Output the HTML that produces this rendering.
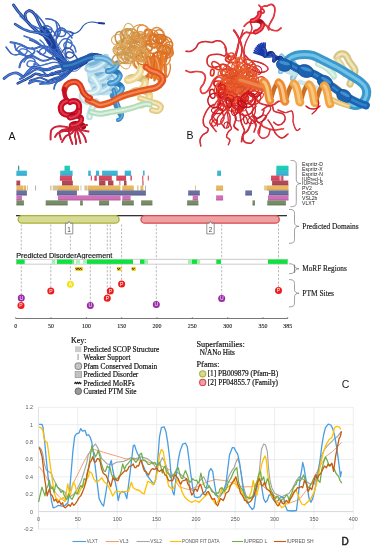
<!DOCTYPE html>
<html><head><meta charset="utf-8"><title>Figure</title>
<style>html,body{margin:0;padding:0;background:#fff;} svg{display:block;}</style></head>
<body><svg width="372" height="550" viewBox="0 0 372 550">
<rect width="372" height="550" fill="#fff"/>
<g id="A"><path d="M44,30 C50,40 56,50 60,58 C63,64 67,67 73,66 C79,64 85,60 90,57.5 C94,56.5 97,57 100,58" fill="none" stroke="#1a3a90" stroke-width="8.0" stroke-linecap="round" stroke-linejoin="round"/>
<path d="M40.4,31.8 C46.4,41.8 54.4,53.8 60.4,62.8 C65.84,70.6 72,72.6 77,70.6 C82,67.6 86,60.88 92,57.16" fill="none" stroke="#2a52b8" stroke-width="0.8" stroke-linecap="round" stroke-linejoin="round"/>
<path d="M42.2,30.9 C48.2,40.9 56.2,52.9 62.2,61.9 C66.92,68.8 72,70.8 77,68.8 C82,65.8 86,59.44 92,56.08" fill="none" stroke="#2048a8" stroke-width="0.8" stroke-linecap="round" stroke-linejoin="round"/>
<path d="M44.0,30.0 C50.0,40.0 58.0,52.0 64.0,61.0 C68.0,67.0 72,69.0 77,67.0 C82,64.0 86,58.0 92,55.0" fill="none" stroke="#2048a8" stroke-width="0.8" stroke-linecap="round" stroke-linejoin="round"/>
<path d="M45.8,29.1 C51.8,39.1 59.8,51.1 65.8,60.1 C69.08,65.2 72,67.2 77,65.2 C82,62.2 86,56.56 92,53.92" fill="none" stroke="#2a52b8" stroke-width="0.8" stroke-linecap="round" stroke-linejoin="round"/>
<path d="M47.6,28.2 C53.6,38.2 61.6,50.2 67.6,59.2 C70.16,63.4 72,65.4 77,63.4 C82,60.4 86,55.12 92,52.84" fill="none" stroke="#3560c4" stroke-width="0.8" stroke-linecap="round" stroke-linejoin="round"/>
<path d="M13.5,5 C16,9 20,14 24,18 C28,23 33,28 38,32 C42,35 46,36 50,40" fill="none" stroke="#1b3a8c" stroke-width="2.9" stroke-linecap="round" stroke-linejoin="round"/><path d="M13.5,5 C16,9 20,14 24,18 C28,23 33,28 38,32 C42,35 46,36 50,40" fill="none" stroke="#5a88d8" stroke-width="1.10" stroke-linecap="round" stroke-linejoin="round"/>
<path d="M26,19 C24,15 25,12 29,10.5 C33,11 36,15 38,21 C40,26 43,31 47,35" fill="none" stroke="#1b3a8c" stroke-width="2.8" stroke-linecap="round" stroke-linejoin="round"/><path d="M26,19 C24,15 25,12 29,10.5 C33,11 36,15 38,21 C40,26 43,31 47,35" fill="none" stroke="#5a88d8" stroke-width="1.06" stroke-linecap="round" stroke-linejoin="round"/>
<path d="M15,24 C19,27 24,30 30,31.5 C36,32.5 42,33 48,35" fill="none" stroke="#2450ae" stroke-width="2.5" stroke-linecap="round" stroke-linejoin="round"/><path d="M15,24 C19,27 24,30 30,31.5 C36,32.5 42,33 48,35" fill="none" stroke="#5a88d8" stroke-width="0.95" stroke-linecap="round" stroke-linejoin="round"/>
<path d="M45.7,18.8 C49,18.5 53.8,20 56,21.5 C58.5,23 61.4,28 60,33 C59,35 58.5,36 57,38" fill="none" stroke="#2450ae" stroke-width="1.3" stroke-linecap="round" stroke-linejoin="round"/><path d="M45.7,18.8 C49,18.5 53.8,20 56,21.5 C58.5,23 61.4,28 60,33 C59,35 58.5,36 57,38" fill="none" stroke="#5a88d8" stroke-width="0.49" stroke-linecap="round" stroke-linejoin="round"/>
<path d="M64.4,31.8 C67,31 70.3,31.1 73.3,33.3 C73,35 71,36 70.3,36.3 C68,37 67,39 66,44 C65,50 65,56 66,62" fill="none" stroke="#2f5fbc" stroke-width="1.6" stroke-linecap="round" stroke-linejoin="round"/><path d="M64.4,31.8 C67,31 70.3,31.1 73.3,33.3 C73,35 71,36 70.3,36.3 C68,37 67,39 66,44 C65,50 65,56 66,62" fill="none" stroke="#5a88d8" stroke-width="0.61" stroke-linecap="round" stroke-linejoin="round"/>
<path d="M56,22 C58,28 58,34 56,40 C56,46 58,52 62,58" fill="none" stroke="#2450ae" stroke-width="1.5" stroke-linecap="round" stroke-linejoin="round"/><path d="M56,22 C58,28 58,34 56,40 C56,46 58,52 62,58" fill="none" stroke="#5a88d8" stroke-width="0.57" stroke-linecap="round" stroke-linejoin="round"/>
<path d="M36,14 C40,18 44,22 46,28" fill="none" stroke="#2450ae" stroke-width="1.6" stroke-linecap="round" stroke-linejoin="round"/><path d="M36,14 C40,18 44,22 46,28" fill="none" stroke="#5a88d8" stroke-width="0.61" stroke-linecap="round" stroke-linejoin="round"/>
<path d="M20,16 C26,22 32,26 38,28 C42,29 44,30 46,32" fill="none" stroke="#2f5fbc" stroke-width="1.4" stroke-linecap="round" stroke-linejoin="round"/><path d="M20,16 C26,22 32,26 38,28 C42,29 44,30 46,32" fill="none" stroke="#5a88d8" stroke-width="0.53" stroke-linecap="round" stroke-linejoin="round"/>
<path d="M30,40 C36,42 42,46 48,50 C54,54 58,57 62,60" fill="none" stroke="#1b3a8c" stroke-width="1.8" stroke-linecap="round" stroke-linejoin="round"/><path d="M30,40 C36,42 42,46 48,50 C54,54 58,57 62,60" fill="none" stroke="#5a88d8" stroke-width="0.68" stroke-linecap="round" stroke-linejoin="round"/>
<path d="M24,36 C30,38 36,40 40,44 C44,48 48,52 54,56" fill="none" stroke="#2f5fbc" stroke-width="1.4" stroke-linecap="round" stroke-linejoin="round"/><path d="M24,36 C30,38 36,40 40,44 C44,48 48,52 54,56" fill="none" stroke="#5a88d8" stroke-width="0.53" stroke-linecap="round" stroke-linejoin="round"/>
<path d="M10.5,42.3 C11.4,42.4 14.4,42.7 16.1,43.1 C17.9,43.5 19.1,43.9 21.0,44.7 C22.9,45.5 25.2,47.2 27.4,47.9 C29.5,48.6 32.0,48.8 33.9,48.7 C35.8,48.6 37.1,47.5 38.7,47.1 C40.3,46.7 41.6,46.2 43.5,46.3 C45.4,46.4 47.9,46.9 50.0,47.9 C52.1,48.9 54.0,50.3 56.0,52.0 C58.0,53.7 60.0,56.2 62.0,58.0 C64.0,59.8 67.0,62.2 68.0,63.0" fill="none" stroke="#2450ae" stroke-width="2.0" stroke-linecap="round" stroke-linejoin="round"/><path d="M10.5,42.3 C11.4,42.4 14.4,42.7 16.1,43.1 C17.9,43.5 19.1,43.9 21.0,44.7 C22.9,45.5 25.2,47.2 27.4,47.9 C29.5,48.6 32.0,48.8 33.9,48.7 C35.8,48.6 37.1,47.5 38.7,47.1 C40.3,46.7 41.6,46.2 43.5,46.3 C45.4,46.4 47.9,46.9 50.0,47.9 C52.1,48.9 54.0,50.3 56.0,52.0 C58.0,53.7 60.0,56.2 62.0,58.0 C64.0,59.8 67.0,62.2 68.0,63.0" fill="none" stroke="#5a88d8" stroke-width="0.76" stroke-linecap="round" stroke-linejoin="round"/>
<path d="M14.5,43.9 C14.8,44.8 15.0,48.0 16.1,49.5 C17.2,51.0 19.4,51.6 21.0,52.7 C22.6,53.8 23.9,55.7 25.8,56.0 C27.7,56.3 30.8,55.2 32.3,54.4 C33.8,53.6 34.7,52.2 34.7,51.1 C34.7,50.0 32.7,48.4 32.3,47.9" fill="none" stroke="#2f5fbc" stroke-width="1.8" stroke-linecap="round" stroke-linejoin="round"/><path d="M14.5,43.9 C14.8,44.8 15.0,48.0 16.1,49.5 C17.2,51.0 19.4,51.6 21.0,52.7 C22.6,53.8 23.9,55.7 25.8,56.0 C27.7,56.3 30.8,55.2 32.3,54.4 C33.8,53.6 34.7,52.2 34.7,51.1 C34.7,50.0 32.7,48.4 32.3,47.9" fill="none" stroke="#5a88d8" stroke-width="0.68" stroke-linecap="round" stroke-linejoin="round"/>
<path d="M19.4,67.3 C19.7,66.5 19.9,64.0 21.0,62.4 C22.1,60.8 23.9,58.7 25.8,57.6 C27.7,56.5 30.1,55.7 32.3,56.0 C34.4,56.3 36.8,58.4 38.7,59.2 C40.6,60.0 41.6,60.8 43.5,60.8 C45.4,60.8 48.1,60.0 50.0,59.2 C51.9,58.4 53.1,56.2 54.8,56.0 C56.5,55.8 58.1,56.8 60.0,58.0 C61.9,59.2 64.0,61.7 66.0,63.0 C68.0,64.3 71.0,65.5 72.0,66.0" fill="none" stroke="#2450ae" stroke-width="2.0" stroke-linecap="round" stroke-linejoin="round"/><path d="M19.4,67.3 C19.7,66.5 19.9,64.0 21.0,62.4 C22.1,60.8 23.9,58.7 25.8,57.6 C27.7,56.5 30.1,55.7 32.3,56.0 C34.4,56.3 36.8,58.4 38.7,59.2 C40.6,60.0 41.6,60.8 43.5,60.8 C45.4,60.8 48.1,60.0 50.0,59.2 C51.9,58.4 53.1,56.2 54.8,56.0 C56.5,55.8 58.1,56.8 60.0,58.0 C61.9,59.2 64.0,61.7 66.0,63.0 C68.0,64.3 71.0,65.5 72.0,66.0" fill="none" stroke="#5a88d8" stroke-width="0.76" stroke-linecap="round" stroke-linejoin="round"/>
<path d="M4.0,78.5 C5.0,77.8 7.7,75.4 9.7,74.5 C11.7,73.6 14.2,72.8 16.1,72.9 C18.0,73.0 19.8,74.6 21.0,75.3 C22.2,76.0 22.1,77.7 23.4,76.9 C24.7,76.1 27.2,72.1 29.0,70.5 C30.8,68.9 31.8,67.6 33.9,67.3 C36.0,67.0 39.5,68.5 41.9,68.9 C44.3,69.3 46.2,70.0 48.4,69.7 C50.5,69.4 52.5,67.9 54.8,67.3 C57.1,66.7 59.5,66.0 62.0,66.0 C64.5,66.0 68.7,66.8 70.0,67.0" fill="none" stroke="#2450ae" stroke-width="2.8" stroke-linecap="round" stroke-linejoin="round"/><path d="M4.0,78.5 C5.0,77.8 7.7,75.4 9.7,74.5 C11.7,73.6 14.2,72.8 16.1,72.9 C18.0,73.0 19.8,74.6 21.0,75.3 C22.2,76.0 22.1,77.7 23.4,76.9 C24.7,76.1 27.2,72.1 29.0,70.5 C30.8,68.9 31.8,67.6 33.9,67.3 C36.0,67.0 39.5,68.5 41.9,68.9 C44.3,69.3 46.2,70.0 48.4,69.7 C50.5,69.4 52.5,67.9 54.8,67.3 C57.1,66.7 59.5,66.0 62.0,66.0 C64.5,66.0 68.7,66.8 70.0,67.0" fill="none" stroke="#5a88d8" stroke-width="1.06" stroke-linecap="round" stroke-linejoin="round"/>
<path d="M17.7,83.4 C18.8,82.9 22.0,81.3 24.2,80.2 C26.4,79.1 28.7,78.0 30.6,76.9 C32.5,75.8 33.6,74.0 35.5,73.7 C37.4,73.4 39.8,75.0 41.9,75.3 C44.0,75.6 46.2,75.6 48.4,75.3 C50.5,75.0 52.5,74.4 54.8,73.7 C57.1,73.0 59.5,72.0 62.0,71.0 C64.5,70.0 67.7,68.7 70.0,68.0 C72.3,67.3 75.0,67.2 76.0,67.0" fill="none" stroke="#1b3a8c" stroke-width="2.6" stroke-linecap="round" stroke-linejoin="round"/><path d="M17.7,83.4 C18.8,82.9 22.0,81.3 24.2,80.2 C26.4,79.1 28.7,78.0 30.6,76.9 C32.5,75.8 33.6,74.0 35.5,73.7 C37.4,73.4 39.8,75.0 41.9,75.3 C44.0,75.6 46.2,75.6 48.4,75.3 C50.5,75.0 52.5,74.4 54.8,73.7 C57.1,73.0 59.5,72.0 62.0,71.0 C64.5,70.0 67.7,68.7 70.0,68.0 C72.3,67.3 75.0,67.2 76.0,67.0" fill="none" stroke="#5a88d8" stroke-width="0.99" stroke-linecap="round" stroke-linejoin="round"/>
<path d="M29.0,83.4 C30.1,83.0 33.4,81.3 35.5,81.0 C37.6,80.7 39.8,81.4 41.9,81.8 C44.0,82.2 46.2,83.4 48.4,83.4 C50.5,83.4 52.9,82.3 54.8,81.8 C56.7,81.3 58.1,81.2 60.0,80.2 C61.9,79.2 64.0,77.7 66.0,76.0 C68.0,74.3 70.0,71.7 72.0,70.0 C74.0,68.3 77.0,66.7 78.0,66.0" fill="none" stroke="#2450ae" stroke-width="2.2" stroke-linecap="round" stroke-linejoin="round"/><path d="M29.0,83.4 C30.1,83.0 33.4,81.3 35.5,81.0 C37.6,80.7 39.8,81.4 41.9,81.8 C44.0,82.2 46.2,83.4 48.4,83.4 C50.5,83.4 52.9,82.3 54.8,81.8 C56.7,81.3 58.1,81.2 60.0,80.2 C61.9,79.2 64.0,77.7 66.0,76.0 C68.0,74.3 70.0,71.7 72.0,70.0 C74.0,68.3 77.0,66.7 78.0,66.0" fill="none" stroke="#5a88d8" stroke-width="0.84" stroke-linecap="round" stroke-linejoin="round"/>
<path d="M33.9,64.0 C35.0,64.3 38.1,65.6 40.3,65.6 C42.4,65.6 44.6,64.5 46.8,64.0 C48.9,63.5 51.0,62.6 53.2,62.4 C55.4,62.2 57.5,62.4 60.0,63.0 C62.5,63.6 66.7,65.5 68.0,66.0" fill="none" stroke="#2f5fbc" stroke-width="1.4" stroke-linecap="round" stroke-linejoin="round"/><path d="M33.9,64.0 C35.0,64.3 38.1,65.6 40.3,65.6 C42.4,65.6 44.6,64.5 46.8,64.0 C48.9,63.5 51.0,62.6 53.2,62.4 C55.4,62.2 57.5,62.4 60.0,63.0 C62.5,63.6 66.7,65.5 68.0,66.0" fill="none" stroke="#5a88d8" stroke-width="0.53" stroke-linecap="round" stroke-linejoin="round"/>
<path d="M37.1,51.1 C37.9,51.6 40.0,53.3 41.9,54.4 C43.8,55.5 46.2,56.8 48.4,57.6 C50.5,58.4 52.5,58.5 54.8,59.2 C57.1,59.9 59.5,60.9 62.0,62.0 C64.5,63.1 68.7,65.3 70.0,66.0" fill="none" stroke="#1b3a8c" stroke-width="1.6" stroke-linecap="round" stroke-linejoin="round"/><path d="M37.1,51.1 C37.9,51.6 40.0,53.3 41.9,54.4 C43.8,55.5 46.2,56.8 48.4,57.6 C50.5,58.4 52.5,58.5 54.8,59.2 C57.1,59.9 59.5,60.9 62.0,62.0 C64.5,63.1 68.7,65.3 70.0,66.0" fill="none" stroke="#5a88d8" stroke-width="0.61" stroke-linecap="round" stroke-linejoin="round"/>
<path d="M6.0,47.0 C6.5,47.7 8.0,49.8 9.0,51.0 C10.0,52.2 10.8,53.3 12.0,54.0 C13.2,54.7 14.7,55.0 16.0,55.0 C17.3,55.0 19.3,54.2 20.0,54.0" fill="none" stroke="#2450ae" stroke-width="1.4" stroke-linecap="round" stroke-linejoin="round"/><path d="M6.0,47.0 C6.5,47.7 8.0,49.8 9.0,51.0 C10.0,52.2 10.8,53.3 12.0,54.0 C13.2,54.7 14.7,55.0 16.0,55.0 C17.3,55.0 19.3,54.2 20.0,54.0" fill="none" stroke="#5a88d8" stroke-width="0.53" stroke-linecap="round" stroke-linejoin="round"/>
<path d="M40.0,84.0 C41.0,83.8 44.0,83.3 46.0,82.5 C48.0,81.7 50.0,79.9 52.0,79.0 C54.0,78.1 56.0,77.7 58.0,77.0 C60.0,76.3 62.3,75.8 64.0,75.0 C65.7,74.2 66.3,73.0 68.0,72.0 C69.7,71.0 73.0,69.5 74.0,69.0" fill="none" stroke="#2f5fbc" stroke-width="1.8" stroke-linecap="round" stroke-linejoin="round"/><path d="M40.0,84.0 C41.0,83.8 44.0,83.3 46.0,82.5 C48.0,81.7 50.0,79.9 52.0,79.0 C54.0,78.1 56.0,77.7 58.0,77.0 C60.0,76.3 62.3,75.8 64.0,75.0 C65.7,74.2 66.3,73.0 68.0,72.0 C69.7,71.0 73.0,69.5 74.0,69.0" fill="none" stroke="#5a88d8" stroke-width="0.68" stroke-linecap="round" stroke-linejoin="round"/>
<path d="M44.0,70.0 C45.0,69.7 48.0,68.7 50.0,68.0 C52.0,67.3 54.0,66.5 56.0,66.0 C58.0,65.5 60.3,65.3 62.0,65.0 C63.7,64.7 64.7,64.0 66.0,64.0 C67.3,64.0 68.7,64.7 70.0,65.0 C71.3,65.3 73.3,65.8 74.0,66.0" fill="none" stroke="#2450ae" stroke-width="1.6" stroke-linecap="round" stroke-linejoin="round"/><path d="M44.0,70.0 C45.0,69.7 48.0,68.7 50.0,68.0 C52.0,67.3 54.0,66.5 56.0,66.0 C58.0,65.5 60.3,65.3 62.0,65.0 C63.7,64.7 64.7,64.0 66.0,64.0 C67.3,64.0 68.7,64.7 70.0,65.0 C71.3,65.3 73.3,65.8 74.0,66.0" fill="none" stroke="#5a88d8" stroke-width="0.61" stroke-linecap="round" stroke-linejoin="round"/>
<path d="M52.0,75.0 C52.7,74.5 54.7,72.7 56.0,72.0 C57.3,71.3 58.7,71.3 60.0,71.0 C61.3,70.7 62.7,70.3 64.0,70.0 C65.3,69.7 66.7,69.3 68.0,69.0 C69.3,68.7 70.7,68.3 72.0,68.0 C73.3,67.7 75.3,67.2 76.0,67.0" fill="none" stroke="#1b3a8c" stroke-width="2.0" stroke-linecap="round" stroke-linejoin="round"/><path d="M52.0,75.0 C52.7,74.5 54.7,72.7 56.0,72.0 C57.3,71.3 58.7,71.3 60.0,71.0 C61.3,70.7 62.7,70.3 64.0,70.0 C65.3,69.7 66.7,69.3 68.0,69.0 C69.3,68.7 70.7,68.3 72.0,68.0 C73.3,67.7 75.3,67.2 76.0,67.0" fill="none" stroke="#5a88d8" stroke-width="0.76" stroke-linecap="round" stroke-linejoin="round"/>
<path d="M40.0,40.0 C40.7,40.7 43.0,42.3 44.0,44.0 C45.0,45.7 46.0,48.3 46.0,50.0 C46.0,51.7 45.0,53.3 44.0,54.0 C43.0,54.7 40.7,54.7 40.0,54.0 C39.3,53.3 39.3,51.0 40.0,50.0 C40.7,49.0 42.3,48.0 44.0,48.0 C45.7,48.0 48.0,49.0 50.0,50.0 C52.0,51.0 54.0,52.3 56.0,54.0 C58.0,55.7 61.0,59.0 62.0,60.0" fill="none" stroke="#2f5fbc" stroke-width="1.3" stroke-linecap="round" stroke-linejoin="round"/><path d="M40.0,40.0 C40.7,40.7 43.0,42.3 44.0,44.0 C45.0,45.7 46.0,48.3 46.0,50.0 C46.0,51.7 45.0,53.3 44.0,54.0 C43.0,54.7 40.7,54.7 40.0,54.0 C39.3,53.3 39.3,51.0 40.0,50.0 C40.7,49.0 42.3,48.0 44.0,48.0 C45.7,48.0 48.0,49.0 50.0,50.0 C52.0,51.0 54.0,52.3 56.0,54.0 C58.0,55.7 61.0,59.0 62.0,60.0" fill="none" stroke="#5a88d8" stroke-width="0.49" stroke-linecap="round" stroke-linejoin="round"/>
<path d="M48.0,38.0 C48.7,39.0 51.7,42.3 52.0,44.0 C52.3,45.7 49.7,47.0 50.0,48.0 C50.3,49.0 52.7,50.0 54.0,50.0 C55.3,50.0 57.0,47.7 58.0,48.0 C59.0,48.3 59.3,50.3 60.0,52.0 C60.7,53.7 61.7,57.0 62.0,58.0" fill="none" stroke="#2450ae" stroke-width="1.3" stroke-linecap="round" stroke-linejoin="round"/><path d="M48.0,38.0 C48.7,39.0 51.7,42.3 52.0,44.0 C52.3,45.7 49.7,47.0 50.0,48.0 C50.3,49.0 52.7,50.0 54.0,50.0 C55.3,50.0 57.0,47.7 58.0,48.0 C59.0,48.3 59.3,50.3 60.0,52.0 C60.7,53.7 61.7,57.0 62.0,58.0" fill="none" stroke="#5a88d8" stroke-width="0.49" stroke-linecap="round" stroke-linejoin="round"/>
<path d="M20.0,79.0 C21.3,78.2 25.3,76.0 28.0,74.4 C30.7,72.8 33.6,70.1 36.0,69.5 C38.4,68.9 40.7,69.9 42.6,71.0 C44.5,72.1 45.8,75.7 47.4,76.0 C49.0,76.3 50.1,73.0 52.3,72.7 C54.4,72.4 58.0,74.2 60.3,74.4 C62.6,74.6 64.0,74.7 66.0,74.0 C68.0,73.3 71.0,70.7 72.0,70.0" fill="none" stroke="#2450ae" stroke-width="2.0" stroke-linecap="round" stroke-linejoin="round"/><path d="M20.0,79.0 C21.3,78.2 25.3,76.0 28.0,74.4 C30.7,72.8 33.6,70.1 36.0,69.5 C38.4,68.9 40.7,69.9 42.6,71.0 C44.5,72.1 45.8,75.7 47.4,76.0 C49.0,76.3 50.1,73.0 52.3,72.7 C54.4,72.4 58.0,74.2 60.3,74.4 C62.6,74.6 64.0,74.7 66.0,74.0 C68.0,73.3 71.0,70.7 72.0,70.0" fill="none" stroke="#5a88d8" stroke-width="0.76" stroke-linecap="round" stroke-linejoin="round"/>
<path d="M29.7,80.8 C31.3,80.3 37.0,77.9 39.4,77.6 C41.8,77.3 42.6,78.7 44.2,79.2 C45.8,79.7 47.1,80.8 49.0,80.8 C50.9,80.8 53.6,79.7 55.5,79.2 C57.4,78.7 58.5,78.5 60.3,77.6 C62.0,76.7 64.0,75.4 66.0,74.0 C68.0,72.6 71.0,69.8 72.0,69.0" fill="none" stroke="#1b3a8c" stroke-width="1.9" stroke-linecap="round" stroke-linejoin="round"/><path d="M29.7,80.8 C31.3,80.3 37.0,77.9 39.4,77.6 C41.8,77.3 42.6,78.7 44.2,79.2 C45.8,79.7 47.1,80.8 49.0,80.8 C50.9,80.8 53.6,79.7 55.5,79.2 C57.4,78.7 58.5,78.5 60.3,77.6 C62.0,76.7 64.0,75.4 66.0,74.0 C68.0,72.6 71.0,69.8 72.0,69.0" fill="none" stroke="#5a88d8" stroke-width="0.72" stroke-linecap="round" stroke-linejoin="round"/>
<path d="M41.0,84.0 C42.3,83.9 46.3,83.7 49.0,83.2 C51.7,82.7 55.4,81.7 57.0,80.8 C58.6,79.9 57.9,78.7 58.7,77.6 C59.5,76.5 60.5,75.3 62.0,74.0 C63.5,72.7 67.0,70.7 68.0,70.0" fill="none" stroke="#2f5fbc" stroke-width="1.7" stroke-linecap="round" stroke-linejoin="round"/><path d="M41.0,84.0 C42.3,83.9 46.3,83.7 49.0,83.2 C51.7,82.7 55.4,81.7 57.0,80.8 C58.6,79.9 57.9,78.7 58.7,77.6 C59.5,76.5 60.5,75.3 62.0,74.0 C63.5,72.7 67.0,70.7 68.0,70.0" fill="none" stroke="#5a88d8" stroke-width="0.65" stroke-linecap="round" stroke-linejoin="round"/>
<path d="M54.0,89.0 C54.2,88.3 54.3,86.3 55.0,85.0 C55.7,83.7 56.7,82.3 58.0,81.0 C59.3,79.7 61.3,78.5 63.0,77.0 C64.7,75.5 67.2,72.8 68.0,72.0" fill="none" stroke="#2450ae" stroke-width="1.6" stroke-linecap="round" stroke-linejoin="round"/><path d="M54.0,89.0 C54.2,88.3 54.3,86.3 55.0,85.0 C55.7,83.7 56.7,82.3 58.0,81.0 C59.3,79.7 61.3,78.5 63.0,77.0 C64.7,75.5 67.2,72.8 68.0,72.0" fill="none" stroke="#5a88d8" stroke-width="0.61" stroke-linecap="round" stroke-linejoin="round"/>
<path d="M54.0,36.0 C54.5,35.0 55.7,31.3 57.0,30.0 C58.3,28.7 60.5,27.8 62.0,28.0 C63.5,28.2 65.7,29.7 66.0,31.0 C66.3,32.3 65.2,35.2 64.0,36.0 C62.8,36.8 60.0,36.7 59.0,36.0 C58.0,35.3 57.5,33.0 58.0,32.0 C58.5,31.0 60.3,29.8 62.0,30.0 C63.7,30.2 66.3,31.7 68.0,33.0 C69.7,34.3 71.3,37.2 72.0,38.0" fill="none" stroke="#2450ae" stroke-width="1.4" stroke-linecap="round" stroke-linejoin="round"/><path d="M54.0,36.0 C54.5,35.0 55.7,31.3 57.0,30.0 C58.3,28.7 60.5,27.8 62.0,28.0 C63.5,28.2 65.7,29.7 66.0,31.0 C66.3,32.3 65.2,35.2 64.0,36.0 C62.8,36.8 60.0,36.7 59.0,36.0 C58.0,35.3 57.5,33.0 58.0,32.0 C58.5,31.0 60.3,29.8 62.0,30.0 C63.7,30.2 66.3,31.7 68.0,33.0 C69.7,34.3 71.3,37.2 72.0,38.0" fill="none" stroke="#5a88d8" stroke-width="0.53" stroke-linecap="round" stroke-linejoin="round"/>
<path d="M58.0,46.0 C58.7,45.0 60.3,41.2 62.0,40.0 C63.7,38.8 66.3,38.5 68.0,39.0 C69.7,39.5 71.7,41.5 72.0,43.0 C72.3,44.5 71.2,47.2 70.0,48.0 C68.8,48.8 66.0,48.7 65.0,48.0 C64.0,47.3 63.5,45.0 64.0,44.0 C64.5,43.0 66.3,41.7 68.0,42.0 C69.7,42.3 72.7,44.3 74.0,46.0 C75.3,47.7 75.7,51.0 76.0,52.0" fill="none" stroke="#2f5fbc" stroke-width="1.3" stroke-linecap="round" stroke-linejoin="round"/><path d="M58.0,46.0 C58.7,45.0 60.3,41.2 62.0,40.0 C63.7,38.8 66.3,38.5 68.0,39.0 C69.7,39.5 71.7,41.5 72.0,43.0 C72.3,44.5 71.2,47.2 70.0,48.0 C68.8,48.8 66.0,48.7 65.0,48.0 C64.0,47.3 63.5,45.0 64.0,44.0 C64.5,43.0 66.3,41.7 68.0,42.0 C69.7,42.3 72.7,44.3 74.0,46.0 C75.3,47.7 75.7,51.0 76.0,52.0" fill="none" stroke="#5a88d8" stroke-width="0.49" stroke-linecap="round" stroke-linejoin="round"/>
<path d="M62.0,52.0 C62.7,51.3 64.3,48.3 66.0,48.0 C67.7,47.7 70.7,48.8 72.0,50.0 C73.3,51.2 74.3,53.7 74.0,55.0 C73.7,56.3 71.3,57.8 70.0,58.0 C68.7,58.2 66.3,57.0 66.0,56.0 C65.7,55.0 66.7,52.3 68.0,52.0 C69.3,51.7 72.3,52.7 74.0,54.0 C75.7,55.3 77.3,59.0 78.0,60.0" fill="none" stroke="#1b3a8c" stroke-width="1.3" stroke-linecap="round" stroke-linejoin="round"/><path d="M62.0,52.0 C62.7,51.3 64.3,48.3 66.0,48.0 C67.7,47.7 70.7,48.8 72.0,50.0 C73.3,51.2 74.3,53.7 74.0,55.0 C73.7,56.3 71.3,57.8 70.0,58.0 C68.7,58.2 66.3,57.0 66.0,56.0 C65.7,55.0 66.7,52.3 68.0,52.0 C69.3,51.7 72.3,52.7 74.0,54.0 C75.7,55.3 77.3,59.0 78.0,60.0" fill="none" stroke="#5a88d8" stroke-width="0.49" stroke-linecap="round" stroke-linejoin="round"/>
<path d="M16.0,50.0 C16.7,49.3 18.3,46.5 20.0,46.0 C21.7,45.5 24.8,46.0 26.0,47.0 C27.2,48.0 27.5,50.7 27.0,52.0 C26.5,53.3 24.3,54.8 23.0,55.0 C21.7,55.2 19.3,54.0 19.0,53.0 C18.7,52.0 19.7,49.5 21.0,49.0 C22.3,48.5 25.2,49.2 27.0,50.0 C28.8,50.8 31.2,53.3 32.0,54.0" fill="none" stroke="#2f5fbc" stroke-width="1.2" stroke-linecap="round" stroke-linejoin="round"/><path d="M16.0,50.0 C16.7,49.3 18.3,46.5 20.0,46.0 C21.7,45.5 24.8,46.0 26.0,47.0 C27.2,48.0 27.5,50.7 27.0,52.0 C26.5,53.3 24.3,54.8 23.0,55.0 C21.7,55.2 19.3,54.0 19.0,53.0 C18.7,52.0 19.7,49.5 21.0,49.0 C22.3,48.5 25.2,49.2 27.0,50.0 C28.8,50.8 31.2,53.3 32.0,54.0" fill="none" stroke="#5a88d8" stroke-width="0.46" stroke-linecap="round" stroke-linejoin="round"/>
<path d="M24.0,62.0 C24.7,61.3 26.3,58.5 28.0,58.0 C29.7,57.5 32.8,58.0 34.0,59.0 C35.2,60.0 35.5,62.7 35.0,64.0 C34.5,65.3 32.3,66.8 31.0,67.0 C29.7,67.2 27.3,66.0 27.0,65.0 C26.7,64.0 27.7,61.5 29.0,61.0 C30.3,60.5 33.2,61.2 35.0,62.0 C36.8,62.8 39.2,65.3 40.0,66.0" fill="none" stroke="#2450ae" stroke-width="1.2" stroke-linecap="round" stroke-linejoin="round"/><path d="M24.0,62.0 C24.7,61.3 26.3,58.5 28.0,58.0 C29.7,57.5 32.8,58.0 34.0,59.0 C35.2,60.0 35.5,62.7 35.0,64.0 C34.5,65.3 32.3,66.8 31.0,67.0 C29.7,67.2 27.3,66.0 27.0,65.0 C26.7,64.0 27.7,61.5 29.0,61.0 C30.3,60.5 33.2,61.2 35.0,62.0 C36.8,62.8 39.2,65.3 40.0,66.0" fill="none" stroke="#5a88d8" stroke-width="0.46" stroke-linecap="round" stroke-linejoin="round"/>
<path d="M40.0,30.0 C40.7,29.3 42.3,26.5 44.0,26.0 C45.7,25.5 48.7,26.2 50.0,27.0 C51.3,27.8 52.3,29.8 52.0,31.0 C51.7,32.2 49.3,33.8 48.0,34.0 C46.7,34.2 44.2,32.8 44.0,32.0 C43.8,31.2 45.5,29.2 47.0,29.0 C48.5,28.8 51.5,29.8 53.0,31.0 C54.5,32.2 55.5,35.2 56.0,36.0" fill="none" stroke="#2450ae" stroke-width="1.3" stroke-linecap="round" stroke-linejoin="round"/><path d="M40.0,30.0 C40.7,29.3 42.3,26.5 44.0,26.0 C45.7,25.5 48.7,26.2 50.0,27.0 C51.3,27.8 52.3,29.8 52.0,31.0 C51.7,32.2 49.3,33.8 48.0,34.0 C46.7,34.2 44.2,32.8 44.0,32.0 C43.8,31.2 45.5,29.2 47.0,29.0 C48.5,28.8 51.5,29.8 53.0,31.0 C54.5,32.2 55.5,35.2 56.0,36.0" fill="none" stroke="#5a88d8" stroke-width="0.49" stroke-linecap="round" stroke-linejoin="round"/>
<path d="M70,32 C74,35 79,33 83,26 C86,22 92,21 98,23 L104,23.5" fill="none" stroke="#2450ae" stroke-width="1.2" stroke-linecap="round" stroke-linejoin="round"/>
<path d="M99,23 L104,23.5" fill="none" stroke="#1b3a8c" stroke-width="2.2" stroke-linecap="round" stroke-linejoin="round"/>
<path d="M64,66 C70,66 76,63.5 82,60.5 C88,57.5 94,56.5 100,58" fill="none" stroke="#1f5cab" stroke-width="7.0" stroke-linecap="round" stroke-linejoin="round"/><path d="M64,66 C70,66 76,63.5 82,60.5 C88,57.5 94,56.5 100,58" fill="none" stroke="#3a7cc6" stroke-width="2.40" stroke-linecap="round" stroke-linejoin="round"/>
<path d="M88,62 C96,57 108,58 116,64 C122,72 121,84 114,92 C106,98 96,96 91,88 C87,80 85,68 88,62 Z" fill="#c4e2ee"/>
<path d="M88.1,68.5 L88.5,67.3 L90.4,66.0 L93.4,64.9 L97.2,64.2 L101.2,64.1 L104.8,64.9 L107.5,66.4 L108.9,68.5" fill="none" stroke="#7ab4d8" stroke-width="6.8" stroke-linecap="round" stroke-linejoin="round"/><path d="M91.4,79.8 L91.9,78.7 L93.7,77.4 L96.8,76.2 L100.6,75.5 L104.5,75.5 L108.1,76.2 L110.8,77.7 L112.3,79.8" fill="none" stroke="#7ab4d8" stroke-width="6.8" stroke-linecap="round" stroke-linejoin="round"/><path d="M94.7,91.2 L95.2,90.0 L97.1,88.7 L100.1,87.5 L103.9,86.8 L107.9,86.8 L111.5,87.5 L114.2,89.0 L115.6,91.2" fill="none" stroke="#7ab4d8" stroke-width="6.8" stroke-linecap="round" stroke-linejoin="round"/><path d="M105.6,57.2 L105.6,59.8 L104.1,62.5 L101.5,65.0 L98.1,67.2 L94.5,68.6 L91.4,69.3 L89.1,69.2 L88.1,68.5" fill="none" stroke="#a6d2e8" stroke-width="6.8" stroke-linecap="round" stroke-linejoin="round"/><path d="M105.6,57.2 L105.6,59.8 L104.1,62.5 L101.5,65.0 L98.1,67.2 L94.5,68.6 L91.4,69.3 L89.1,69.2 L88.1,68.5" fill="none" stroke="#d8eef6" stroke-width="2.38" stroke-linecap="round" stroke-linejoin="round"/><path d="M108.9,68.5 L108.9,71.1 L107.4,73.8 L104.8,76.4 L101.4,78.5 L97.9,79.9 L94.7,80.6 L92.4,80.6 L91.4,79.8" fill="none" stroke="#a6d2e8" stroke-width="6.8" stroke-linecap="round" stroke-linejoin="round"/><path d="M108.9,68.5 L108.9,71.1 L107.4,73.8 L104.8,76.4 L101.4,78.5 L97.9,79.9 L94.7,80.6 L92.4,80.6 L91.4,79.8" fill="none" stroke="#d8eef6" stroke-width="2.38" stroke-linecap="round" stroke-linejoin="round"/><path d="M112.3,79.8 L112.2,82.4 L110.8,85.1 L108.1,87.7 L104.8,89.8 L101.2,91.3 L98.0,92.0 L95.7,91.9 L94.7,91.2" fill="none" stroke="#a6d2e8" stroke-width="6.8" stroke-linecap="round" stroke-linejoin="round"/><path d="M112.3,79.8 L112.2,82.4 L110.8,85.1 L108.1,87.7 L104.8,89.8 L101.2,91.3 L98.0,92.0 L95.7,91.9 L94.7,91.2" fill="none" stroke="#d8eef6" stroke-width="2.38" stroke-linecap="round" stroke-linejoin="round"/>
<path d="M107.7,71.1 L108.2,70.9 L109.5,70.7 L111.4,70.6 L113.7,70.9 L115.9,71.5 L117.9,72.6 L119.2,74.0 L119.8,75.7" fill="none" stroke="#2a78ba" stroke-width="5.4" stroke-linecap="round" stroke-linejoin="round"/><path d="M110.1,83.4 L110.8,83.1 L112.2,82.9 L114.2,82.9 L116.5,83.3 L118.7,84.0 L120.5,85.2 L121.7,86.7 L122.1,88.4" fill="none" stroke="#2a78ba" stroke-width="5.4" stroke-linecap="round" stroke-linejoin="round"/><path d="M112.5,95.7 L113.4,95.4" fill="none" stroke="#2a78ba" stroke-width="5.4" stroke-linecap="round" stroke-linejoin="round"/><path d="M117.4,63.0 L117.3,64.8 L116.4,66.6 L114.8,68.2 L112.9,69.6 L110.9,70.5 L109.2,71.1 L108.1,71.3 L107.7,71.1" fill="none" stroke="#4496cc" stroke-width="5.4" stroke-linecap="round" stroke-linejoin="round"/><path d="M117.4,63.0 L117.3,64.8 L116.4,66.6 L114.8,68.2 L112.9,69.6 L110.9,70.5 L109.2,71.1 L108.1,71.3 L107.7,71.1" fill="none" stroke="#7ebee2" stroke-width="1.89" stroke-linecap="round" stroke-linejoin="round"/><path d="M119.8,75.7 L119.5,77.5 L118.4,79.3 L116.7,80.9 L114.8,82.1 L112.8,83.0 L111.2,83.5 L110.3,83.6 L110.1,83.4" fill="none" stroke="#4496cc" stroke-width="5.4" stroke-linecap="round" stroke-linejoin="round"/><path d="M119.8,75.7 L119.5,77.5 L118.4,79.3 L116.7,80.9 L114.8,82.1 L112.8,83.0 L111.2,83.5 L110.3,83.6 L110.1,83.4" fill="none" stroke="#7ebee2" stroke-width="1.89" stroke-linecap="round" stroke-linejoin="round"/><path d="M122.1,88.4 L121.6,90.2 L120.4,92.0 L118.6,93.5 L116.6,94.7 L114.7,95.5 L113.2,95.8 L112.5,95.8 L112.5,95.7" fill="none" stroke="#4496cc" stroke-width="5.4" stroke-linecap="round" stroke-linejoin="round"/><path d="M122.1,88.4 L121.6,90.2 L120.4,92.0 L118.6,93.5 L116.6,94.7 L114.7,95.5 L113.2,95.8 L112.5,95.8 L112.5,95.7" fill="none" stroke="#7ebee2" stroke-width="1.89" stroke-linecap="round" stroke-linejoin="round"/>
<path d="M96,58 C100,57.5 104,58 108,60 L113,64" fill="none" stroke="#5fa6d6" stroke-width="6.0" stroke-linecap="round" stroke-linejoin="round"/><path d="M96,58 C100,57.5 104,58 108,60 L113,64" fill="none" stroke="#92c8e6" stroke-width="2.00" stroke-linecap="round" stroke-linejoin="round"/>
<path d="M92.7,77 C96,81 99,85 99,88 C98,92 92,94 85,93 C81,94 81,97 84,100 C88,103 93,103 96,101.5 C96,105 92,107 91,110 C90,113 89.5,116 89.5,117" fill="none" stroke="#bfe2ea" stroke-width="6.5" stroke-linecap="round" stroke-linejoin="round"/><path d="M92.7,77 C96,81 99,85 99,88 C98,92 92,94 85,93 C81,94 81,97 84,100 C88,103 93,103 96,101.5 C96,105 92,107 91,110 C90,113 89.5,116 89.5,117" fill="none" stroke="#e6f5f8" stroke-width="2.40" stroke-linecap="round" stroke-linejoin="round"/>
<path d="M113.7,90 C116,98 117,106 121.8,112.7 C123,116 121,119 118,120" fill="none" stroke="#3a88c4" stroke-width="4.0" stroke-linecap="round" stroke-linejoin="round"/><path d="M113.7,90 C116,98 117,106 121.8,112.7 C123,116 121,119 118,120" fill="none" stroke="#70b4dc" stroke-width="1.30" stroke-linecap="round" stroke-linejoin="round"/>
<path d="M112,96 C114,104 116,110 120,116" fill="none" stroke="#3a88c4" stroke-width="2.8" stroke-linecap="round" stroke-linejoin="round"/>
<ellipse cx="132" cy="56" rx="16" ry="10" fill="#f6e8c8" opacity="0.8"/>
<ellipse cx="131.5" cy="35.4" rx="7.1" ry="6.5" transform="rotate(17 131.5 35.4)" fill="none" stroke="#d8a458" stroke-width="1.4"/>
<ellipse cx="163.1" cy="37.7" rx="4.0" ry="2.3" transform="rotate(16 163.1 37.7)" fill="none" stroke="#e48c3c" stroke-width="1.3"/>
<ellipse cx="158.7" cy="34.5" rx="4.7" ry="4.6" transform="rotate(104 158.7 34.5)" fill="none" stroke="#d47028" stroke-width="1.3"/>
<ellipse cx="160.4" cy="40.4" rx="4.3" ry="3.5" transform="rotate(101 160.4 40.4)" fill="none" stroke="#dc7a2c" stroke-width="1.4"/>
<ellipse cx="119.6" cy="50.6" rx="4.5" ry="3.6" transform="rotate(11 119.6 50.6)" fill="none" stroke="#d8a458" stroke-width="1.1"/>
<ellipse cx="125.1" cy="54.5" rx="5.9" ry="4.4" transform="rotate(166 125.1 54.5)" fill="none" stroke="#cc9a50" stroke-width="1.3"/>
<ellipse cx="127.4" cy="36.5" rx="7.8" ry="6.3" transform="rotate(95 127.4 36.5)" fill="none" stroke="#d8a458" stroke-width="1.5"/>
<ellipse cx="153.4" cy="40.4" rx="8.9" ry="6.9" transform="rotate(30 153.4 40.4)" fill="none" stroke="#dc7a2c" stroke-width="1.3"/>
<ellipse cx="164.4" cy="45.2" rx="8.8" ry="7.9" transform="rotate(103 164.4 45.2)" fill="none" stroke="#dc7a2c" stroke-width="1.5"/>
<ellipse cx="130.9" cy="55.0" rx="6.8" ry="6.2" transform="rotate(12 130.9 55.0)" fill="none" stroke="#c89048" stroke-width="1.1"/>
<ellipse cx="128.6" cy="55.1" rx="3.9" ry="3.2" transform="rotate(179 128.6 55.1)" fill="none" stroke="#cc9a50" stroke-width="1.5"/>
<ellipse cx="129.4" cy="43.9" rx="7.2" ry="7.0" transform="rotate(64 129.4 43.9)" fill="none" stroke="#d8a458" stroke-width="1.4"/>
<ellipse cx="140.7" cy="37.9" rx="5.1" ry="3.7" transform="rotate(165 140.7 37.9)" fill="none" stroke="#d88a3e" stroke-width="1.3"/>
<ellipse cx="123.0" cy="44.5" rx="5.0" ry="4.6" transform="rotate(156 123.0 44.5)" fill="none" stroke="#e0b068" stroke-width="1.2"/>
<ellipse cx="136.4" cy="42.9" rx="8.4" ry="5.2" transform="rotate(32 136.4 42.9)" fill="none" stroke="#d88a3e" stroke-width="1.2"/>
<ellipse cx="126.6" cy="47.5" rx="6.7" ry="4.6" transform="rotate(26 126.6 47.5)" fill="none" stroke="#cc9a50" stroke-width="1.4"/>
<ellipse cx="146.9" cy="41.5" rx="4.2" ry="4.1" transform="rotate(118 146.9 41.5)" fill="none" stroke="#e09a4a" stroke-width="1.5"/>
<ellipse cx="138.7" cy="61.4" rx="8.7" ry="6.3" transform="rotate(72 138.7 61.4)" fill="none" stroke="#e09a4a" stroke-width="1.2"/>
<ellipse cx="148.3" cy="32.2" rx="3.9" ry="2.9" transform="rotate(20 148.3 32.2)" fill="none" stroke="#e08434" stroke-width="1.4"/>
<ellipse cx="119.5" cy="50.4" rx="6.5" ry="5.3" transform="rotate(13 119.5 50.4)" fill="none" stroke="#cc9a50" stroke-width="1.2"/>
<ellipse cx="134.3" cy="52.8" rx="8.8" ry="6.3" transform="rotate(22 134.3 52.8)" fill="none" stroke="#e09a4a" stroke-width="1.5"/>
<ellipse cx="167.6" cy="46.8" rx="6.2" ry="3.8" transform="rotate(135 167.6 46.8)" fill="none" stroke="#dc7a2c" stroke-width="1.5"/>
<ellipse cx="139.8" cy="54.9" rx="6.3" ry="6.2" transform="rotate(95 139.8 54.9)" fill="none" stroke="#d88a3e" stroke-width="1.2"/>
<ellipse cx="143.3" cy="31.0" rx="6.4" ry="5.5" transform="rotate(47 143.3 31.0)" fill="none" stroke="#e09444" stroke-width="1.3"/>
<ellipse cx="123.0" cy="57.8" rx="6.4" ry="4.5" transform="rotate(40 123.0 57.8)" fill="none" stroke="#c89048" stroke-width="1.5"/>
<ellipse cx="157.5" cy="59.5" rx="7.6" ry="4.8" transform="rotate(89 157.5 59.5)" fill="none" stroke="#e08434" stroke-width="1.5"/>
<ellipse cx="139.5" cy="37.0" rx="6.8" ry="5.1" transform="rotate(169 139.5 37.0)" fill="none" stroke="#dca050" stroke-width="1.6"/>
<ellipse cx="165.6" cy="43.1" rx="4.7" ry="3.6" transform="rotate(61 165.6 43.1)" fill="none" stroke="#e08434" stroke-width="1.3"/>
<ellipse cx="167.2" cy="52.0" rx="3.5" ry="3.2" transform="rotate(15 167.2 52.0)" fill="none" stroke="#d86e24" stroke-width="1.4"/>
<ellipse cx="163.1" cy="58.2" rx="7.6" ry="7.2" transform="rotate(78 163.1 58.2)" fill="none" stroke="#e48c3c" stroke-width="1.4"/>
<ellipse cx="153.0" cy="46.7" rx="7.6" ry="6.6" transform="rotate(31 153.0 46.7)" fill="none" stroke="#dc7a2c" stroke-width="1.2"/>
<ellipse cx="157.6" cy="35.3" rx="8.0" ry="6.8" transform="rotate(63 157.6 35.3)" fill="none" stroke="#e48c3c" stroke-width="1.4"/>
<ellipse cx="166.4" cy="53.4" rx="6.4" ry="4.8" transform="rotate(157 166.4 53.4)" fill="none" stroke="#e08434" stroke-width="1.5"/>
<ellipse cx="125.4" cy="39.1" rx="5.1" ry="4.6" transform="rotate(59 125.4 39.1)" fill="none" stroke="#e0b068" stroke-width="1.4"/>
<ellipse cx="154.0" cy="62.3" rx="7.1" ry="5.3" transform="rotate(165 154.0 62.3)" fill="none" stroke="#d47028" stroke-width="1.4"/>
<ellipse cx="142.7" cy="48.8" rx="3.6" ry="3.2" transform="rotate(110 142.7 48.8)" fill="none" stroke="#d49448" stroke-width="1.5"/>
<ellipse cx="147.4" cy="34.3" rx="3.8" ry="3.0" transform="rotate(87 147.4 34.3)" fill="none" stroke="#e09a4a" stroke-width="1.5"/>
<ellipse cx="119.3" cy="46.3" rx="3.7" ry="2.7" transform="rotate(110 119.3 46.3)" fill="none" stroke="#d8a458" stroke-width="1.4"/>
<ellipse cx="141.7" cy="54.9" rx="6.0" ry="5.5" transform="rotate(91 141.7 54.9)" fill="none" stroke="#e09a4a" stroke-width="1.2"/>
<ellipse cx="142.3" cy="61.5" rx="8.6" ry="8.2" transform="rotate(36 142.3 61.5)" fill="none" stroke="#d47028" stroke-width="1.3"/>
<ellipse cx="136.5" cy="44.1" rx="5.2" ry="3.9" transform="rotate(38 136.5 44.1)" fill="none" stroke="#d88a3e" stroke-width="1.3"/>
<ellipse cx="120.6" cy="58.0" rx="8.7" ry="5.3" transform="rotate(159 120.6 58.0)" fill="none" stroke="#cc9a50" stroke-width="1.6"/>
<ellipse cx="135.5" cy="47.5" rx="8.9" ry="5.6" transform="rotate(78 135.5 47.5)" fill="none" stroke="#d88a3e" stroke-width="1.4"/>
<ellipse cx="132.3" cy="37.0" rx="5.3" ry="2.9" transform="rotate(100 132.3 37.0)" fill="none" stroke="#cc9a50" stroke-width="1.3"/>
<ellipse cx="147.7" cy="48.4" rx="3.9" ry="3.8" transform="rotate(19 147.7 48.4)" fill="none" stroke="#d88a3e" stroke-width="1.2"/>
<ellipse cx="128.6" cy="34.7" rx="5.8" ry="4.3" transform="rotate(97 128.6 34.7)" fill="none" stroke="#cc9a50" stroke-width="1.4"/>
<ellipse cx="140.7" cy="41.8" rx="5.0" ry="3.7" transform="rotate(13 140.7 41.8)" fill="none" stroke="#d88a3e" stroke-width="1.6"/>
<ellipse cx="148.3" cy="58.9" rx="4.0" ry="2.3" transform="rotate(155 148.3 58.9)" fill="none" stroke="#e08434" stroke-width="1.3"/>
<ellipse cx="132.3" cy="49.9" rx="8.6" ry="7.1" transform="rotate(8 132.3 49.9)" fill="none" stroke="#cc9a50" stroke-width="1.5"/>
<ellipse cx="128.1" cy="36.5" rx="8.6" ry="6.8" transform="rotate(37 128.1 36.5)" fill="none" stroke="#cc9a50" stroke-width="1.3"/>
<ellipse cx="150.3" cy="39.7" rx="7.9" ry="4.5" transform="rotate(3 150.3 39.7)" fill="none" stroke="#d86e24" stroke-width="1.4"/>
<ellipse cx="166.8" cy="48.5" rx="4.9" ry="2.9" transform="rotate(147 166.8 48.5)" fill="none" stroke="#e48c3c" stroke-width="1.3"/>
<ellipse cx="140.7" cy="60.0" rx="5.7" ry="3.9" transform="rotate(39 140.7 60.0)" fill="none" stroke="#d47028" stroke-width="1.2"/>
<ellipse cx="124.7" cy="61.7" rx="7.5" ry="5.5" transform="rotate(63 124.7 61.7)" fill="none" stroke="#e0b068" stroke-width="1.1"/>
<ellipse cx="154.0" cy="39.2" rx="4.4" ry="3.7" transform="rotate(69 154.0 39.2)" fill="none" stroke="#dc7a2c" stroke-width="1.4"/>
<ellipse cx="166.4" cy="51.6" rx="7.3" ry="5.5" transform="rotate(28 166.4 51.6)" fill="none" stroke="#dc7a2c" stroke-width="1.3"/>
<ellipse cx="166.5" cy="49.7" rx="4.8" ry="3.1" transform="rotate(33 166.5 49.7)" fill="none" stroke="#d86e24" stroke-width="1.3"/>
<ellipse cx="118.5" cy="40.0" rx="7.1" ry="5.5" transform="rotate(1 118.5 40.0)" fill="none" stroke="#e0b068" stroke-width="1.2"/>
<ellipse cx="118.8" cy="44.4" rx="3.7" ry="2.6" transform="rotate(113 118.8 44.4)" fill="none" stroke="#d8a458" stroke-width="1.1"/>
<ellipse cx="156.3" cy="51.5" rx="7.7" ry="4.8" transform="rotate(130 156.3 51.5)" fill="none" stroke="#e48c3c" stroke-width="1.4"/>
<ellipse cx="162.2" cy="52.6" rx="7.5" ry="4.6" transform="rotate(94 162.2 52.6)" fill="none" stroke="#d47028" stroke-width="1.4"/>
<ellipse cx="159.1" cy="59.0" rx="8.0" ry="7.3" transform="rotate(128 159.1 59.0)" fill="none" stroke="#d47028" stroke-width="1.6"/>
<ellipse cx="148.7" cy="33.1" rx="3.7" ry="3.7" transform="rotate(68 148.7 33.1)" fill="none" stroke="#d86e24" stroke-width="1.3"/>
<ellipse cx="142.7" cy="38.8" rx="5.0" ry="4.5" transform="rotate(135 142.7 38.8)" fill="none" stroke="#d49448" stroke-width="1.4"/>
<ellipse cx="142.9" cy="53.7" rx="3.9" ry="2.6" transform="rotate(13 142.9 53.7)" fill="none" stroke="#d49448" stroke-width="1.2"/>
<ellipse cx="153.4" cy="37.4" rx="7.6" ry="5.8" transform="rotate(69 153.4 37.4)" fill="none" stroke="#e48c3c" stroke-width="1.3"/>
<ellipse cx="150.9" cy="57.6" rx="6.9" ry="4.0" transform="rotate(27 150.9 57.6)" fill="none" stroke="#e08434" stroke-width="1.2"/>
<ellipse cx="154.1" cy="41.0" rx="6.6" ry="5.1" transform="rotate(87 154.1 41.0)" fill="none" stroke="#dc7a2c" stroke-width="1.6"/>
<ellipse cx="119.4" cy="37.8" rx="6.2" ry="4.2" transform="rotate(84 119.4 37.8)" fill="none" stroke="#c89048" stroke-width="1.5"/>
<ellipse cx="167.6" cy="49.8" rx="5.2" ry="5.1" transform="rotate(3 167.6 49.8)" fill="none" stroke="#dc7a2c" stroke-width="1.3"/>
<ellipse cx="138.3" cy="39.7" rx="4.7" ry="2.7" transform="rotate(16 138.3 39.7)" fill="none" stroke="#d88a3e" stroke-width="1.5"/>
<ellipse cx="128.1" cy="42.9" rx="6.8" ry="4.6" transform="rotate(20 128.1 42.9)" fill="none" stroke="#c89048" stroke-width="1.3"/>
<ellipse cx="140.9" cy="61.5" rx="5.7" ry="3.1" transform="rotate(89 140.9 61.5)" fill="none" stroke="#e08434" stroke-width="1.3"/>
<ellipse cx="130.3" cy="35.1" rx="5.4" ry="3.3" transform="rotate(60 130.3 35.1)" fill="none" stroke="#cc9a50" stroke-width="1.3"/>
<ellipse cx="132.3" cy="44.3" rx="8.7" ry="7.5" transform="rotate(162 132.3 44.3)" fill="none" stroke="#e0b068" stroke-width="1.2"/>
<ellipse cx="134.1" cy="44.1" rx="9.0" ry="5.3" transform="rotate(167 134.1 44.1)" fill="none" stroke="#e09a4a" stroke-width="1.5"/>
<ellipse cx="160.1" cy="40.1" rx="3.8" ry="3.2" transform="rotate(27 160.1 40.1)" fill="none" stroke="#d86e24" stroke-width="1.6"/>
<ellipse cx="137.6" cy="41.4" rx="7.8" ry="7.3" transform="rotate(146 137.6 41.4)" fill="none" stroke="#d49448" stroke-width="1.4"/>
<ellipse cx="143.7" cy="55.9" rx="3.8" ry="2.8" transform="rotate(135 143.7 55.9)" fill="none" stroke="#d49448" stroke-width="1.4"/>
<ellipse cx="129.5" cy="31.8" rx="8.6" ry="5.4" transform="rotate(75 129.5 31.8)" fill="none" stroke="#e0b068" stroke-width="1.2"/>
<ellipse cx="127.8" cy="56.6" rx="7.1" ry="6.0" transform="rotate(54 127.8 56.6)" fill="none" stroke="#d49c56" stroke-width="1.4"/>
<ellipse cx="135.3" cy="36.0" rx="4.4" ry="3.4" transform="rotate(146 135.3 36.0)" fill="none" stroke="#d88a3e" stroke-width="1.4"/>
<ellipse cx="138.5" cy="42.0" rx="7.7" ry="4.7" transform="rotate(35 138.5 42.0)" fill="none" stroke="#d49448" stroke-width="1.1"/>
<ellipse cx="132.5" cy="33.3" rx="4.8" ry="4.4" transform="rotate(36 132.5 33.3)" fill="none" stroke="#cc9a50" stroke-width="1.1"/>
<ellipse cx="161.0" cy="43.8" rx="7.6" ry="5.5" transform="rotate(61 161.0 43.8)" fill="none" stroke="#e08434" stroke-width="1.1"/>
<ellipse cx="120.8" cy="48.1" rx="7.0" ry="4.1" transform="rotate(161 120.8 48.1)" fill="none" stroke="#e0b068" stroke-width="1.3"/>
<ellipse cx="148.9" cy="45.5" rx="5.2" ry="3.2" transform="rotate(77 148.9 45.5)" fill="none" stroke="#dc7a2c" stroke-width="1.5"/>
<ellipse cx="140.5" cy="32.6" rx="8.6" ry="8.1" transform="rotate(175 140.5 32.6)" fill="none" stroke="#e09a4a" stroke-width="1.2"/>
<ellipse cx="142.2" cy="54.6" rx="8.7" ry="5.1" transform="rotate(140 142.2 54.6)" fill="none" stroke="#d49448" stroke-width="1.1"/>
<ellipse cx="120.8" cy="50.5" rx="3.7" ry="3.6" transform="rotate(113 120.8 50.5)" fill="none" stroke="#cc9a50" stroke-width="1.4"/>
<ellipse cx="137.6" cy="57.5" rx="4.0" ry="3.2" transform="rotate(105 137.6 57.5)" fill="none" stroke="#dca050" stroke-width="1.3"/>
<ellipse cx="126.1" cy="51.6" rx="3.6" ry="3.6" transform="rotate(50 126.1 51.6)" fill="none" stroke="#cc9a50" stroke-width="1.3"/>
<ellipse cx="159.3" cy="38.7" rx="6.4" ry="4.2" transform="rotate(173 159.3 38.7)" fill="none" stroke="#d47028" stroke-width="1.5"/>
<ellipse cx="140.9" cy="54.3" rx="5.8" ry="3.8" transform="rotate(76 140.9 54.3)" fill="none" stroke="#dca050" stroke-width="1.3"/>
<ellipse cx="140.6" cy="55.0" rx="7.5" ry="6.4" transform="rotate(36 140.6 55.0)" fill="none" stroke="#dca050" stroke-width="1.5"/>
<path d="M162.3,56.0 C159.9,64.0 164.0,70.0 159.8,80.6" fill="none" stroke="#e87a28" stroke-width="1.865114073615095" stroke-linecap="round" stroke-linejoin="round"/>
<path d="M151.8,59.1 C148.7,67.1 150.8,73.1 146.9,84.3" fill="none" stroke="#ec8430" stroke-width="1.817029082107514" stroke-linecap="round" stroke-linejoin="round"/>
<path d="M160.6,59.6 C157.8,67.6 157.8,73.6 158.9,85.4" fill="none" stroke="#e87a28" stroke-width="1.8153849337387125" stroke-linecap="round" stroke-linejoin="round"/>
<path d="M161.6,53.5 C161.2,61.5 161.3,67.5 159.1,72.4" fill="none" stroke="#e0701e" stroke-width="2.331595498067392" stroke-linecap="round" stroke-linejoin="round"/>
<path d="M153.2,53.5 C156.7,61.5 153.2,67.5 153.0,76.8" fill="none" stroke="#ec8430" stroke-width="2.239126999481645" stroke-linecap="round" stroke-linejoin="round"/>
<path d="M167.7,55.5 C164.5,63.5 162.3,69.5 167.0,76.9" fill="none" stroke="#e0701e" stroke-width="1.9611289140900312" stroke-linecap="round" stroke-linejoin="round"/>
<path d="M162.7,55.0 C164.8,63.0 159.2,69.0 156.3,73.7" fill="none" stroke="#ec8430" stroke-width="1.5957158325069725" stroke-linecap="round" stroke-linejoin="round"/>
<path d="M157.9,55.6 C156.5,63.6 157.8,69.6 154.1,78.6" fill="none" stroke="#e87a28" stroke-width="2.211824527572157" stroke-linecap="round" stroke-linejoin="round"/>
<path d="M162.9,52.3 C159.1,60.3 157.4,66.3 155.5,72.4" fill="none" stroke="#e0701e" stroke-width="2.298551788967969" stroke-linecap="round" stroke-linejoin="round"/>
<path d="M153.5,54.2 C157.1,62.2 152.4,68.2 151.4,77.9" fill="none" stroke="#d86818" stroke-width="2.3242280742200485" stroke-linecap="round" stroke-linejoin="round"/>
<path d="M152.5,57.8 C153.3,65.8 153.0,71.8 145.0,76.3" fill="none" stroke="#e87a28" stroke-width="1.5072613706826345" stroke-linecap="round" stroke-linejoin="round"/>
<path d="M161.7,55.7 C164.0,63.7 162.1,69.7 154.4,80.2" fill="none" stroke="#e87a28" stroke-width="2.328099419895862" stroke-linecap="round" stroke-linejoin="round"/>
<path d="M150.0,58.4 C151.9,66.4 150.6,72.4 143.8,81.3" fill="none" stroke="#d86818" stroke-width="2.2612423711981533" stroke-linecap="round" stroke-linejoin="round"/>
<path d="M156.1,58.3 C156.9,66.3 154.2,72.3 153.0,77.6" fill="none" stroke="#ec8430" stroke-width="1.4647330258007794" stroke-linecap="round" stroke-linejoin="round"/>
<path d="M148,58 C150,64 151,70 150,76" fill="none" stroke="#e2762c" stroke-width="4.0" stroke-linecap="round" stroke-linejoin="round"/><path d="M148,58 C150,64 151,70 150,76" fill="none" stroke="#f0a060" stroke-width="1.40" stroke-linecap="round" stroke-linejoin="round"/>
<path d="M156,58 C159,64 160,70 158,78" fill="none" stroke="#e2762c" stroke-width="4.0" stroke-linecap="round" stroke-linejoin="round"/><path d="M156,58 C159,64 160,70 158,78" fill="none" stroke="#f0a060" stroke-width="1.40" stroke-linecap="round" stroke-linejoin="round"/>
<path d="M164,60 C167,66 167,72 164,78" fill="none" stroke="#e4803a" stroke-width="2.0" stroke-linecap="round" stroke-linejoin="round"/>
<path d="M170,64 C171,68 170,72 168,76" fill="none" stroke="#e4803a" stroke-width="1.4" stroke-linecap="round" stroke-linejoin="round"/>
<path d="M127.6,80.0 L128.2,79.2 L130.0,78.3 L132.7,77.6 L136.0,77.3 L139.3,77.6 L142.2,78.6 L144.2,80.2 L145.1,82.3" fill="none" stroke="#d8bc78" stroke-width="7.2" stroke-linecap="round" stroke-linejoin="round"/><path d="M132.0,92.8 L133.1,91.9 L135.2,91.1 L138.2,90.5 L141.5,90.4 L144.7,90.9 L147.3,92.1 L149.0,93.9 L149.5,96.2" fill="none" stroke="#d8bc78" stroke-width="7.2" stroke-linecap="round" stroke-linejoin="round"/><path d="M140.6,68.5 L140.7,70.8 L139.6,73.4 L137.6,75.8 L135.0,77.8 L132.2,79.3 L129.8,80.2 L128.1,80.3 L127.6,80.0" fill="none" stroke="#ecd590" stroke-width="7.2" stroke-linecap="round" stroke-linejoin="round"/><path d="M140.6,68.5 L140.7,70.8 L139.6,73.4 L137.6,75.8 L135.0,77.8 L132.2,79.3 L129.8,80.2 L128.1,80.3 L127.6,80.0" fill="none" stroke="#f8ecc4" stroke-width="2.52" stroke-linecap="round" stroke-linejoin="round"/><path d="M145.1,82.3 L144.8,84.8 L143.4,87.3 L141.1,89.6 L138.4,91.5 L135.7,92.7 L133.5,93.3 L132.2,93.3 L132.0,92.8" fill="none" stroke="#ecd590" stroke-width="7.2" stroke-linecap="round" stroke-linejoin="round"/><path d="M145.1,82.3 L144.8,84.8 L143.4,87.3 L141.1,89.6 L138.4,91.5 L135.7,92.7 L133.5,93.3 L132.2,93.3 L132.0,92.8" fill="none" stroke="#f8ecc4" stroke-width="2.52" stroke-linecap="round" stroke-linejoin="round"/><path d="M149.5,96.2 L148.8,98.7 L147.0,101.2 L144.5,103.3 L141.7,105.0" fill="none" stroke="#ecd590" stroke-width="7.2" stroke-linecap="round" stroke-linejoin="round"/><path d="M149.5,96.2 L148.8,98.7 L147.0,101.2 L144.5,103.3 L141.7,105.0" fill="none" stroke="#f8ecc4" stroke-width="2.52" stroke-linecap="round" stroke-linejoin="round"/>
<path d="M140.0,98.0 C141.0,98.3 144.0,99.3 146.0,100.0 C148.0,100.7 150.0,101.3 152.0,102.0 C154.0,102.7 156.5,103.2 158.0,104.0 C159.5,104.8 161.0,105.8 161.0,107.0 C161.0,108.2 159.5,110.5 158.0,111.0 C156.5,111.5 153.0,110.2 152.0,110.0" fill="none" stroke="#e4cc88" stroke-width="6.0" stroke-linecap="round" stroke-linejoin="round"/><path d="M140.0,98.0 C141.0,98.3 144.0,99.3 146.0,100.0 C148.0,100.7 150.0,101.3 152.0,102.0 C154.0,102.7 156.5,103.2 158.0,104.0 C159.5,104.8 161.0,105.8 161.0,107.0 C161.0,108.2 159.5,110.5 158.0,111.0 C156.5,111.5 153.0,110.2 152.0,110.0" fill="none" stroke="#f4e6b8" stroke-width="2.20" stroke-linecap="round" stroke-linejoin="round"/>
<path d="M91.0,112.0 C92.5,112.3 96.3,113.9 100.0,113.8 C103.7,113.7 108.7,112.3 113.0,111.6 C117.3,110.9 122.1,110.3 125.8,109.5 C129.5,108.7 132.5,107.8 135.0,107.0 C137.5,106.2 138.9,105.5 140.9,105.0 C142.9,104.5 145.5,104.1 147.0,104.0 C148.5,103.9 149.5,104.4 150.0,104.5" fill="none" stroke="#b4dcbc" stroke-width="6.0" stroke-linecap="round" stroke-linejoin="round"/><path d="M91.0,112.0 C92.5,112.3 96.3,113.9 100.0,113.8 C103.7,113.7 108.7,112.3 113.0,111.6 C117.3,110.9 122.1,110.3 125.8,109.5 C129.5,108.7 132.5,107.8 135.0,107.0 C137.5,106.2 138.9,105.5 140.9,105.0 C142.9,104.5 145.5,104.1 147.0,104.0 C148.5,103.9 149.5,104.4 150.0,104.5" fill="none" stroke="#dcf0de" stroke-width="2.20" stroke-linecap="round" stroke-linejoin="round"/>
<path d="M88.0,100.0 C89.0,100.4 92.0,101.7 94.0,102.5 C96.0,103.3 97.6,104.9 100.0,105.0 C102.4,105.1 106.1,103.8 108.6,103.0 C111.1,102.2 112.8,101.1 115.0,100.0 C117.2,98.9 118.3,97.8 121.5,96.6 C124.7,95.3 130.1,93.7 134.4,92.5 C138.7,91.3 143.7,90.3 147.3,89.5 C150.9,88.7 153.6,88.7 156.0,87.5 C158.4,86.3 160.8,84.2 161.9,82.5 C163.0,80.8 163.2,78.6 162.5,77.0 C161.8,75.4 159.9,74.1 158.0,73.0 C156.1,71.9 153.0,71.5 151.0,70.5 C149.0,69.5 146.8,67.6 146.0,67.0" fill="none" stroke="#e2561f" stroke-width="6.6" stroke-linecap="round" stroke-linejoin="round"/><path d="M88.0,100.0 C89.0,100.4 92.0,101.7 94.0,102.5 C96.0,103.3 97.6,104.9 100.0,105.0 C102.4,105.1 106.1,103.8 108.6,103.0 C111.1,102.2 112.8,101.1 115.0,100.0 C117.2,98.9 118.3,97.8 121.5,96.6 C124.7,95.3 130.1,93.7 134.4,92.5 C138.7,91.3 143.7,90.3 147.3,89.5 C150.9,88.7 153.6,88.7 156.0,87.5 C158.4,86.3 160.8,84.2 161.9,82.5 C163.0,80.8 163.2,78.6 162.5,77.0 C161.8,75.4 159.9,74.1 158.0,73.0 C156.1,71.9 153.0,71.5 151.0,70.5 C149.0,69.5 146.8,67.6 146.0,67.0" fill="none" stroke="#f48550" stroke-width="2.20" stroke-linecap="round" stroke-linejoin="round"/>
<path d="M64.4,90 C65,86 68,83 72,82 C76,81 80,83 81.5,88 C82.5,92 85,96 90,98" fill="none" stroke="#dc3a1c" stroke-width="6.0" stroke-linecap="round" stroke-linejoin="round"/><path d="M64.4,90 C65,86 68,83 72,82 C76,81 80,83 81.5,88 C82.5,92 85,96 90,98" fill="none" stroke="#f06a40" stroke-width="2.00" stroke-linecap="round" stroke-linejoin="round"/>
<path d="M64.4,89 C64,94 65,98 67.6,101" fill="none" stroke="#c81020" stroke-width="4.5" stroke-linecap="round" stroke-linejoin="round"/>
<path d="M67,101 C62,102 60,106 61,110 C62,114 67,116 72,115 C77,114 80,110 79,105 C78,101 73,100 70,102" fill="none" stroke="#c40e26" stroke-width="6.0" stroke-linecap="round" stroke-linejoin="round"/><path d="M67,101 C62,102 60,106 61,110 C62,114 67,116 72,115 C77,114 80,110 79,105 C78,101 73,100 70,102" fill="none" stroke="#e23a4a" stroke-width="2.00" stroke-linecap="round" stroke-linejoin="round"/>
<path d="M69.7,117.3 L70.0,116.8 L71.1,116.2 L72.8,115.8 L74.9,115.6 L77.1,115.8 L79.1,116.4 L80.6,117.3 L81.3,118.7" fill="none" stroke="#9c0a1e" stroke-width="5.4" stroke-linecap="round" stroke-linejoin="round"/><path d="M71.7,125.3 L72.0,124.8 L73.1,124.2 L74.8,123.8 L76.9,123.6 L79.1,123.8 L81.1,124.4 L82.6,125.3 L83.3,126.7" fill="none" stroke="#9c0a1e" stroke-width="5.4" stroke-linecap="round" stroke-linejoin="round"/><path d="M79.3,110.7 L79.3,112.2 L78.4,113.8 L77.0,115.2 L75.1,116.4 L73.1,117.2 L71.4,117.6 L70.2,117.7 L69.7,117.3" fill="none" stroke="#c8102a" stroke-width="5.4" stroke-linecap="round" stroke-linejoin="round"/><path d="M79.3,110.7 L79.3,112.2 L78.4,113.8 L77.0,115.2 L75.1,116.4 L73.1,117.2 L71.4,117.6 L70.2,117.7 L69.7,117.3" fill="none" stroke="#e44050" stroke-width="1.89" stroke-linecap="round" stroke-linejoin="round"/><path d="M81.3,118.7 L81.3,120.2 L80.4,121.8 L79.0,123.2 L77.1,124.4 L75.1,125.2 L73.4,125.6 L72.2,125.7 L71.7,125.3" fill="none" stroke="#c8102a" stroke-width="5.4" stroke-linecap="round" stroke-linejoin="round"/><path d="M81.3,118.7 L81.3,120.2 L80.4,121.8 L79.0,123.2 L77.1,124.4 L75.1,125.2 L73.4,125.6 L72.2,125.7 L71.7,125.3" fill="none" stroke="#e44050" stroke-width="1.89" stroke-linecap="round" stroke-linejoin="round"/>
<path d="M74.0,127.0 C73.5,127.2 72.4,128.3 70.8,128.2 C69.2,128.1 66.8,126.9 64.4,126.6 C62.0,126.3 58.4,126.1 56.3,126.6 C54.1,127.1 52.5,128.4 51.5,129.8 C50.5,131.2 50.8,133.4 50.6,135.0 C50.5,136.6 50.6,138.8 50.6,139.5" fill="none" stroke="#c0102a" stroke-width="1.9" stroke-linecap="round" stroke-linejoin="round"/><path d="M74.0,127.0 C73.5,127.2 72.4,128.3 70.8,128.2 C69.2,128.1 66.8,126.9 64.4,126.6 C62.0,126.3 58.4,126.1 56.3,126.6 C54.1,127.1 52.5,128.4 51.5,129.8 C50.5,131.2 50.8,133.4 50.6,135.0 C50.5,136.6 50.6,138.8 50.6,139.5" fill="none" stroke="#e0404c" stroke-width="0.60" stroke-linecap="round" stroke-linejoin="round"/>
<path d="M74.0,128.0 C73.0,128.2 70.0,128.7 68.0,129.0 C66.0,129.3 63.4,129.3 62.0,130.0 C60.6,130.7 59.7,131.4 59.5,133.0 C59.3,134.6 60.8,138.4 61.0,139.5" fill="none" stroke="#c0102a" stroke-width="1.9" stroke-linecap="round" stroke-linejoin="round"/><path d="M74.0,128.0 C73.0,128.2 70.0,128.7 68.0,129.0 C66.0,129.3 63.4,129.3 62.0,130.0 C60.6,130.7 59.7,131.4 59.5,133.0 C59.3,134.6 60.8,138.4 61.0,139.5" fill="none" stroke="#e0404c" stroke-width="0.60" stroke-linecap="round" stroke-linejoin="round"/>
<path d="M74.0,129.0 C73.2,129.2 69.7,128.7 69.0,130.0 C68.3,131.3 69.4,134.7 70.0,137.0 C70.6,139.3 72.0,142.8 72.4,144.0" fill="none" stroke="#c0102a" stroke-width="1.9" stroke-linecap="round" stroke-linejoin="round"/><path d="M74.0,129.0 C73.2,129.2 69.7,128.7 69.0,130.0 C68.3,131.3 69.4,134.7 70.0,137.0 C70.6,139.3 72.0,142.8 72.4,144.0" fill="none" stroke="#e0404c" stroke-width="0.60" stroke-linecap="round" stroke-linejoin="round"/>
<path d="M76.0,129.0 C76.2,129.2 76.5,128.7 77.0,130.0 C77.5,131.3 78.4,134.8 79.0,137.0 C79.6,139.2 80.2,142.0 80.5,143.0" fill="none" stroke="#c0102a" stroke-width="1.9" stroke-linecap="round" stroke-linejoin="round"/><path d="M76.0,129.0 C76.2,129.2 76.5,128.7 77.0,130.0 C77.5,131.3 78.4,134.8 79.0,137.0 C79.6,139.2 80.2,142.0 80.5,143.0" fill="none" stroke="#e0404c" stroke-width="0.60" stroke-linecap="round" stroke-linejoin="round"/>
<path d="M77.0,128.0 C77.8,128.3 80.1,129.4 82.0,130.0 C83.9,130.6 87.4,131.2 88.5,131.5" fill="none" stroke="#c0102a" stroke-width="1.9" stroke-linecap="round" stroke-linejoin="round"/><path d="M77.0,128.0 C77.8,128.3 80.1,129.4 82.0,130.0 C83.9,130.6 87.4,131.2 88.5,131.5" fill="none" stroke="#e0404c" stroke-width="0.60" stroke-linecap="round" stroke-linejoin="round"/>
<path d="M77.0,127.0 C77.3,127.2 78.0,128.2 79.0,128.0 C80.0,127.8 81.7,126.5 83.0,126.0 C84.3,125.5 86.3,125.2 87.0,125.0" fill="none" stroke="#c0102a" stroke-width="1.9" stroke-linecap="round" stroke-linejoin="round"/><path d="M77.0,127.0 C77.3,127.2 78.0,128.2 79.0,128.0 C80.0,127.8 81.7,126.5 83.0,126.0 C84.3,125.5 86.3,125.2 87.0,125.0" fill="none" stroke="#e0404c" stroke-width="0.60" stroke-linecap="round" stroke-linejoin="round"/>
<path d="M75.0,129.0 C74.5,129.7 73.5,131.8 72.0,133.0 C70.5,134.2 67.7,134.5 66.0,136.0 C64.3,137.5 62.7,141.0 62.0,142.0" fill="none" stroke="#c0102a" stroke-width="1.9" stroke-linecap="round" stroke-linejoin="round"/><path d="M75.0,129.0 C74.5,129.7 73.5,131.8 72.0,133.0 C70.5,134.2 67.7,134.5 66.0,136.0 C64.3,137.5 62.7,141.0 62.0,142.0" fill="none" stroke="#e0404c" stroke-width="0.60" stroke-linecap="round" stroke-linejoin="round"/>
<path d="M76.0,130.0 C75.8,131.0 75.0,134.3 75.0,136.0 C75.0,137.7 75.8,138.7 76.0,140.0 C76.2,141.3 76.0,143.3 76.0,144.0" fill="none" stroke="#c0102a" stroke-width="1.9" stroke-linecap="round" stroke-linejoin="round"/><path d="M76.0,130.0 C75.8,131.0 75.0,134.3 75.0,136.0 C75.0,137.7 75.8,138.7 76.0,140.0 C76.2,141.3 76.0,143.3 76.0,144.0" fill="none" stroke="#e0404c" stroke-width="0.60" stroke-linecap="round" stroke-linejoin="round"/>
<path d="M78.0,129.0 C78.7,129.7 80.8,131.5 82.0,133.0 C83.2,134.5 84.3,136.5 85.0,138.0 C85.7,139.5 85.8,141.3 86.0,142.0" fill="none" stroke="#c0102a" stroke-width="1.9" stroke-linecap="round" stroke-linejoin="round"/><path d="M78.0,129.0 C78.7,129.7 80.8,131.5 82.0,133.0 C83.2,134.5 84.3,136.5 85.0,138.0 C85.7,139.5 85.8,141.3 86.0,142.0" fill="none" stroke="#e0404c" stroke-width="0.60" stroke-linecap="round" stroke-linejoin="round"/>
<path d="M75.0,128.0 C74.2,128.5 71.8,130.5 70.0,131.0 C68.2,131.5 66.0,130.7 64.0,131.0 C62.0,131.3 59.5,132.0 58.0,133.0 C56.5,134.0 55.5,136.3 55.0,137.0" fill="none" stroke="#c0102a" stroke-width="1.9" stroke-linecap="round" stroke-linejoin="round"/><path d="M75.0,128.0 C74.2,128.5 71.8,130.5 70.0,131.0 C68.2,131.5 66.0,130.7 64.0,131.0 C62.0,131.3 59.5,132.0 58.0,133.0 C56.5,134.0 55.5,136.3 55.0,137.0" fill="none" stroke="#e0404c" stroke-width="0.60" stroke-linecap="round" stroke-linejoin="round"/></g>
<g id="B"><path d="M186.0,51.3 C186.8,51.3 189.2,51.8 190.8,51.3 C192.4,50.8 194.3,49.4 195.7,48.0 C197.0,46.6 197.3,44.3 198.9,43.2 C200.5,42.1 203.2,41.7 205.4,41.6 C207.6,41.5 209.9,42.5 211.8,42.4 C213.7,42.3 215.0,40.9 216.6,40.8 C218.2,40.7 220.0,40.6 221.5,41.6 C223.0,42.6 224.7,44.6 225.5,46.5 C226.3,48.4 226.4,51.3 226.3,52.9 C226.2,54.5 225.8,55.8 224.7,56.1 C223.6,56.4 221.8,54.8 219.9,54.5 C218.0,54.2 215.3,54.2 213.4,54.5 C211.5,54.8 209.7,55.0 208.6,56.1 C207.5,57.2 207.0,59.4 207.0,61.0 C207.0,62.6 207.5,64.7 208.6,65.8 C209.7,66.9 211.8,67.3 213.4,67.4 C215.0,67.5 216.7,67.1 218.3,66.6 C219.9,66.1 221.5,64.3 223.1,64.2 C224.7,64.1 226.5,65.0 228.0,66.0 C229.5,67.0 231.3,69.3 232.0,70.0" fill="none" stroke="#c8121e" stroke-width="1.5261897767549093" stroke-linecap="round" stroke-linejoin="round"/><path d="M186.0,51.3 C186.8,51.3 189.2,51.8 190.8,51.3 C192.4,50.8 194.3,49.4 195.7,48.0 C197.0,46.6 197.3,44.3 198.9,43.2 C200.5,42.1 203.2,41.7 205.4,41.6 C207.6,41.5 209.9,42.5 211.8,42.4 C213.7,42.3 215.0,40.9 216.6,40.8 C218.2,40.7 220.0,40.6 221.5,41.6 C223.0,42.6 224.7,44.6 225.5,46.5 C226.3,48.4 226.4,51.3 226.3,52.9 C226.2,54.5 225.8,55.8 224.7,56.1 C223.6,56.4 221.8,54.8 219.9,54.5 C218.0,54.2 215.3,54.2 213.4,54.5 C211.5,54.8 209.7,55.0 208.6,56.1 C207.5,57.2 207.0,59.4 207.0,61.0 C207.0,62.6 207.5,64.7 208.6,65.8 C209.7,66.9 211.8,67.3 213.4,67.4 C215.0,67.5 216.7,67.1 218.3,66.6 C219.9,66.1 221.5,64.3 223.1,64.2 C224.7,64.1 226.5,65.0 228.0,66.0 C229.5,67.0 231.3,69.3 232.0,70.0" fill="none" stroke="#f05a5a" stroke-width="0.46" stroke-linecap="round" stroke-linejoin="round"/>
<path d="M186.0,70.6 C186.8,70.9 189.2,72.1 190.8,72.3 C192.4,72.5 193.8,71.5 195.7,71.5 C197.6,71.5 200.5,71.4 202.1,72.3 C203.7,73.2 205.1,75.2 205.4,77.1 C205.7,79.0 204.5,81.6 203.7,83.5 C202.9,85.4 200.8,86.8 200.5,88.4 C200.2,90.0 201.0,92.7 202.1,93.2 C203.2,93.7 205.7,92.7 207.0,91.6 C208.3,90.5 209.1,88.7 210.2,86.8 C211.3,84.9 212.3,81.9 213.4,80.3 C214.5,78.7 215.5,77.9 216.6,77.1 C217.7,76.3 218.3,75.7 219.9,75.5 C221.5,75.3 225.0,75.9 226.0,76.0" fill="none" stroke="#e02a2a" stroke-width="1.728431503192375" stroke-linecap="round" stroke-linejoin="round"/><path d="M186.0,70.6 C186.8,70.9 189.2,72.1 190.8,72.3 C192.4,72.5 193.8,71.5 195.7,71.5 C197.6,71.5 200.5,71.4 202.1,72.3 C203.7,73.2 205.1,75.2 205.4,77.1 C205.7,79.0 204.5,81.6 203.7,83.5 C202.9,85.4 200.8,86.8 200.5,88.4 C200.2,90.0 201.0,92.7 202.1,93.2 C203.2,93.7 205.7,92.7 207.0,91.6 C208.3,90.5 209.1,88.7 210.2,86.8 C211.3,84.9 212.3,81.9 213.4,80.3 C214.5,78.7 215.5,77.9 216.6,77.1 C217.7,76.3 218.3,75.7 219.9,75.5 C221.5,75.3 225.0,75.9 226.0,76.0" fill="none" stroke="#f05a5a" stroke-width="0.52" stroke-linecap="round" stroke-linejoin="round"/>
<path d="M213.7,104.5 C212.9,105.0 210.2,106.4 208.9,107.7 C207.6,109.0 206.6,110.7 205.7,112.6 C204.8,114.5 203.6,116.8 203.3,119.0 C203.0,121.2 203.3,123.9 204.1,125.5 C204.9,127.1 207.6,127.6 208.1,128.7 C208.6,129.8 208.2,130.8 207.3,131.9 C206.4,133.0 203.7,133.8 202.5,135.2 C201.3,136.5 200.3,138.2 200.0,140.0 C199.7,141.8 200.7,145.0 200.8,146.0" fill="none" stroke="#c8121e" stroke-width="1.5259161602997828" stroke-linecap="round" stroke-linejoin="round"/><path d="M213.7,104.5 C212.9,105.0 210.2,106.4 208.9,107.7 C207.6,109.0 206.6,110.7 205.7,112.6 C204.8,114.5 203.6,116.8 203.3,119.0 C203.0,121.2 203.3,123.9 204.1,125.5 C204.9,127.1 207.6,127.6 208.1,128.7 C208.6,129.8 208.2,130.8 207.3,131.9 C206.4,133.0 203.7,133.8 202.5,135.2 C201.3,136.5 200.3,138.2 200.0,140.0 C199.7,141.8 200.7,145.0 200.8,146.0" fill="none" stroke="#f05a5a" stroke-width="0.46" stroke-linecap="round" stroke-linejoin="round"/>
<path d="M222.0,100.0 C222.7,101.3 224.7,105.3 226.0,108.0 C227.3,110.7 229.2,113.3 229.9,116.0 C230.6,118.7 229.6,121.8 229.9,123.9 C230.2,126.0 231.8,127.4 231.5,128.7 C231.2,130.0 229.1,130.6 228.3,131.9 C227.5,133.2 226.3,135.5 226.6,136.8 C226.9,138.2 229.6,138.7 229.9,140.0 C230.2,141.3 228.6,144.0 228.3,144.8" fill="none" stroke="#c8121e" stroke-width="1.394951015653686" stroke-linecap="round" stroke-linejoin="round"/><path d="M222.0,100.0 C222.7,101.3 224.7,105.3 226.0,108.0 C227.3,110.7 229.2,113.3 229.9,116.0 C230.6,118.7 229.6,121.8 229.9,123.9 C230.2,126.0 231.8,127.4 231.5,128.7 C231.2,130.0 229.1,130.6 228.3,131.9 C227.5,133.2 226.3,135.5 226.6,136.8 C226.9,138.2 229.6,138.7 229.9,140.0 C230.2,141.3 228.6,144.0 228.3,144.8" fill="none" stroke="#f05a5a" stroke-width="0.42" stroke-linecap="round" stroke-linejoin="round"/>
<path d="M238.0,104.0 C238.3,105.7 239.5,111.0 240.0,114.0 C240.5,117.0 240.5,119.6 241.2,122.3 C241.9,125.0 244.1,128.2 244.4,130.3 C244.7,132.5 242.8,133.3 242.8,135.2 C242.8,137.1 243.1,140.3 244.4,141.6 C245.7,142.9 249.2,143.5 250.8,143.2 C252.4,142.9 253.5,140.5 254.0,140.0" fill="none" stroke="#c8121e" stroke-width="1.5378816181044381" stroke-linecap="round" stroke-linejoin="round"/><path d="M238.0,104.0 C238.3,105.7 239.5,111.0 240.0,114.0 C240.5,117.0 240.5,119.6 241.2,122.3 C241.9,125.0 244.1,128.2 244.4,130.3 C244.7,132.5 242.8,133.3 242.8,135.2 C242.8,137.1 243.1,140.3 244.4,141.6 C245.7,142.9 249.2,143.5 250.8,143.2 C252.4,142.9 253.5,140.5 254.0,140.0" fill="none" stroke="#f05a5a" stroke-width="0.46" stroke-linecap="round" stroke-linejoin="round"/>
<path d="M250.0,92.0 C250.8,92.8 252.9,94.7 254.5,96.5 C256.1,98.3 257.2,101.4 259.4,102.9 C261.5,104.4 265.0,105.0 267.4,105.3 C269.8,105.6 272.0,105.2 273.9,104.5 C275.8,103.8 276.8,101.6 278.7,101.3 C280.6,101.0 284.1,102.6 285.2,102.9" fill="none" stroke="#d01826" stroke-width="1.6964884362599764" stroke-linecap="round" stroke-linejoin="round"/><path d="M250.0,92.0 C250.8,92.8 252.9,94.7 254.5,96.5 C256.1,98.3 257.2,101.4 259.4,102.9 C261.5,104.4 265.0,105.0 267.4,105.3 C269.8,105.6 272.0,105.2 273.9,104.5 C275.8,103.8 276.8,101.6 278.7,101.3 C280.6,101.0 284.1,102.6 285.2,102.9" fill="none" stroke="#f05a5a" stroke-width="0.51" stroke-linecap="round" stroke-linejoin="round"/>
<path d="M262.0,110.0 C263.0,109.3 266.3,106.7 268.0,106.0 C269.7,105.3 271.3,105.3 272.3,106.1 C273.3,106.9 272.8,109.9 273.9,111.0 C275.0,112.1 277.1,112.1 278.7,112.6 C280.3,113.1 282.4,113.1 283.5,114.2 C284.6,115.3 285.5,117.4 285.2,119.0 C284.9,120.6 283.2,123.0 281.9,123.9 C280.5,124.9 278.4,125.0 277.1,124.7 C275.8,124.4 274.4,122.7 273.9,122.3" fill="none" stroke="#c41424" stroke-width="1.5232965763784994" stroke-linecap="round" stroke-linejoin="round"/><path d="M262.0,110.0 C263.0,109.3 266.3,106.7 268.0,106.0 C269.7,105.3 271.3,105.3 272.3,106.1 C273.3,106.9 272.8,109.9 273.9,111.0 C275.0,112.1 277.1,112.1 278.7,112.6 C280.3,113.1 282.4,113.1 283.5,114.2 C284.6,115.3 285.5,117.4 285.2,119.0 C284.9,120.6 283.2,123.0 281.9,123.9 C280.5,124.9 278.4,125.0 277.1,124.7 C275.8,124.4 274.4,122.7 273.9,122.3" fill="none" stroke="#f05a5a" stroke-width="0.46" stroke-linecap="round" stroke-linejoin="round"/>
<path d="M278.0,110.0 C279.2,110.4 282.9,112.4 285.2,112.6 C287.5,112.8 290.3,110.5 291.6,111.0 C292.9,111.5 292.9,113.9 293.2,115.8 C293.5,117.7 292.6,119.9 293.2,122.3 C293.8,124.7 295.4,129.2 296.5,130.3 C297.6,131.4 299.4,129.0 300.0,128.7" fill="none" stroke="#d01826" stroke-width="1.3453352687459197" stroke-linecap="round" stroke-linejoin="round"/><path d="M278.0,110.0 C279.2,110.4 282.9,112.4 285.2,112.6 C287.5,112.8 290.3,110.5 291.6,111.0 C292.9,111.5 292.9,113.9 293.2,115.8 C293.5,117.7 292.6,119.9 293.2,122.3 C293.8,124.7 295.4,129.2 296.5,130.3 C297.6,131.4 299.4,129.0 300.0,128.7" fill="none" stroke="#f05a5a" stroke-width="0.40" stroke-linecap="round" stroke-linejoin="round"/>
<path d="M252.0,116.0 C253.0,117.0 256.0,120.2 258.0,122.0 C260.0,123.8 261.3,125.7 264.0,127.0 C266.7,128.3 270.8,129.7 274.0,130.0 C277.2,130.3 281.9,128.9 283.5,128.7" fill="none" stroke="#e02a2a" stroke-width="1.5977182529203349" stroke-linecap="round" stroke-linejoin="round"/><path d="M252.0,116.0 C253.0,117.0 256.0,120.2 258.0,122.0 C260.0,123.8 261.3,125.7 264.0,127.0 C266.7,128.3 270.8,129.7 274.0,130.0 C277.2,130.3 281.9,128.9 283.5,128.7" fill="none" stroke="#f05a5a" stroke-width="0.48" stroke-linecap="round" stroke-linejoin="round"/>
<path d="M252.0,120.0 C251.3,121.7 249.5,127.5 248.0,130.0 C246.5,132.5 244.1,133.1 243.0,135.0 C241.9,136.9 241.8,140.5 241.6,141.6" fill="none" stroke="#c8121e" stroke-width="1.7823788905627835" stroke-linecap="round" stroke-linejoin="round"/><path d="M252.0,120.0 C251.3,121.7 249.5,127.5 248.0,130.0 C246.5,132.5 244.1,133.1 243.0,135.0 C241.9,136.9 241.8,140.5 241.6,141.6" fill="none" stroke="#f05a5a" stroke-width="0.53" stroke-linecap="round" stroke-linejoin="round"/>
<path d="M234.0,30.0 C234.5,30.8 236.0,33.3 237.0,35.0 C238.0,36.7 239.2,37.8 240.0,40.0 C240.8,42.2 241.8,45.3 242.0,48.0 C242.2,50.7 241.7,53.7 241.0,56.0 C240.3,58.3 238.8,60.0 238.0,62.0 C237.2,64.0 236.3,67.0 236.0,68.0" fill="none" stroke="#c8121e" stroke-width="1.6250354869570363" stroke-linecap="round" stroke-linejoin="round"/><path d="M234.0,30.0 C234.5,30.8 236.0,33.3 237.0,35.0 C238.0,36.7 239.2,37.8 240.0,40.0 C240.8,42.2 241.8,45.3 242.0,48.0 C242.2,50.7 241.7,53.7 241.0,56.0 C240.3,58.3 238.8,60.0 238.0,62.0 C237.2,64.0 236.3,67.0 236.0,68.0" fill="none" stroke="#f05a5a" stroke-width="0.49" stroke-linecap="round" stroke-linejoin="round"/>
<path d="M243.0,30.0 C242.7,31.0 241.7,34.2 241.0,36.0 C240.3,37.8 239.5,39.0 239.0,41.0 C238.5,43.0 238.5,45.5 238.0,48.0 C237.5,50.5 236.3,54.7 236.0,56.0" fill="none" stroke="#c8121e" stroke-width="1.3075003684748026" stroke-linecap="round" stroke-linejoin="round"/><path d="M243.0,30.0 C242.7,31.0 241.7,34.2 241.0,36.0 C240.3,37.8 239.5,39.0 239.0,41.0 C238.5,43.0 238.5,45.5 238.0,48.0 C237.5,50.5 236.3,54.7 236.0,56.0" fill="none" stroke="#f05a5a" stroke-width="0.39" stroke-linecap="round" stroke-linejoin="round"/>
<path d="M250.0,22.0 C250.3,23.0 252.0,26.0 252.0,28.0 C252.0,30.0 251.0,31.7 250.0,34.0 C249.0,36.3 247.0,39.3 246.0,42.0 C245.0,44.7 244.2,47.3 244.0,50.0 C243.8,52.7 244.5,55.7 245.0,58.0 C245.5,60.3 246.7,63.0 247.0,64.0" fill="none" stroke="#d01826" stroke-width="1.3315824600292412" stroke-linecap="round" stroke-linejoin="round"/><path d="M250.0,22.0 C250.3,23.0 252.0,26.0 252.0,28.0 C252.0,30.0 251.0,31.7 250.0,34.0 C249.0,36.3 247.0,39.3 246.0,42.0 C245.0,44.7 244.2,47.3 244.0,50.0 C243.8,52.7 244.5,55.7 245.0,58.0 C245.5,60.3 246.7,63.0 247.0,64.0" fill="none" stroke="#f05a5a" stroke-width="0.40" stroke-linecap="round" stroke-linejoin="round"/>
<path d="M245.0,55.0 C245.8,55.8 247.8,58.8 250.0,60.0 C252.2,61.2 255.5,61.2 258.0,62.0 C260.5,62.8 263.3,63.8 265.0,65.0 C266.7,66.2 268.2,67.8 268.0,69.0 C267.8,70.2 265.8,71.5 264.0,72.0 C262.2,72.5 259.2,72.5 257.0,72.0 C254.8,71.5 252.8,70.0 251.0,69.0 C249.2,68.0 246.8,66.5 246.0,66.0" fill="none" stroke="#c41424" stroke-width="1.3951041313989645" stroke-linecap="round" stroke-linejoin="round"/><path d="M245.0,55.0 C245.8,55.8 247.8,58.8 250.0,60.0 C252.2,61.2 255.5,61.2 258.0,62.0 C260.5,62.8 263.3,63.8 265.0,65.0 C266.7,66.2 268.2,67.8 268.0,69.0 C267.8,70.2 265.8,71.5 264.0,72.0 C262.2,72.5 259.2,72.5 257.0,72.0 C254.8,71.5 252.8,70.0 251.0,69.0 C249.2,68.0 246.8,66.5 246.0,66.0" fill="none" stroke="#f05a5a" stroke-width="0.42" stroke-linecap="round" stroke-linejoin="round"/>
<path d="M216.0,110.0 C215.3,111.0 212.3,114.0 212.0,116.0 C211.7,118.0 212.7,120.7 214.0,122.0 C215.3,123.3 218.3,124.7 220.0,124.0 C221.7,123.3 223.7,120.0 224.0,118.0 C224.3,116.0 222.3,113.0 222.0,112.0" fill="none" stroke="#e02a2a" stroke-width="1.5998090424764253" stroke-linecap="round" stroke-linejoin="round"/><path d="M216.0,110.0 C215.3,111.0 212.3,114.0 212.0,116.0 C211.7,118.0 212.7,120.7 214.0,122.0 C215.3,123.3 218.3,124.7 220.0,124.0 C221.7,123.3 223.7,120.0 224.0,118.0 C224.3,116.0 222.3,113.0 222.0,112.0" fill="none" stroke="#f05a5a" stroke-width="0.48" stroke-linecap="round" stroke-linejoin="round"/>
<path d="M256.0,106.0 C255.3,107.0 252.0,110.0 252.0,112.0 C252.0,114.0 254.3,117.3 256.0,118.0 C257.7,118.7 260.7,117.3 262.0,116.0 C263.3,114.7 263.7,111.0 264.0,110.0" fill="none" stroke="#c8121e" stroke-width="1.4631466762741323" stroke-linecap="round" stroke-linejoin="round"/><path d="M256.0,106.0 C255.3,107.0 252.0,110.0 252.0,112.0 C252.0,114.0 254.3,117.3 256.0,118.0 C257.7,118.7 260.7,117.3 262.0,116.0 C263.3,114.7 263.7,111.0 264.0,110.0" fill="none" stroke="#f05a5a" stroke-width="0.44" stroke-linecap="round" stroke-linejoin="round"/>
<path d="M232.0,110.0 C232.7,111.3 235.7,115.3 236.0,118.0 C236.3,120.7 233.7,124.0 234.0,126.0 C234.3,128.0 237.3,129.3 238.0,130.0" fill="none" stroke="#c8121e" stroke-width="1.721213564259266" stroke-linecap="round" stroke-linejoin="round"/><path d="M232.0,110.0 C232.7,111.3 235.7,115.3 236.0,118.0 C236.3,120.7 233.7,124.0 234.0,126.0 C234.3,128.0 237.3,129.3 238.0,130.0" fill="none" stroke="#f05a5a" stroke-width="0.52" stroke-linecap="round" stroke-linejoin="round"/>
<path d="M262.0,124.0 C261.3,125.3 258.0,129.7 258.0,132.0 C258.0,134.3 260.3,137.3 262.0,138.0 C263.7,138.7 266.7,137.3 268.0,136.0 C269.3,134.7 269.7,131.0 270.0,130.0" fill="none" stroke="#dc2230" stroke-width="1.4168228188167948" stroke-linecap="round" stroke-linejoin="round"/><path d="M262.0,124.0 C261.3,125.3 258.0,129.7 258.0,132.0 C258.0,134.3 260.3,137.3 262.0,138.0 C263.7,138.7 266.7,137.3 268.0,136.0 C269.3,134.7 269.7,131.0 270.0,130.0" fill="none" stroke="#f05a5a" stroke-width="0.43" stroke-linecap="round" stroke-linejoin="round"/>
<path d="M246.0,110.0 C246.7,111.3 248.3,115.7 250.0,118.0 C251.7,120.3 255.3,121.7 256.0,124.0 C256.7,126.3 254.3,130.7 254.0,132.0" fill="none" stroke="#d01826" stroke-width="1.549886576103396" stroke-linecap="round" stroke-linejoin="round"/><path d="M246.0,110.0 C246.7,111.3 248.3,115.7 250.0,118.0 C251.7,120.3 255.3,121.7 256.0,124.0 C256.7,126.3 254.3,130.7 254.0,132.0" fill="none" stroke="#f05a5a" stroke-width="0.46" stroke-linecap="round" stroke-linejoin="round"/>
<path d="M226.0,96.0 C224.7,96.7 220.0,98.3 218.0,100.0 C216.0,101.7 214.7,105.0 214.0,106.0" fill="none" stroke="#dc2230" stroke-width="1.528664940799779" stroke-linecap="round" stroke-linejoin="round"/><path d="M226.0,96.0 C224.7,96.7 220.0,98.3 218.0,100.0 C216.0,101.7 214.7,105.0 214.0,106.0" fill="none" stroke="#f05a5a" stroke-width="0.46" stroke-linecap="round" stroke-linejoin="round"/>
<path d="M268.0,120.0 C268.7,121.0 270.7,123.7 272.0,126.0 C273.3,128.3 274.3,132.0 276.0,134.0 C277.7,136.0 280.0,138.0 282.0,138.0 C284.0,138.0 287.0,134.7 288.0,134.0" fill="none" stroke="#c8121e" stroke-width="1.5033893689425892" stroke-linecap="round" stroke-linejoin="round"/><path d="M268.0,120.0 C268.7,121.0 270.7,123.7 272.0,126.0 C273.3,128.3 274.3,132.0 276.0,134.0 C277.7,136.0 280.0,138.0 282.0,138.0 C284.0,138.0 287.0,134.7 288.0,134.0" fill="none" stroke="#f05a5a" stroke-width="0.45" stroke-linecap="round" stroke-linejoin="round"/>
<path d="M267.8,102.1 C268.3,103.2 270.8,106.5 270.7,108.7 C270.5,110.8 268.5,112.6 266.9,115.1 C265.3,117.7 262.1,120.9 260.9,123.9 C259.6,126.9 259.7,131.6 259.5,133.2" fill="none" stroke="#d01826" stroke-width="1.3932567658529673" stroke-linecap="round" stroke-linejoin="round"/><path d="M267.8,102.1 C268.3,103.2 270.8,106.5 270.7,108.7 C270.5,110.8 268.5,112.6 266.9,115.1 C265.3,117.7 262.1,120.9 260.9,123.9 C259.6,126.9 259.7,131.6 259.5,133.2" fill="none" stroke="#f05a5a" stroke-width="0.42" stroke-linecap="round" stroke-linejoin="round"/>
<path d="M259.8,92.0 C259.1,93.6 256.4,98.3 255.7,101.6 C254.9,104.8 255.6,108.9 255.3,111.5 C255.0,114.0 253.8,114.4 253.8,116.8 C253.9,119.2 255.3,124.2 255.6,125.7" fill="none" stroke="#d01826" stroke-width="1.3348877934250714" stroke-linecap="round" stroke-linejoin="round"/><path d="M259.8,92.0 C259.1,93.6 256.4,98.3 255.7,101.6 C254.9,104.8 255.6,108.9 255.3,111.5 C255.0,114.0 253.8,114.4 253.8,116.8 C253.9,119.2 255.3,124.2 255.6,125.7" fill="none" stroke="#f05a5a" stroke-width="0.40" stroke-linecap="round" stroke-linejoin="round"/>
<path d="M230.8,92.2 C230.6,93.8 230.6,98.8 229.5,101.8 C228.5,104.8 226.4,107.7 224.4,110.3 C222.4,113.0 218.8,115.0 217.6,117.7 C216.4,120.3 217.4,124.7 217.4,126.1" fill="none" stroke="#c8121e" stroke-width="1.2941927337923083" stroke-linecap="round" stroke-linejoin="round"/><path d="M230.8,92.2 C230.6,93.8 230.6,98.8 229.5,101.8 C228.5,104.8 226.4,107.7 224.4,110.3 C222.4,113.0 218.8,115.0 217.6,117.7 C216.4,120.3 217.4,124.7 217.4,126.1" fill="none" stroke="#f05a5a" stroke-width="0.39" stroke-linecap="round" stroke-linejoin="round"/>
<path d="M224.3,100.8 C223.4,102.2 220.9,106.4 219.1,109.0 C217.4,111.6 215.3,113.9 213.8,116.1 C212.2,118.3 209.3,119.9 209.7,122.5 C210.2,125.0 215.2,130.0 216.3,131.5" fill="none" stroke="#d01826" stroke-width="1.3520725749354947" stroke-linecap="round" stroke-linejoin="round"/><path d="M224.3,100.8 C223.4,102.2 220.9,106.4 219.1,109.0 C217.4,111.6 215.3,113.9 213.8,116.1 C212.2,118.3 209.3,119.9 209.7,122.5 C210.2,125.0 215.2,130.0 216.3,131.5" fill="none" stroke="#f05a5a" stroke-width="0.41" stroke-linecap="round" stroke-linejoin="round"/>
<path d="M225.4,96.7 C226.2,98.1 230.4,101.9 230.3,104.9 C230.2,108.0 226.3,112.2 224.7,114.9 C223.1,117.6 220.8,119.0 220.7,121.2 C220.7,123.3 223.9,126.7 224.5,127.8" fill="none" stroke="#d01826" stroke-width="1.3481623812994732" stroke-linecap="round" stroke-linejoin="round"/><path d="M225.4,96.7 C226.2,98.1 230.4,101.9 230.3,104.9 C230.2,108.0 226.3,112.2 224.7,114.9 C223.1,117.6 220.8,119.0 220.7,121.2 C220.7,123.3 223.9,126.7 224.5,127.8" fill="none" stroke="#f05a5a" stroke-width="0.40" stroke-linecap="round" stroke-linejoin="round"/>
<path d="M218.0,94.5 C218.3,95.4 219.9,97.4 219.9,99.6 C219.9,101.8 219.3,105.0 218.1,107.7 C216.9,110.4 213.0,113.4 212.9,115.6 C212.8,117.9 216.7,120.4 217.5,121.3" fill="none" stroke="#c41424" stroke-width="1.3930485151068408" stroke-linecap="round" stroke-linejoin="round"/><path d="M218.0,94.5 C218.3,95.4 219.9,97.4 219.9,99.6 C219.9,101.8 219.3,105.0 218.1,107.7 C216.9,110.4 213.0,113.4 212.9,115.6 C212.8,117.9 216.7,120.4 217.5,121.3" fill="none" stroke="#f05a5a" stroke-width="0.42" stroke-linecap="round" stroke-linejoin="round"/>
<path d="M230.8,94.7 C231.0,96.2 232.9,100.6 232.3,103.4 C231.8,106.2 228.2,108.7 227.5,111.5 C226.9,114.3 228.4,117.3 228.3,119.9 C228.2,122.6 227.0,126.1 226.7,127.4" fill="none" stroke="#d01826" stroke-width="1.2392489039207146" stroke-linecap="round" stroke-linejoin="round"/><path d="M230.8,94.7 C231.0,96.2 232.9,100.6 232.3,103.4 C231.8,106.2 228.2,108.7 227.5,111.5 C226.9,114.3 228.4,117.3 228.3,119.9 C228.2,122.6 227.0,126.1 226.7,127.4" fill="none" stroke="#f05a5a" stroke-width="0.37" stroke-linecap="round" stroke-linejoin="round"/>
<path d="M259.0,5.2 C259.4,5.7 260.8,6.9 261.7,7.9 C262.6,8.9 264.1,10.5 264.3,11.4 C264.5,12.3 263.2,13.2 262.6,13.1 C262.0,12.9 261.0,11.4 260.8,10.5 C260.6,9.6 260.9,8.2 261.5,7.5 C262.1,6.8 263.4,6.2 264.3,6.0 C265.2,5.8 265.8,6.4 267.0,6.1 C268.2,5.8 270.0,4.1 271.3,4.4 C272.6,4.7 274.4,6.0 274.8,7.9 C275.2,9.8 274.7,13.2 274.0,15.7 C273.3,18.2 271.4,20.8 270.5,22.7 C269.6,24.6 268.6,25.9 268.7,27.1 C268.8,28.3 269.9,29.1 271.3,29.7 C272.8,30.3 275.8,30.9 277.4,30.6 C279.0,30.3 280.4,28.4 281.0,28.0" fill="none" stroke="#d81e2a" stroke-width="1.7" stroke-linecap="round" stroke-linejoin="round"/><path d="M259.0,5.2 C259.4,5.7 260.8,6.9 261.7,7.9 C262.6,8.9 264.1,10.5 264.3,11.4 C264.5,12.3 263.2,13.2 262.6,13.1 C262.0,12.9 261.0,11.4 260.8,10.5 C260.6,9.6 260.9,8.2 261.5,7.5 C262.1,6.8 263.4,6.2 264.3,6.0 C265.2,5.8 265.8,6.4 267.0,6.1 C268.2,5.8 270.0,4.1 271.3,4.4 C272.6,4.7 274.4,6.0 274.8,7.9 C275.2,9.8 274.7,13.2 274.0,15.7 C273.3,18.2 271.4,20.8 270.5,22.7 C269.6,24.6 268.6,25.9 268.7,27.1 C268.8,28.3 269.9,29.1 271.3,29.7 C272.8,30.3 275.8,30.9 277.4,30.6 C279.0,30.3 280.4,28.4 281.0,28.0" fill="none" stroke="#f05058" stroke-width="0.68" stroke-linecap="round" stroke-linejoin="round"/>
<path d="M244.2,26.2 C244.8,25.6 245.9,23.6 247.7,22.7 C249.4,21.8 252.4,21.1 254.7,21.0 C257.0,20.9 259.6,21.0 261.7,21.9 C263.8,22.8 265.8,24.9 267.0,26.2 C268.2,27.5 268.4,29.1 268.7,29.7" fill="none" stroke="#d81e2a" stroke-width="1.8" stroke-linecap="round" stroke-linejoin="round"/><path d="M244.2,26.2 C244.8,25.6 245.9,23.6 247.7,22.7 C249.4,21.8 252.4,21.1 254.7,21.0 C257.0,20.9 259.6,21.0 261.7,21.9 C263.8,22.8 265.8,24.9 267.0,26.2 C268.2,27.5 268.4,29.1 268.7,29.7" fill="none" stroke="#f05058" stroke-width="0.72" stroke-linecap="round" stroke-linejoin="round"/>
<path d="M258.2,31.5 C257.0,31.8 253.2,33.1 251.2,33.2 C249.2,33.3 247.4,32.0 246.0,32.3 C244.6,32.6 243.7,33.4 242.5,35.0 C241.3,36.6 239.9,39.7 239.0,42.0 C238.1,44.3 237.8,46.8 237.2,49.0 C236.6,51.2 235.7,52.8 235.5,55.0 C235.3,57.2 235.9,60.8 236.0,62.0" fill="none" stroke="#d81e2a" stroke-width="1.8" stroke-linecap="round" stroke-linejoin="round"/><path d="M258.2,31.5 C257.0,31.8 253.2,33.1 251.2,33.2 C249.2,33.3 247.4,32.0 246.0,32.3 C244.6,32.6 243.7,33.4 242.5,35.0 C241.3,36.6 239.9,39.7 239.0,42.0 C238.1,44.3 237.8,46.8 237.2,49.0 C236.6,51.2 235.7,52.8 235.5,55.0 C235.3,57.2 235.9,60.8 236.0,62.0" fill="none" stroke="#f05058" stroke-width="0.72" stroke-linecap="round" stroke-linejoin="round"/>
<path d="M233.7,30.6 C234.3,31.3 236.2,33.1 237.2,35.0 C238.2,36.9 239.0,39.7 239.9,42.0 C240.8,44.3 241.8,46.8 242.5,49.0 C243.2,51.2 243.9,52.8 244.2,55.0 C244.4,57.2 244.0,60.8 244.0,62.0" fill="none" stroke="#d81e2a" stroke-width="1.7" stroke-linecap="round" stroke-linejoin="round"/><path d="M233.7,30.6 C234.3,31.3 236.2,33.1 237.2,35.0 C238.2,36.9 239.0,39.7 239.9,42.0 C240.8,44.3 241.8,46.8 242.5,49.0 C243.2,51.2 243.9,52.8 244.2,55.0 C244.4,57.2 244.0,60.8 244.0,62.0" fill="none" stroke="#f05058" stroke-width="0.68" stroke-linecap="round" stroke-linejoin="round"/>
<path d="M225.0,47.2 C225.3,48.1 226.2,50.6 226.7,52.4 C227.2,54.2 227.8,57.1 228.0,58.0" fill="none" stroke="#d81e2a" stroke-width="1.5" stroke-linecap="round" stroke-linejoin="round"/><path d="M225.0,47.2 C225.3,48.1 226.2,50.6 226.7,52.4 C227.2,54.2 227.8,57.1 228.0,58.0" fill="none" stroke="#f05058" stroke-width="0.60" stroke-linecap="round" stroke-linejoin="round"/>
<path d="M252.1,20.8 L252.6,20.7 L253.7,20.4 L255.4,20.4 L257.3,20.5 L259.3,21.0 L261.0,21.9 L262.2,23.1 L262.7,24.6" fill="none" stroke="#a80c1c" stroke-width="4.6" stroke-linecap="round" stroke-linejoin="round"/><path d="M255.4,32.0 L256.1,31.8" fill="none" stroke="#a80c1c" stroke-width="4.6" stroke-linecap="round" stroke-linejoin="round"/><path d="M259.4,12.8 L259.5,14.4 L258.9,16.0 L257.7,17.6 L256.2,18.9 L254.6,19.9 L253.3,20.6 L252.4,20.8 L252.1,20.8" fill="none" stroke="#d81c2c" stroke-width="4.6" stroke-linecap="round" stroke-linejoin="round"/><path d="M259.4,12.8 L259.5,14.4 L258.9,16.0 L257.7,17.6 L256.2,18.9 L254.6,19.9 L253.3,20.6 L252.4,20.8 L252.1,20.8" fill="none" stroke="#f06068" stroke-width="1.61" stroke-linecap="round" stroke-linejoin="round"/><path d="M262.7,24.6 L262.5,26.2 L261.6,27.9 L260.3,29.4 L258.7,30.6 L257.2,31.5 L256.0,32.0 L255.3,32.1 L255.4,32.0" fill="none" stroke="#d81c2c" stroke-width="4.6" stroke-linecap="round" stroke-linejoin="round"/><path d="M262.7,24.6 L262.5,26.2 L261.6,27.9 L260.3,29.4 L258.7,30.6 L257.2,31.5 L256.0,32.0 L255.3,32.1 L255.4,32.0" fill="none" stroke="#f06068" stroke-width="1.61" stroke-linecap="round" stroke-linejoin="round"/>
<ellipse cx="238.7" cy="86.2" rx="7.3" ry="6.0" transform="rotate(70 238.7 86.2)" fill="none" stroke="#ec6030" stroke-width="1.3"/>
<ellipse cx="247.5" cy="75.5" rx="5.3" ry="5.0" transform="rotate(23 247.5 75.5)" fill="none" stroke="#e8643a" stroke-width="1.3"/>
<ellipse cx="226.5" cy="69.2" rx="3.3" ry="3.0" transform="rotate(37 226.5 69.2)" fill="none" stroke="#ec6030" stroke-width="1.0"/>
<ellipse cx="234.4" cy="98.0" rx="3.3" ry="1.9" transform="rotate(96 234.4 98.0)" fill="none" stroke="#ec6030" stroke-width="1.6"/>
<ellipse cx="241.5" cy="87.9" rx="5.0" ry="3.9" transform="rotate(124 241.5 87.9)" fill="none" stroke="#e04a24" stroke-width="1.4"/>
<ellipse cx="238.0" cy="86.7" rx="3.1" ry="2.5" transform="rotate(173 238.0 86.7)" fill="none" stroke="#e04a24" stroke-width="1.0"/>
<ellipse cx="227.0" cy="72.7" rx="6.3" ry="3.3" transform="rotate(13 227.0 72.7)" fill="none" stroke="#e04a24" stroke-width="1.3"/>
<ellipse cx="233.6" cy="86.9" rx="7.2" ry="5.8" transform="rotate(143 233.6 86.9)" fill="none" stroke="#e8643a" stroke-width="1.5"/>
<ellipse cx="225.1" cy="99.9" rx="7.1" ry="6.5" transform="rotate(5 225.1 99.9)" fill="none" stroke="#e03a2a" stroke-width="1.3"/>
<ellipse cx="253.6" cy="85.7" rx="4.7" ry="3.6" transform="rotate(14 253.6 85.7)" fill="none" stroke="#e8542a" stroke-width="1.4"/>
<ellipse cx="260.7" cy="82.9" rx="6.3" ry="5.8" transform="rotate(125 260.7 82.9)" fill="none" stroke="#e03a2a" stroke-width="1.3"/>
<ellipse cx="221.4" cy="87.8" rx="5.3" ry="2.5" transform="rotate(108 221.4 87.8)" fill="none" stroke="#c81420" stroke-width="1.3"/>
<ellipse cx="238.3" cy="104.0" rx="5.2" ry="4.1" transform="rotate(88 238.3 104.0)" fill="none" stroke="#c81420" stroke-width="1.5"/>
<ellipse cx="231.5" cy="89.3" rx="5.8" ry="3.1" transform="rotate(163 231.5 89.3)" fill="none" stroke="#e25a2c" stroke-width="1.4"/>
<ellipse cx="212.4" cy="93.8" rx="4.5" ry="2.5" transform="rotate(78 212.4 93.8)" fill="none" stroke="#cc1620" stroke-width="1.5"/>
<ellipse cx="257.2" cy="70.3" rx="4.7" ry="4.3" transform="rotate(38 257.2 70.3)" fill="none" stroke="#c81420" stroke-width="1.1"/>
<ellipse cx="220.9" cy="106.3" rx="3.2" ry="2.9" transform="rotate(50 220.9 106.3)" fill="none" stroke="#d81e22" stroke-width="1.1"/>
<ellipse cx="226.8" cy="87.2" rx="4.0" ry="2.5" transform="rotate(94 226.8 87.2)" fill="none" stroke="#f06a34" stroke-width="1.4"/>
<ellipse cx="231.2" cy="59.6" rx="5.8" ry="2.8" transform="rotate(6 231.2 59.6)" fill="none" stroke="#cc1620" stroke-width="1.5"/>
<ellipse cx="254.2" cy="89.3" rx="5.6" ry="4.3" transform="rotate(102 254.2 89.3)" fill="none" stroke="#cc1620" stroke-width="1.4"/>
<ellipse cx="229.6" cy="88.7" rx="6.5" ry="3.7" transform="rotate(25 229.6 88.7)" fill="none" stroke="#e04a24" stroke-width="1.0"/>
<ellipse cx="227.0" cy="73.7" rx="5.8" ry="4.5" transform="rotate(66 227.0 73.7)" fill="none" stroke="#e8643a" stroke-width="1.0"/>
<ellipse cx="243.2" cy="106.9" rx="4.2" ry="3.4" transform="rotate(96 243.2 106.9)" fill="none" stroke="#d81e22" stroke-width="1.0"/>
<ellipse cx="239.1" cy="106.3" rx="5.4" ry="3.8" transform="rotate(179 239.1 106.3)" fill="none" stroke="#c81420" stroke-width="1.1"/>
<ellipse cx="246.8" cy="67.6" rx="4.0" ry="3.7" transform="rotate(130 246.8 67.6)" fill="none" stroke="#f06a34" stroke-width="1.1"/>
<ellipse cx="219.9" cy="89.2" rx="7.1" ry="5.1" transform="rotate(117 219.9 89.2)" fill="none" stroke="#e03a2a" stroke-width="1.3"/>
<ellipse cx="240.6" cy="73.2" rx="4.5" ry="2.2" transform="rotate(156 240.6 73.2)" fill="none" stroke="#ec6030" stroke-width="1.5"/>
<ellipse cx="241.5" cy="80.9" rx="4.1" ry="3.8" transform="rotate(176 241.5 80.9)" fill="none" stroke="#f06a34" stroke-width="1.3"/>
<ellipse cx="238.7" cy="72.9" rx="7.1" ry="3.2" transform="rotate(91 238.7 72.9)" fill="none" stroke="#dc4a26" stroke-width="1.0"/>
<ellipse cx="229.1" cy="95.4" rx="4.2" ry="2.4" transform="rotate(156 229.1 95.4)" fill="none" stroke="#e8542a" stroke-width="1.3"/>
<ellipse cx="250.5" cy="87.5" rx="6.1" ry="4.2" transform="rotate(180 250.5 87.5)" fill="none" stroke="#ec6030" stroke-width="1.5"/>
<ellipse cx="218.1" cy="81.8" rx="5.0" ry="3.7" transform="rotate(124 218.1 81.8)" fill="none" stroke="#e03a2a" stroke-width="1.5"/>
<ellipse cx="221.7" cy="90.2" rx="6.7" ry="5.2" transform="rotate(94 221.7 90.2)" fill="none" stroke="#c81420" stroke-width="1.5"/>
<ellipse cx="226.4" cy="79.9" rx="4.7" ry="4.2" transform="rotate(110 226.4 79.9)" fill="none" stroke="#dc4a26" stroke-width="1.2"/>
<ellipse cx="245.5" cy="96.6" rx="4.2" ry="2.3" transform="rotate(96 245.5 96.6)" fill="none" stroke="#f06a34" stroke-width="1.3"/>
<ellipse cx="233.8" cy="82.1" rx="7.4" ry="6.7" transform="rotate(98 233.8 82.1)" fill="none" stroke="#e25a2c" stroke-width="1.6"/>
<ellipse cx="239.8" cy="88.0" rx="3.8" ry="2.5" transform="rotate(166 239.8 88.0)" fill="none" stroke="#e25a2c" stroke-width="1.5"/>
<ellipse cx="228.6" cy="89.5" rx="5.2" ry="3.5" transform="rotate(147 228.6 89.5)" fill="none" stroke="#e04a24" stroke-width="1.5"/>
<ellipse cx="225.6" cy="85.7" rx="3.9" ry="1.8" transform="rotate(47 225.6 85.7)" fill="none" stroke="#e25a2c" stroke-width="1.4"/>
<ellipse cx="239.2" cy="83.5" rx="3.7" ry="2.9" transform="rotate(58 239.2 83.5)" fill="none" stroke="#e8542a" stroke-width="1.2"/>
<ellipse cx="231.9" cy="79.8" rx="6.3" ry="5.5" transform="rotate(112 231.9 79.8)" fill="none" stroke="#e8542a" stroke-width="1.4"/>
<ellipse cx="228.6" cy="58.5" rx="3.1" ry="2.7" transform="rotate(111 228.6 58.5)" fill="none" stroke="#e03a2a" stroke-width="1.3"/>
<ellipse cx="245.7" cy="71.9" rx="4.0" ry="3.5" transform="rotate(110 245.7 71.9)" fill="none" stroke="#ec6030" stroke-width="1.5"/>
<ellipse cx="238.1" cy="105.2" rx="6.6" ry="4.0" transform="rotate(57 238.1 105.2)" fill="none" stroke="#e0301e" stroke-width="1.6"/>
<ellipse cx="240.9" cy="79.5" rx="4.1" ry="2.0" transform="rotate(70 240.9 79.5)" fill="none" stroke="#e8643a" stroke-width="1.3"/>
<ellipse cx="250.0" cy="78.1" rx="6.2" ry="4.0" transform="rotate(123 250.0 78.1)" fill="none" stroke="#ec6030" stroke-width="1.0"/>
<ellipse cx="241.5" cy="102.8" rx="7.1" ry="3.6" transform="rotate(91 241.5 102.8)" fill="none" stroke="#cc1620" stroke-width="1.5"/>
<ellipse cx="217.7" cy="83.7" rx="3.9" ry="2.7" transform="rotate(4 217.7 83.7)" fill="none" stroke="#d81e22" stroke-width="1.5"/>
<ellipse cx="216.3" cy="65.6" rx="5.2" ry="2.8" transform="rotate(37 216.3 65.6)" fill="none" stroke="#e0301e" stroke-width="1.5"/>
<ellipse cx="239.5" cy="86.6" rx="7.3" ry="3.6" transform="rotate(17 239.5 86.6)" fill="none" stroke="#f06a34" stroke-width="1.2"/>
<ellipse cx="225.9" cy="89.4" rx="3.9" ry="1.8" transform="rotate(126 225.9 89.4)" fill="none" stroke="#e04a24" stroke-width="1.5"/>
<ellipse cx="241.5" cy="97.0" rx="6.3" ry="5.8" transform="rotate(109 241.5 97.0)" fill="none" stroke="#f06a34" stroke-width="1.1"/>
<ellipse cx="238.8" cy="72.9" rx="3.4" ry="2.7" transform="rotate(155 238.8 72.9)" fill="none" stroke="#dc4a26" stroke-width="1.4"/>
<ellipse cx="222.6" cy="93.9" rx="5.3" ry="4.5" transform="rotate(46 222.6 93.9)" fill="none" stroke="#cc1620" stroke-width="1.5"/>
<ellipse cx="235.3" cy="61.5" rx="6.7" ry="3.4" transform="rotate(59 235.3 61.5)" fill="none" stroke="#f06a34" stroke-width="1.3"/>
<ellipse cx="227.3" cy="94.1" rx="3.8" ry="3.1" transform="rotate(13 227.3 94.1)" fill="none" stroke="#ec6030" stroke-width="1.2"/>
<ellipse cx="234.3" cy="84.4" rx="4.6" ry="4.1" transform="rotate(9 234.3 84.4)" fill="none" stroke="#e8643a" stroke-width="1.2"/>
<ellipse cx="245.8" cy="81.4" rx="4.0" ry="2.9" transform="rotate(96 245.8 81.4)" fill="none" stroke="#f06a34" stroke-width="1.2"/>
<ellipse cx="253.2" cy="84.0" rx="6.2" ry="4.0" transform="rotate(103 253.2 84.0)" fill="none" stroke="#dc4a26" stroke-width="1.1"/>
<ellipse cx="242.9" cy="90.0" rx="5.0" ry="2.4" transform="rotate(35 242.9 90.0)" fill="none" stroke="#e25a2c" stroke-width="1.2"/>
<ellipse cx="243.4" cy="89.7" rx="7.1" ry="5.1" transform="rotate(75 243.4 89.7)" fill="none" stroke="#e25a2c" stroke-width="1.3"/>
<ellipse cx="239.1" cy="79.1" rx="5.0" ry="2.4" transform="rotate(108 239.1 79.1)" fill="none" stroke="#e8643a" stroke-width="1.5"/>
<ellipse cx="243.3" cy="96.4" rx="3.8" ry="2.7" transform="rotate(107 243.3 96.4)" fill="none" stroke="#f06a34" stroke-width="1.3"/>
<ellipse cx="226.2" cy="84.4" rx="4.8" ry="3.0" transform="rotate(51 226.2 84.4)" fill="none" stroke="#e04a24" stroke-width="1.4"/>
<ellipse cx="226.9" cy="80.1" rx="6.2" ry="2.9" transform="rotate(139 226.9 80.1)" fill="none" stroke="#e04a24" stroke-width="1.4"/>
<ellipse cx="227.7" cy="74.1" rx="6.1" ry="5.5" transform="rotate(135 227.7 74.1)" fill="none" stroke="#e8542a" stroke-width="1.0"/>
<ellipse cx="259.3" cy="96.6" rx="4.9" ry="2.8" transform="rotate(136 259.3 96.6)" fill="none" stroke="#e03a2a" stroke-width="1.0"/>
<ellipse cx="253.8" cy="97.7" rx="7.1" ry="6.7" transform="rotate(147 253.8 97.7)" fill="none" stroke="#e0301e" stroke-width="1.4"/>
<ellipse cx="248.6" cy="96.0" rx="5.1" ry="4.4" transform="rotate(64 248.6 96.0)" fill="none" stroke="#e0301e" stroke-width="1.1"/>
<ellipse cx="231.7" cy="89.4" rx="4.9" ry="2.8" transform="rotate(105 231.7 89.4)" fill="none" stroke="#e25a2c" stroke-width="1.3"/>
<ellipse cx="238.6" cy="68.3" rx="7.5" ry="6.1" transform="rotate(43 238.6 68.3)" fill="none" stroke="#e04a24" stroke-width="1.1"/>
<ellipse cx="252.4" cy="69.8" rx="5.8" ry="3.4" transform="rotate(110 252.4 69.8)" fill="none" stroke="#e04a24" stroke-width="1.4"/>
<ellipse cx="233.5" cy="76.0" rx="4.3" ry="2.3" transform="rotate(45 233.5 76.0)" fill="none" stroke="#ec6030" stroke-width="1.6"/>
<ellipse cx="257.3" cy="70.5" rx="3.2" ry="1.4" transform="rotate(47 257.3 70.5)" fill="none" stroke="#d81e22" stroke-width="1.0"/>
<ellipse cx="244.3" cy="86.2" rx="4.3" ry="2.1" transform="rotate(122 244.3 86.2)" fill="none" stroke="#dc4a26" stroke-width="1.3"/>
<ellipse cx="228.1" cy="74.8" rx="5.2" ry="3.2" transform="rotate(89 228.1 74.8)" fill="none" stroke="#ec6030" stroke-width="1.1"/>
<ellipse cx="250.8" cy="66.9" rx="5.0" ry="3.8" transform="rotate(138 250.8 66.9)" fill="none" stroke="#dc4a26" stroke-width="1.1"/>
<ellipse cx="227.8" cy="88.6" rx="6.6" ry="3.5" transform="rotate(151 227.8 88.6)" fill="none" stroke="#e04a24" stroke-width="1.4"/>
<ellipse cx="230.9" cy="105.2" rx="6.7" ry="4.5" transform="rotate(66 230.9 105.2)" fill="none" stroke="#e0301e" stroke-width="1.1"/>
<ellipse cx="239.4" cy="80.3" rx="3.4" ry="2.5" transform="rotate(147 239.4 80.3)" fill="none" stroke="#e25a2c" stroke-width="1.3"/>
<ellipse cx="236.7" cy="82.4" rx="4.4" ry="3.3" transform="rotate(125 236.7 82.4)" fill="none" stroke="#e8643a" stroke-width="1.3"/>
<ellipse cx="236.9" cy="72.5" rx="7.0" ry="4.4" transform="rotate(131 236.9 72.5)" fill="none" stroke="#ec6030" stroke-width="1.2"/>
<ellipse cx="250.0" cy="97.7" rx="5.6" ry="3.7" transform="rotate(145 250.0 97.7)" fill="none" stroke="#cc1620" stroke-width="1.2"/>
<ellipse cx="231.0" cy="96.0" rx="7.2" ry="4.1" transform="rotate(65 231.0 96.0)" fill="none" stroke="#e25a2c" stroke-width="1.2"/>
<ellipse cx="228.1" cy="93.9" rx="4.7" ry="3.9" transform="rotate(66 228.1 93.9)" fill="none" stroke="#ec6030" stroke-width="1.2"/>
<ellipse cx="245.0" cy="98.4" rx="3.8" ry="3.2" transform="rotate(159 245.0 98.4)" fill="none" stroke="#d81e22" stroke-width="1.2"/>
<ellipse cx="250.3" cy="86.2" rx="5.4" ry="3.3" transform="rotate(4 250.3 86.2)" fill="none" stroke="#e25a2c" stroke-width="1.5"/>
<ellipse cx="222.0" cy="92.0" rx="4.4" ry="2.2" transform="rotate(15 222.0 92.0)" fill="none" stroke="#c81420" stroke-width="1.4"/>
<ellipse cx="240.1" cy="80.8" rx="5.9" ry="2.9" transform="rotate(147 240.1 80.8)" fill="none" stroke="#ec6030" stroke-width="1.3"/>
<ellipse cx="232.7" cy="69.4" rx="7.1" ry="5.9" transform="rotate(71 232.7 69.4)" fill="none" stroke="#e04a24" stroke-width="1.2"/>
<ellipse cx="253.6" cy="80.2" rx="5.2" ry="4.5" transform="rotate(13 253.6 80.2)" fill="none" stroke="#e25a2c" stroke-width="1.4"/>
<ellipse cx="255.3" cy="90.3" rx="7.4" ry="6.5" transform="rotate(145 255.3 90.3)" fill="none" stroke="#cc1620" stroke-width="1.5"/>
<ellipse cx="226.7" cy="71.8" rx="6.2" ry="3.1" transform="rotate(166 226.7 71.8)" fill="none" stroke="#dc4a26" stroke-width="1.5"/>
<ellipse cx="236.2" cy="91.7" rx="5.9" ry="3.1" transform="rotate(37 236.2 91.7)" fill="none" stroke="#e8643a" stroke-width="1.3"/>
<ellipse cx="245.6" cy="88.1" rx="3.5" ry="1.9" transform="rotate(166 245.6 88.1)" fill="none" stroke="#e8643a" stroke-width="1.5"/>
<ellipse cx="236.0" cy="81.6" rx="5.2" ry="2.4" transform="rotate(20 236.0 81.6)" fill="none" stroke="#dc4a26" stroke-width="1.1"/>
<ellipse cx="237.8" cy="93.3" rx="6.2" ry="4.4" transform="rotate(80 237.8 93.3)" fill="none" stroke="#e25a2c" stroke-width="1.5"/>
<ellipse cx="214.4" cy="100.4" rx="7.2" ry="6.6" transform="rotate(99 214.4 100.4)" fill="none" stroke="#c81420" stroke-width="1.5"/>
<ellipse cx="223.9" cy="85.3" rx="7.3" ry="5.3" transform="rotate(172 223.9 85.3)" fill="none" stroke="#e8643a" stroke-width="1.3"/>
<ellipse cx="236.7" cy="88.1" rx="7.3" ry="6.2" transform="rotate(176 236.7 88.1)" fill="none" stroke="#dc4a26" stroke-width="1.5"/>
<ellipse cx="239.2" cy="61.4" rx="3.3" ry="2.9" transform="rotate(157 239.2 61.4)" fill="none" stroke="#ec6030" stroke-width="1.5"/>
<ellipse cx="227.4" cy="87.0" rx="4.9" ry="2.6" transform="rotate(28 227.4 87.0)" fill="none" stroke="#dc4a26" stroke-width="1.2"/>
<ellipse cx="234.6" cy="110.2" rx="5.3" ry="3.1" transform="rotate(96 234.6 110.2)" fill="none" stroke="#c81420" stroke-width="1.1"/>
<ellipse cx="236.1" cy="83.3" rx="6.7" ry="3.5" transform="rotate(23 236.1 83.3)" fill="none" stroke="#dc4a26" stroke-width="1.2"/>
<ellipse cx="225.0" cy="73.5" rx="7.0" ry="4.8" transform="rotate(172 225.0 73.5)" fill="none" stroke="#e8643a" stroke-width="1.4"/>
<ellipse cx="242.4" cy="75.4" rx="6.6" ry="3.6" transform="rotate(123 242.4 75.4)" fill="none" stroke="#f06a34" stroke-width="1.5"/>
<ellipse cx="232.9" cy="85.3" rx="4.9" ry="2.6" transform="rotate(150 232.9 85.3)" fill="none" stroke="#f06a34" stroke-width="1.2"/>
<ellipse cx="234.2" cy="88.8" rx="4.4" ry="3.4" transform="rotate(12 234.2 88.8)" fill="none" stroke="#f06a34" stroke-width="1.0"/>
<ellipse cx="247.3" cy="98.9" rx="6.0" ry="4.7" transform="rotate(2 247.3 98.9)" fill="none" stroke="#d81e22" stroke-width="1.2"/>
<ellipse cx="233.8" cy="74.7" rx="5.5" ry="4.6" transform="rotate(154 233.8 74.7)" fill="none" stroke="#f06a34" stroke-width="1.5"/>
<ellipse cx="231.0" cy="56.5" rx="3.7" ry="3.4" transform="rotate(135 231.0 56.5)" fill="none" stroke="#e03a2a" stroke-width="1.6"/>
<ellipse cx="236.5" cy="67.5" rx="3.4" ry="1.9" transform="rotate(132 236.5 67.5)" fill="none" stroke="#ec6030" stroke-width="1.2"/>
<ellipse cx="250.5" cy="78.3" rx="6.3" ry="4.2" transform="rotate(69 250.5 78.3)" fill="none" stroke="#e04a24" stroke-width="1.1"/>
<ellipse cx="231.4" cy="79.2" rx="5.8" ry="3.2" transform="rotate(72 231.4 79.2)" fill="none" stroke="#ec6030" stroke-width="1.5"/>
<ellipse cx="231.6" cy="80.9" rx="4.0" ry="3.8" transform="rotate(78 231.6 80.9)" fill="none" stroke="#ec6030" stroke-width="1.5"/>
<ellipse cx="223.8" cy="104.3" rx="7.2" ry="5.5" transform="rotate(138 223.8 104.3)" fill="none" stroke="#e0301e" stroke-width="1.5"/>
<ellipse cx="227.9" cy="91.7" rx="4.9" ry="3.9" transform="rotate(110 227.9 91.7)" fill="none" stroke="#e8542a" stroke-width="1.2"/>
<ellipse cx="238.2" cy="74.5" rx="7.4" ry="3.4" transform="rotate(60 238.2 74.5)" fill="none" stroke="#e25a2c" stroke-width="1.2"/>
<ellipse cx="232.7" cy="79.0" rx="4.7" ry="2.9" transform="rotate(53 232.7 79.0)" fill="none" stroke="#e25a2c" stroke-width="1.1"/>
<ellipse cx="233.9" cy="74.3" rx="5.4" ry="3.9" transform="rotate(63 233.9 74.3)" fill="none" stroke="#e04a24" stroke-width="1.3"/>
<ellipse cx="247.9" cy="100.0" rx="7.4" ry="7.1" transform="rotate(127 247.9 100.0)" fill="none" stroke="#c81420" stroke-width="1.6"/>
<ellipse cx="233.5" cy="82.8" rx="6.0" ry="2.9" transform="rotate(44 233.5 82.8)" fill="none" stroke="#dc4a26" stroke-width="1.3"/>
<ellipse cx="232.5" cy="73.0" rx="7.2" ry="4.2" transform="rotate(159 232.5 73.0)" fill="none" stroke="#e04a24" stroke-width="1.3"/>
<ellipse cx="234.9" cy="74.5" rx="5.6" ry="4.1" transform="rotate(101 234.9 74.5)" fill="none" stroke="#e25a2c" stroke-width="1.2"/>
<ellipse cx="242.7" cy="67.9" rx="3.6" ry="1.6" transform="rotate(123 242.7 67.9)" fill="none" stroke="#dc4a26" stroke-width="1.2"/>
<ellipse cx="236.6" cy="71.7" rx="3.7" ry="2.7" transform="rotate(14 236.6 71.7)" fill="none" stroke="#e25a2c" stroke-width="1.0"/>
<ellipse cx="252.3" cy="76.9" rx="4.4" ry="3.8" transform="rotate(163 252.3 76.9)" fill="none" stroke="#e8643a" stroke-width="1.4"/>
<ellipse cx="223.0" cy="67.0" rx="3.7" ry="2.5" transform="rotate(26 223.0 67.0)" fill="none" stroke="#e03a2a" stroke-width="1.2"/>
<ellipse cx="229.3" cy="80.6" rx="5.3" ry="3.1" transform="rotate(168 229.3 80.6)" fill="none" stroke="#e04a24" stroke-width="1.0"/>
<ellipse cx="240.1" cy="63.7" rx="6.5" ry="6.1" transform="rotate(108 240.1 63.7)" fill="none" stroke="#f06a34" stroke-width="1.3"/>
<ellipse cx="221.8" cy="93.6" rx="6.1" ry="5.0" transform="rotate(87 221.8 93.6)" fill="none" stroke="#e03a2a" stroke-width="1.6"/>
<ellipse cx="248.4" cy="62.3" rx="4.8" ry="2.5" transform="rotate(21 248.4 62.3)" fill="none" stroke="#e03a2a" stroke-width="1.6"/>
<ellipse cx="229.0" cy="97.8" rx="4.9" ry="3.0" transform="rotate(10 229.0 97.8)" fill="none" stroke="#d81e22" stroke-width="1.4"/>
<ellipse cx="251.8" cy="71.6" rx="5.7" ry="4.8" transform="rotate(159 251.8 71.6)" fill="none" stroke="#dc4a26" stroke-width="1.5"/>
<ellipse cx="236.8" cy="109.1" rx="4.1" ry="3.8" transform="rotate(86 236.8 109.1)" fill="none" stroke="#e03a2a" stroke-width="1.1"/>
<ellipse cx="248.7" cy="75.3" rx="6.0" ry="5.3" transform="rotate(180 248.7 75.3)" fill="none" stroke="#ec6030" stroke-width="1.4"/>
<ellipse cx="244.0" cy="75.0" rx="5.5" ry="4.7" transform="rotate(40 244.0 75.0)" fill="none" stroke="#e25a2c" stroke-width="1.4"/>
<ellipse cx="212.3" cy="72.5" rx="3.4" ry="1.8" transform="rotate(97 212.3 72.5)" fill="none" stroke="#e0301e" stroke-width="1.6"/>
<ellipse cx="245.0" cy="84.0" rx="4.3" ry="2.3" transform="rotate(79 245.0 84.0)" fill="none" stroke="#e04a24" stroke-width="1.3"/>
<ellipse cx="229.5" cy="82.6" rx="6.1" ry="2.9" transform="rotate(6 229.5 82.6)" fill="none" stroke="#ec6030" stroke-width="1.5"/>
<ellipse cx="231.0" cy="98.3" rx="7.2" ry="6.4" transform="rotate(36 231.0 98.3)" fill="none" stroke="#e03a2a" stroke-width="1.5"/>
<ellipse cx="234.5" cy="79.8" rx="4.4" ry="2.8" transform="rotate(85 234.5 79.8)" fill="none" stroke="#dc4a26" stroke-width="1.1"/>
<ellipse cx="241.0" cy="101.6" rx="3.9" ry="3.0" transform="rotate(55 241.0 101.6)" fill="none" stroke="#d81e22" stroke-width="1.5"/>
<ellipse cx="245.3" cy="81.5" rx="4.9" ry="3.0" transform="rotate(172 245.3 81.5)" fill="none" stroke="#ec6030" stroke-width="1.5"/>
<ellipse cx="229.7" cy="88.0" rx="6.9" ry="5.5" transform="rotate(35 229.7 88.0)" fill="none" stroke="#e8542a" stroke-width="1.1"/>
<ellipse cx="237.6" cy="103.1" rx="6.6" ry="5.6" transform="rotate(94 237.6 103.1)" fill="none" stroke="#cc1620" stroke-width="1.1"/>
<ellipse cx="242.0" cy="79.0" rx="4.0" ry="3.1" transform="rotate(16 242.0 79.0)" fill="none" stroke="#ec6030" stroke-width="1.6"/>
<ellipse cx="222.3" cy="89.8" rx="5.4" ry="2.4" transform="rotate(106 222.3 89.8)" fill="none" stroke="#d81e22" stroke-width="1.3"/>
<ellipse cx="222.2" cy="91.8" rx="3.7" ry="2.1" transform="rotate(50 222.2 91.8)" fill="none" stroke="#e0301e" stroke-width="1.3"/>
<ellipse cx="246.0" cy="109.5" rx="7.4" ry="5.7" transform="rotate(165 246.0 109.5)" fill="none" stroke="#d81e22" stroke-width="1.4"/>
<ellipse cx="214.2" cy="123.0" rx="3.2" ry="2.3" transform="rotate(116 214.2 123.0)" fill="none" stroke="#d81e22" stroke-width="1.1"/>
<ellipse cx="252.2" cy="119.9" rx="4.6" ry="3.4" transform="rotate(139 252.2 119.9)" fill="none" stroke="#cc1620" stroke-width="1.0"/>
<ellipse cx="239.3" cy="116.7" rx="4.6" ry="3.9" transform="rotate(142 239.3 116.7)" fill="none" stroke="#c81420" stroke-width="1.0"/>
<ellipse cx="242.4" cy="104.2" rx="4.7" ry="2.8" transform="rotate(36 242.4 104.2)" fill="none" stroke="#b8101c" stroke-width="1.4"/>
<ellipse cx="217.0" cy="110.6" rx="5.6" ry="3.0" transform="rotate(3 217.0 110.6)" fill="none" stroke="#c81420" stroke-width="1.1"/>
<ellipse cx="239.2" cy="110.4" rx="3.8" ry="1.8" transform="rotate(163 239.2 110.4)" fill="none" stroke="#d81e22" stroke-width="1.2"/>
<ellipse cx="245.5" cy="120.2" rx="3.7" ry="1.8" transform="rotate(77 245.5 120.2)" fill="none" stroke="#cc1620" stroke-width="1.2"/>
<ellipse cx="261.5" cy="118.7" rx="5.3" ry="2.6" transform="rotate(148 261.5 118.7)" fill="none" stroke="#b8101c" stroke-width="1.0"/>
<ellipse cx="228.8" cy="102.5" rx="5.1" ry="2.4" transform="rotate(74 228.8 102.5)" fill="none" stroke="#b8101c" stroke-width="1.1"/>
<ellipse cx="226.5" cy="125.2" rx="3.1" ry="2.6" transform="rotate(108 226.5 125.2)" fill="none" stroke="#b8101c" stroke-width="1.0"/>
<path d="M254.0,52.6 Q260.0,54.3 264,56" fill="none" stroke="#1a38ac" stroke-width="1.7" stroke-linecap="round" stroke-linejoin="round"/>
<path d="M254.5,50.7 Q260.2,53.4 264,56" fill="none" stroke="#1a38ac" stroke-width="1.7" stroke-linecap="round" stroke-linejoin="round"/>
<path d="M255.3,48.9 Q260.6,52.5 264,56" fill="none" stroke="#1a38ac" stroke-width="1.7" stroke-linecap="round" stroke-linejoin="round"/>
<path d="M256.3,47.3 Q261.1,51.7 264,56" fill="none" stroke="#1a38ac" stroke-width="1.7" stroke-linecap="round" stroke-linejoin="round"/>
<path d="M257.5,45.9 Q261.7,50.9 264,56" fill="none" stroke="#1a38ac" stroke-width="1.7" stroke-linecap="round" stroke-linejoin="round"/>
<path d="M258.8,44.7 Q262.4,50.4 264,56" fill="none" stroke="#1a38ac" stroke-width="1.7" stroke-linecap="round" stroke-linejoin="round"/>
<path d="M260.3,43.9 Q263.1,49.9 264,56" fill="none" stroke="#1a38ac" stroke-width="1.7" stroke-linecap="round" stroke-linejoin="round"/>
<path d="M261.8,43.3 Q263.9,49.6 264,56" fill="none" stroke="#1a38ac" stroke-width="1.7" stroke-linecap="round" stroke-linejoin="round"/>
<path d="M263.5,43.0 Q264.7,49.5 264,56" fill="none" stroke="#1a38ac" stroke-width="1.7" stroke-linecap="round" stroke-linejoin="round"/>
<path d="M265.1,43.1 Q265.5,49.5 264,56" fill="none" stroke="#1a38ac" stroke-width="1.7" stroke-linecap="round" stroke-linejoin="round"/>
<path d="M264,56 C267,57 271,56 275,56 C279,57 281,61 282,67" fill="none" stroke="#1a40aa" stroke-width="2.6" stroke-linecap="round" stroke-linejoin="round"/><path d="M264,56 C267,57 271,56 275,56 C279,57 281,61 282,67" fill="none" stroke="#3c64c8" stroke-width="1.00" stroke-linecap="round" stroke-linejoin="round"/>
<path d="M280.5,71.5 L280.5,70.9 L281.1,69.5 L282.4,67.7 L284.3,65.7 L286.6,63.9 L289.1,62.7 L291.5,62.4 L293.5,63.0" fill="none" stroke="#6eaed4" stroke-width="5.0" stroke-linecap="round" stroke-linejoin="round"/><path d="M292.5,78.5 L292.5,77.9 L293.1,76.5 L294.4,74.7 L296.3,72.7 L298.6,70.9 L301.1,69.7 L303.5,69.4 L305.5,70.0" fill="none" stroke="#6eaed4" stroke-width="5.0" stroke-linecap="round" stroke-linejoin="round"/><path d="M281.5,56.0 L283.0,57.5 L283.9,59.7 L284.1,62.5 L283.7,65.3 L282.9,68.0 L281.9,70.0 L281.0,71.3 L280.5,71.5" fill="none" stroke="#8cc2e0" stroke-width="5.0" stroke-linecap="round" stroke-linejoin="round"/><path d="M281.5,56.0 L283.0,57.5 L283.9,59.7 L284.1,62.5 L283.7,65.3 L282.9,68.0 L281.9,70.0 L281.0,71.3 L280.5,71.5" fill="none" stroke="#c0e0f0" stroke-width="1.75" stroke-linecap="round" stroke-linejoin="round"/><path d="M293.5,63.0 L295.0,64.5 L295.9,66.7 L296.1,69.5 L295.7,72.3 L294.9,75.0 L293.9,77.0 L293.0,78.3 L292.5,78.5" fill="none" stroke="#8cc2e0" stroke-width="5.0" stroke-linecap="round" stroke-linejoin="round"/><path d="M293.5,63.0 L295.0,64.5 L295.9,66.7 L296.1,69.5 L295.7,72.3 L294.9,75.0 L293.9,77.0 L293.0,78.3 L292.5,78.5" fill="none" stroke="#c0e0f0" stroke-width="1.75" stroke-linecap="round" stroke-linejoin="round"/>
<path d="M280,66 C284,70 290,73 295,74" fill="none" stroke="#c4e4e8" stroke-width="5.0" stroke-linecap="round" stroke-linejoin="round"/>
<path d="M326,66 C330,68 334,72 334,77" fill="none" stroke="#c0e4d0" stroke-width="5.5" stroke-linecap="round" stroke-linejoin="round"/><path d="M326,66 C330,68 334,72 334,77" fill="none" stroke="#e0f2e8" stroke-width="2.00" stroke-linecap="round" stroke-linejoin="round"/>
<path d="M300,82 C306,84 312,86 317,88" fill="none" stroke="#cfe6ec" stroke-width="5" stroke-linecap="round" stroke-linejoin="round"/>
<path d="M337,57 C340,52 346,53 348,59 C350,64 354,66 355,70 C355,75 352,78 350,84" fill="none" stroke="#d6c684" stroke-width="7.2" stroke-linecap="round" stroke-linejoin="round"/><path d="M337,57 C340,52 346,53 348,59 C350,64 354,66 355,70 C355,75 352,78 350,84" fill="none" stroke="#f0e4b8" stroke-width="2.80" stroke-linecap="round" stroke-linejoin="round"/>
<path d="M338,60 C341,64 344,68 345,74" fill="none" stroke="#e2d49a" stroke-width="6.5" stroke-linecap="round" stroke-linejoin="round"/><path d="M338,60 C341,64 344,68 345,74" fill="none" stroke="#f2e8c0" stroke-width="2.20" stroke-linecap="round" stroke-linejoin="round"/>
<path d="M334,86 C340,90 346,95 348,103" fill="none" stroke="#e8c474" stroke-width="6.0" stroke-linecap="round" stroke-linejoin="round"/><path d="M334,86 C340,90 346,95 348,103" fill="none" stroke="#f4dca0" stroke-width="2.00" stroke-linecap="round" stroke-linejoin="round"/>
<path d="M318,64 C324,66 330,70 334,76" fill="none" stroke="#c6e6d2" stroke-width="6.0" stroke-linecap="round" stroke-linejoin="round"/><path d="M318,64 C324,66 330,70 334,76" fill="none" stroke="#e4f4ea" stroke-width="2.20" stroke-linecap="round" stroke-linejoin="round"/>
<path d="M288.0,60.0 C288.7,59.5 290.0,57.9 292.0,57.0 C294.0,56.1 296.4,55.1 299.8,54.8 C303.2,54.5 308.1,54.3 312.2,55.3 C316.3,56.3 320.4,59.0 324.5,61.0 C328.6,63.0 332.8,64.9 336.9,67.2 C341.0,69.5 345.6,72.3 349.3,74.6 C353.0,76.9 356.4,78.7 359.1,80.8 C361.8,82.9 364.1,84.7 365.3,87.0 C366.6,89.3 367.0,91.9 366.6,94.4 C366.2,96.9 364.7,100.2 362.9,102.0 C361.1,103.8 358.1,105.2 356.0,105.5 C353.9,105.8 351.0,104.2 350.0,104.0" fill="none" stroke="#3a98cc" stroke-width="9.0" stroke-linecap="round" stroke-linejoin="round"/><path d="M288.0,60.0 C288.7,59.5 290.0,57.9 292.0,57.0 C294.0,56.1 296.4,55.1 299.8,54.8 C303.2,54.5 308.1,54.3 312.2,55.3 C316.3,56.3 320.4,59.0 324.5,61.0 C328.6,63.0 332.8,64.9 336.9,67.2 C341.0,69.5 345.6,72.3 349.3,74.6 C353.0,76.9 356.4,78.7 359.1,80.8 C361.8,82.9 364.1,84.7 365.3,87.0 C366.6,89.3 367.0,91.9 366.6,94.4 C366.2,96.9 364.7,100.2 362.9,102.0 C361.1,103.8 358.1,105.2 356.0,105.5 C353.9,105.8 351.0,104.2 350.0,104.0" fill="none" stroke="#70c2e6" stroke-width="3.20" stroke-linecap="round" stroke-linejoin="round"/>
<path d="M265.0,56.0 L265.2,55.9 L265.6,55.4 L266.4,54.7 L267.4,54.0 L268.6,53.3 L269.9,52.9 L271.1,52.8 L272.2,53.2" fill="none" stroke="#142e88" stroke-width="3.6" stroke-linecap="round" stroke-linejoin="round"/><path d="M273.8,60.8 L274.0,60.7 L274.4,60.2 L275.2,59.5 L276.2,58.8 L277.4,58.1 L278.7,57.7 L279.9,57.6 L281.0,58.0" fill="none" stroke="#142e88" stroke-width="3.6" stroke-linecap="round" stroke-linejoin="round"/><path d="M263.4,48.4 L264.3,49.1 L265.0,50.2 L265.3,51.5 L265.4,52.8 L265.3,54.1 L265.1,55.1 L265.0,55.8 L265.0,56.0" fill="none" stroke="#1c3c9c" stroke-width="3.6" stroke-linecap="round" stroke-linejoin="round"/><path d="M263.4,48.4 L264.3,49.1 L265.0,50.2 L265.3,51.5 L265.4,52.8 L265.3,54.1 L265.1,55.1 L265.0,55.8 L265.0,56.0" fill="none" stroke="#3a5cc0" stroke-width="1.26" stroke-linecap="round" stroke-linejoin="round"/><path d="M272.2,53.2 L273.1,53.9 L273.8,55.0 L274.1,56.3 L274.2,57.6 L274.1,58.9 L273.9,59.9 L273.8,60.6 L273.8,60.8" fill="none" stroke="#1c3c9c" stroke-width="3.6" stroke-linecap="round" stroke-linejoin="round"/><path d="M272.2,53.2 L273.1,53.9 L273.8,55.0 L274.1,56.3 L274.2,57.6 L274.1,58.9 L273.9,59.9 L273.8,60.6 L273.8,60.8" fill="none" stroke="#3a5cc0" stroke-width="1.26" stroke-linecap="round" stroke-linejoin="round"/><path d="M281.0,58.0 L281.9,58.7 L282.6,59.8 L282.9,61.1 L283.0,62.4 L282.9,63.7 L282.7,64.7 L282.6,65.4 L282.6,65.6" fill="none" stroke="#1c3c9c" stroke-width="3.6" stroke-linecap="round" stroke-linejoin="round"/><path d="M281.0,58.0 L281.9,58.7 L282.6,59.8 L282.9,61.1 L283.0,62.4 L282.9,63.7 L282.7,64.7 L282.6,65.4 L282.6,65.6" fill="none" stroke="#3a5cc0" stroke-width="1.26" stroke-linecap="round" stroke-linejoin="round"/>
<path d="M282.0,62.6 C283.3,63.0 287.0,63.5 290.0,64.7 C293.0,65.9 296.5,68.5 299.8,69.7 C303.1,71.0 306.4,71.0 309.7,72.2 C313.0,73.4 316.3,75.0 319.6,77.1 C322.9,79.1 326.2,82.0 329.5,84.5 C332.8,87.0 336.1,89.6 339.4,91.9 C342.7,94.2 346.0,96.2 349.3,98.1 C352.6,100.0 356.3,101.9 359.1,103.1 C361.9,104.3 364.9,105.1 366.0,105.5" fill="none" stroke="#1a64b2" stroke-width="7.8" stroke-linecap="round" stroke-linejoin="round"/><path d="M282.0,62.6 C283.3,63.0 287.0,63.5 290.0,64.7 C293.0,65.9 296.5,68.5 299.8,69.7 C303.1,71.0 306.4,71.0 309.7,72.2 C313.0,73.4 316.3,75.0 319.6,77.1 C322.9,79.1 326.2,82.0 329.5,84.5 C332.8,87.0 336.1,89.6 339.4,91.9 C342.7,94.2 346.0,96.2 349.3,98.1 C352.6,100.0 356.3,101.9 359.1,103.1 C361.9,104.3 364.9,105.1 366.0,105.5" fill="none" stroke="#3084ca" stroke-width="2.40" stroke-linecap="round" stroke-linejoin="round"/>
<ellipse cx="284" cy="65" rx="7.6" ry="6.2" fill="#1c62b0" stroke="#154f98" stroke-width="0.8" transform="rotate(15 284 65)"/>
<ellipse cx="284" cy="63.0" rx="5.5" ry="1.7" fill="#4090d0" transform="rotate(15 284 65)"/>
<ellipse cx="305.5" cy="71" rx="8.2" ry="6.2" fill="#1c62b0" stroke="#154f98" stroke-width="0.8" transform="rotate(18 305.5 71)"/>
<ellipse cx="305.5" cy="69.0" rx="5.9" ry="1.7" fill="#4090d0" transform="rotate(18 305.5 71)"/>
<ellipse cx="325" cy="82" rx="8.2" ry="6.2" fill="#1c62b0" stroke="#154f98" stroke-width="0.8" transform="rotate(32 325 82)"/>
<ellipse cx="325" cy="80.0" rx="5.9" ry="1.7" fill="#4090d0" transform="rotate(32 325 82)"/>
<ellipse cx="344" cy="96" rx="7.4" ry="6.2" fill="#1c62b0" stroke="#154f98" stroke-width="0.8" transform="rotate(28 344 96)"/>
<ellipse cx="344" cy="94.0" rx="5.3" ry="1.7" fill="#4090d0" transform="rotate(28 344 96)"/>
<path d="M331,99 C336,102 342,104 348,106" fill="none" stroke="#e2c070" stroke-width="5.0" stroke-linecap="round" stroke-linejoin="round"/><path d="M331,99 C336,102 342,104 348,106" fill="none" stroke="#f2dca0" stroke-width="1.80" stroke-linecap="round" stroke-linejoin="round"/>
<path d="M240,80 C248,82 256,85 266,88" fill="none" stroke="#e4622a" stroke-width="9" stroke-linecap="round" stroke-linejoin="round"/><path d="M240,80 C248,82 256,85 266,88" fill="none" stroke="#f08450" stroke-width="3.00" stroke-linecap="round" stroke-linejoin="round"/>
<path d="M270.0,100.6 L270.6,99.8 L271.3,97.8 L272.2,94.8 L273.3,91.2 L274.5,87.8 L275.9,84.9 L277.3,83.2 L278.7,82.7" fill="none" stroke="#c86e26" stroke-width="4.4" stroke-linecap="round" stroke-linejoin="round"/>
<path d="M285.1,101.5 L285.7,100.5 L286.4,98.3 L287.3,95.2 L288.4,91.6 L289.7,88.2 L291.1,85.5 L292.5,83.9 L293.9,83.6" fill="none" stroke="#c86e26" stroke-width="4.4" stroke-linecap="round" stroke-linejoin="round"/>
<path d="M300.1,102.3 L300.7,101.2 L301.5,98.8 L302.4,95.6 L303.6,92.0 L304.9,88.7 L306.3,86.1 L307.7,84.6 L309.1,84.6" fill="none" stroke="#c86e26" stroke-width="4.4" stroke-linecap="round" stroke-linejoin="round"/>
<path d="M315.2,103.1 L315.8,101.8 L316.6,99.3 L317.6,96.0 L318.7,92.5 L320.0,89.2 L321.4,86.7 L322.9,85.4 L324.2,85.5" fill="none" stroke="#c86e26" stroke-width="4.4" stroke-linecap="round" stroke-linejoin="round"/>
<path d="M330.3,103.9 L330.9,102.4" fill="none" stroke="#c86e26" stroke-width="4.4" stroke-linecap="round" stroke-linejoin="round"/>
<path d="M263.5,81.8 L264.9,82.6 L266.0,84.7 L267.1,87.8 L267.9,91.4 L268.5,95.0 L269.1,98.0 L269.5,100.0 L270.0,100.6" fill="none" stroke="#ec8a36" stroke-width="8.2" stroke-linecap="round" stroke-linejoin="round"/><path d="M263.5,81.8 L264.9,82.6 L266.0,84.7 L267.1,87.8 L267.9,91.4 L268.5,95.0 L269.1,98.0 L269.5,100.0 L270.0,100.6" fill="none" stroke="#f8c67e" stroke-width="3.00" stroke-linecap="round" stroke-linejoin="round"/>
<path d="M278.7,82.7 L280.0,83.7 L281.2,85.9 L282.2,89.1 L283.0,92.8 L283.6,96.3 L284.1,99.2 L284.6,101.0 L285.1,101.5" fill="none" stroke="#ec8a36" stroke-width="8.2" stroke-linecap="round" stroke-linejoin="round"/><path d="M278.7,82.7 L280.0,83.7 L281.2,85.9 L282.2,89.1 L283.0,92.8 L283.6,96.3 L284.1,99.2 L284.6,101.0 L285.1,101.5" fill="none" stroke="#f8c67e" stroke-width="3.00" stroke-linecap="round" stroke-linejoin="round"/>
<path d="M293.9,83.6 L295.2,84.8 L296.3,87.2 L297.3,90.4 L298.1,94.1 L298.7,97.6 L299.2,100.4 L299.6,102.0 L300.1,102.3" fill="none" stroke="#f2a444" stroke-width="8.2" stroke-linecap="round" stroke-linejoin="round"/><path d="M293.9,83.6 L295.2,84.8 L296.3,87.2 L297.3,90.4 L298.1,94.1 L298.7,97.6 L299.2,100.4 L299.6,102.0 L300.1,102.3" fill="none" stroke="#f8c67e" stroke-width="3.00" stroke-linecap="round" stroke-linejoin="round"/>
<path d="M309.1,84.6 L310.3,85.9 L311.5,88.4 L312.4,91.8 L313.1,95.4 L313.7,98.9 L314.2,101.5 L314.7,103.0 L315.2,103.1" fill="none" stroke="#f2a444" stroke-width="8.2" stroke-linecap="round" stroke-linejoin="round"/><path d="M309.1,84.6 L310.3,85.9 L311.5,88.4 L312.4,91.8 L313.1,95.4 L313.7,98.9 L314.2,101.5 L314.7,103.0 L315.2,103.1" fill="none" stroke="#f8c67e" stroke-width="3.00" stroke-linecap="round" stroke-linejoin="round"/>
<path d="M324.2,85.5 L325.5,87.0 L326.6,89.7 L327.5,93.1 L328.2,96.8 L328.8,100.1 L329.3,102.7 L329.8,104.0 L330.3,103.9" fill="none" stroke="#f2a444" stroke-width="8.2" stroke-linecap="round" stroke-linejoin="round"/><path d="M324.2,85.5 L325.5,87.0 L326.6,89.7 L327.5,93.1 L328.2,96.8 L328.8,100.1 L329.3,102.7 L329.8,104.0 L330.3,103.9" fill="none" stroke="#f8c67e" stroke-width="3.00" stroke-linecap="round" stroke-linejoin="round"/>
<path d="M306,106 C310,110 316,110 320,106" fill="none" stroke="#d01a28" stroke-width="1.5" stroke-linecap="round" stroke-linejoin="round"/>
<path d="M318,100 C320,104 318,110 312,114" fill="none" stroke="#d01a28" stroke-width="1.3" stroke-linecap="round" stroke-linejoin="round"/></g>
<text x="8.6" y="139.6" font-family="Liberation Sans, Arial, sans-serif" font-size="10.5" fill="#111">A</text>
<text x="186.4" y="139.3" font-family="Liberation Sans, Arial, sans-serif" font-size="10.5" fill="#111">B</text>
<g id="C"><g id="tracks">
<rect x="18.2" y="165.70" width="1.0" height="4.95" fill="#157a70"/>
<rect x="64.5" y="165.70" width="5.4" height="4.95" fill="#1ccfb4"/>
<rect x="64.5" y="169.75" width="5.4" height="0.9" fill="#159c88" opacity="0.6"/>
<rect x="276.4" y="165.70" width="12.1" height="4.95" fill="#1ccfb4"/>
<rect x="276.4" y="169.75" width="12.1" height="0.9" fill="#159c88" opacity="0.6"/>
<rect x="16.4" y="170.65" width="10.5" height="4.95" fill="#38b8d8"/>
<rect x="16.4" y="174.70" width="10.5" height="0.9" fill="#2a8aa6" opacity="0.6"/>
<rect x="60.2" y="170.65" width="12.4" height="4.95" fill="#38b8d8"/>
<rect x="60.2" y="174.70" width="12.4" height="0.9" fill="#2a8aa6" opacity="0.6"/>
<rect x="88.2" y="170.65" width="2.6" height="4.95" fill="#38b8d8"/>
<rect x="88.2" y="174.70" width="2.6" height="0.9" fill="#2a8aa6" opacity="0.6"/>
<rect x="95.9" y="170.65" width="3.2" height="4.95" fill="#38b8d8"/>
<rect x="95.9" y="174.70" width="3.2" height="0.9" fill="#2a8aa6" opacity="0.6"/>
<rect x="102.1" y="170.65" width="15.6" height="4.95" fill="#38b8d8"/>
<rect x="102.1" y="174.70" width="15.6" height="0.9" fill="#2a8aa6" opacity="0.6"/>
<rect x="124.7" y="170.65" width="6.4" height="4.95" fill="#38b8d8"/>
<rect x="124.7" y="174.70" width="6.4" height="0.9" fill="#2a8aa6" opacity="0.6"/>
<rect x="143.0" y="170.65" width="1.6" height="4.95" fill="#38b8d8"/>
<rect x="217.2" y="170.65" width="3.8" height="4.95" fill="#38b8d8"/>
<rect x="217.2" y="174.70" width="3.8" height="0.9" fill="#2a8aa6" opacity="0.6"/>
<rect x="276.2" y="170.65" width="12.3" height="4.95" fill="#38b8d8"/>
<rect x="276.2" y="174.70" width="12.3" height="0.9" fill="#2a8aa6" opacity="0.6"/>
<rect x="59.9" y="175.60" width="12.1" height="4.95" fill="#d84860"/>
<rect x="59.9" y="179.65" width="12.1" height="0.9" fill="#a83448" opacity="0.6"/>
<rect x="90.8" y="175.60" width="1.1" height="4.95" fill="#d84860"/>
<rect x="94.4" y="175.60" width="2.4" height="4.95" fill="#d84860"/>
<rect x="94.4" y="179.65" width="2.4" height="0.9" fill="#a83448" opacity="0.6"/>
<rect x="98.9" y="175.60" width="12.9" height="4.95" fill="#d84860"/>
<rect x="98.9" y="179.65" width="12.9" height="0.9" fill="#a83448" opacity="0.6"/>
<rect x="116.3" y="175.60" width="9.8" height="4.95" fill="#d84860"/>
<rect x="116.3" y="179.65" width="9.8" height="0.9" fill="#a83448" opacity="0.6"/>
<rect x="130.4" y="175.60" width="1.5" height="4.95" fill="#d84860"/>
<rect x="142.2" y="175.60" width="1.1" height="4.95" fill="#d84860"/>
<rect x="147.8" y="175.60" width="1.0" height="4.95" fill="#d84860"/>
<rect x="271.0" y="175.60" width="8.7" height="4.95" fill="#d84860"/>
<rect x="271.0" y="179.65" width="8.7" height="0.9" fill="#a83448" opacity="0.6"/>
<rect x="280.2" y="175.60" width="1.1" height="4.95" fill="#e8a0a8"/>
<rect x="281.3" y="175.60" width="2.1" height="4.95" fill="#d84860"/>
<rect x="281.3" y="179.65" width="2.1" height="0.9" fill="#a83448" opacity="0.6"/>
<rect x="16.4" y="180.55" width="3.8" height="4.95" fill="#b04858"/>
<rect x="16.4" y="184.60" width="3.8" height="0.9" fill="#883442" opacity="0.6"/>
<rect x="62.0" y="180.55" width="10.8" height="4.95" fill="#b04858"/>
<rect x="62.0" y="184.60" width="10.8" height="0.9" fill="#883442" opacity="0.6"/>
<rect x="99.1" y="180.55" width="6.3" height="4.95" fill="#b04858"/>
<rect x="99.1" y="184.60" width="6.3" height="0.9" fill="#883442" opacity="0.6"/>
<rect x="108.0" y="180.55" width="5.4" height="4.95" fill="#b04858"/>
<rect x="108.0" y="184.60" width="5.4" height="0.9" fill="#883442" opacity="0.6"/>
<rect x="119.5" y="180.55" width="0.8" height="4.95" fill="#b04858"/>
<rect x="124.0" y="180.55" width="2.5" height="4.95" fill="#b04858"/>
<rect x="124.0" y="184.60" width="2.5" height="0.9" fill="#883442" opacity="0.6"/>
<rect x="142.4" y="180.55" width="1.1" height="4.95" fill="#b04858"/>
<rect x="272.1" y="180.55" width="16.2" height="4.95" fill="#b04858"/>
<rect x="272.1" y="184.60" width="16.2" height="0.9" fill="#883442" opacity="0.6"/>
<rect x="16.4" y="185.50" width="7.1" height="4.95" fill="#e8b860"/>
<rect x="16.4" y="189.55" width="7.1" height="0.9" fill="#b88c40" opacity="0.6"/>
<rect x="23.9" y="185.50" width="2.1" height="4.95" fill="#e8b860"/>
<rect x="23.9" y="189.55" width="2.1" height="0.9" fill="#b88c40" opacity="0.6"/>
<rect x="26.9" y="185.50" width="1.1" height="4.95" fill="#d8c8a0"/>
<rect x="35.0" y="185.50" width="1.0" height="4.95" fill="#b8b0a0"/>
<rect x="50.0" y="185.50" width="1.5" height="4.95" fill="#d8c8a0"/>
<rect x="52.7" y="185.50" width="5.3" height="4.95" fill="#d8c098"/>
<rect x="58.0" y="185.50" width="21.0" height="4.95" fill="#e8b860"/>
<rect x="58.0" y="189.55" width="21.0" height="0.9" fill="#b88c40" opacity="0.6"/>
<rect x="80.6" y="185.50" width="0.7" height="4.95" fill="#b8b0a0"/>
<rect x="84.4" y="185.50" width="2.6" height="4.95" fill="#d8c098"/>
<rect x="87.5" y="185.50" width="32.9" height="4.95" fill="#e8b860"/>
<rect x="87.5" y="189.55" width="32.9" height="0.9" fill="#b88c40" opacity="0.6"/>
<rect x="122.3" y="185.50" width="11.5" height="4.95" fill="#e8b860"/>
<rect x="122.3" y="189.55" width="11.5" height="0.9" fill="#b88c40" opacity="0.6"/>
<rect x="137.0" y="185.50" width="1.5" height="4.95" fill="#d8c8a0"/>
<rect x="140.5" y="185.50" width="2.8" height="4.95" fill="#e8b860"/>
<rect x="140.5" y="189.55" width="2.8" height="0.9" fill="#b88c40" opacity="0.6"/>
<rect x="145.1" y="185.50" width="0.9" height="4.95" fill="#b8b0a0"/>
<rect x="195.1" y="185.50" width="0.9" height="4.95" fill="#e8b860"/>
<rect x="216.1" y="185.50" width="7.0" height="4.95" fill="#e8b860"/>
<rect x="216.1" y="189.55" width="7.0" height="0.9" fill="#b88c40" opacity="0.6"/>
<rect x="264.1" y="185.50" width="2.9" height="4.95" fill="#e0c898"/>
<rect x="267.0" y="185.50" width="21.5" height="4.95" fill="#e8b860"/>
<rect x="267.0" y="189.55" width="21.5" height="0.9" fill="#b88c40" opacity="0.6"/>
<rect x="16.4" y="190.45" width="10.5" height="4.95" fill="#6870a0"/>
<rect x="16.4" y="194.50" width="10.5" height="0.9" fill="#4c5278" opacity="0.6"/>
<rect x="57.0" y="190.45" width="19.9" height="4.95" fill="#6870a0"/>
<rect x="57.0" y="194.50" width="19.9" height="0.9" fill="#4c5278" opacity="0.6"/>
<rect x="88.5" y="190.45" width="57.4" height="4.95" fill="#6870a0"/>
<rect x="88.5" y="194.50" width="57.4" height="0.9" fill="#4c5278" opacity="0.6"/>
<rect x="188.2" y="190.45" width="11.6" height="4.95" fill="#6870a0"/>
<rect x="188.2" y="194.50" width="11.6" height="0.9" fill="#4c5278" opacity="0.6"/>
<rect x="245.3" y="190.45" width="6.7" height="4.95" fill="#6870a0"/>
<rect x="245.3" y="194.50" width="6.7" height="0.9" fill="#4c5278" opacity="0.6"/>
<rect x="268.9" y="190.45" width="19.6" height="4.95" fill="#6870a0"/>
<rect x="268.9" y="194.50" width="19.6" height="0.9" fill="#4c5278" opacity="0.6"/>
<rect x="16.4" y="195.40" width="5.6" height="4.95" fill="#d070b8"/>
<rect x="16.4" y="199.45" width="5.6" height="0.9" fill="#a04e8c" opacity="0.6"/>
<rect x="58.0" y="195.40" width="62.6" height="4.95" fill="#d070b8"/>
<rect x="58.0" y="199.45" width="62.6" height="0.9" fill="#a04e8c" opacity="0.6"/>
<rect x="122.3" y="195.40" width="8.3" height="4.95" fill="#d070b8"/>
<rect x="122.3" y="199.45" width="8.3" height="0.9" fill="#a04e8c" opacity="0.6"/>
<rect x="192.7" y="195.40" width="5.3" height="4.95" fill="#d070b8"/>
<rect x="192.7" y="199.45" width="5.3" height="0.9" fill="#a04e8c" opacity="0.6"/>
<rect x="216.1" y="195.40" width="7.0" height="4.95" fill="#d070b8"/>
<rect x="216.1" y="199.45" width="7.0" height="0.9" fill="#a04e8c" opacity="0.6"/>
<rect x="268.0" y="195.40" width="20.5" height="4.95" fill="#d070b8"/>
<rect x="268.0" y="199.45" width="20.5" height="0.9" fill="#a04e8c" opacity="0.6"/>
<rect x="16.4" y="200.35" width="7.5" height="4.95" fill="#788c68"/>
<rect x="16.4" y="204.40" width="7.5" height="0.9" fill="#56684a" opacity="0.6"/>
<rect x="45.7" y="200.35" width="22.0" height="4.95" fill="#788c68"/>
<rect x="45.7" y="204.40" width="22.0" height="0.9" fill="#56684a" opacity="0.6"/>
<rect x="80.1" y="200.35" width="2.7" height="4.95" fill="#788c68"/>
<rect x="80.1" y="204.40" width="2.7" height="0.9" fill="#56684a" opacity="0.6"/>
<rect x="99.1" y="200.35" width="10.0" height="4.95" fill="#788c68"/>
<rect x="99.1" y="204.40" width="10.0" height="0.9" fill="#56684a" opacity="0.6"/>
<rect x="122.0" y="200.35" width="11.8" height="4.95" fill="#788c68"/>
<rect x="122.0" y="204.40" width="11.8" height="0.9" fill="#56684a" opacity="0.6"/>
<rect x="141.1" y="200.35" width="11.3" height="4.95" fill="#788c68"/>
<rect x="141.1" y="204.40" width="11.3" height="0.9" fill="#56684a" opacity="0.6"/>
<rect x="187.1" y="200.35" width="11.3" height="4.95" fill="#788c68"/>
<rect x="187.1" y="204.40" width="11.3" height="0.9" fill="#56684a" opacity="0.6"/>
<rect x="252.5" y="200.35" width="2.5" height="4.95" fill="#788c68"/>
<rect x="252.5" y="204.40" width="2.5" height="0.9" fill="#56684a" opacity="0.6"/>
<rect x="267.3" y="200.35" width="18.6" height="4.95" fill="#788c68"/>
<rect x="267.3" y="204.40" width="18.6" height="0.9" fill="#56684a" opacity="0.6"/>
</g>
<g font-family="Liberation Sans, Arial, sans-serif" font-size="5.1" fill="#222">
<text x="302.1" y="165.90">Espritz-D</text>
<text x="302.1" y="170.78">Espritz-X</text>
<text x="302.1" y="175.65">Espritz-N</text>
<text x="302.1" y="180.53">IUPred-L</text>
<text x="302.1" y="185.40">IUPred-S</text>
<text x="302.1" y="190.28">PV2</text>
<text x="302.1" y="195.15">PrDOS</text>
<text x="302.1" y="200.03">VSL2b</text>
<text x="302.1" y="204.90">VLXT</text>
</g>
<path d="M290.5,160.4 C296.275,160.4 296.275,162.4 296.275,165.4 L296.275,179.55 C296.275,182.55 298.375,183.55 301.0,183.55 C298.375,183.55 296.275,184.55 296.275,187.55 L296.275,201.7 C296.275,204.7 296.275,206.7 290.5,206.7" fill="none" stroke="#777" stroke-width="0.7"/>
<path d="M289,209.4 C294.5,209.4 294.5,211.4 294.5,214.4 L294.5,222.35000000000002 C294.5,225.35000000000002 296.5,226.35000000000002 299,226.35000000000002 C296.5,226.35000000000002 294.5,227.35000000000002 294.5,230.35000000000002 L294.5,238.3 C294.5,241.3 294.5,243.3 289,243.3" fill="none" stroke="#777" stroke-width="0.7"/>
<path d="M289,263.8 C294.5,263.8 294.5,265.8 294.5,268.8 L294.5,264.75 C294.5,267.75 296.5,268.75 299,268.75 C296.5,268.75 294.5,269.75 294.5,272.75 L294.5,268.7 C294.5,271.7 294.5,273.7 289,273.7" fill="none" stroke="#777" stroke-width="0.7"/>
<path d="M289,279.6 C294.5,279.6 294.5,281.6 294.5,284.6 L294.5,289.25 C294.5,292.25 296.5,293.25 299,293.25 C296.5,293.25 294.5,294.25 294.5,297.25 L294.5,301.9 C294.5,304.9 294.5,306.9 289,306.9" fill="none" stroke="#777" stroke-width="0.7"/>
<g font-family="Liberation Serif, Times New Roman, serif" font-size="7.4" fill="#1a1a1a" stroke="#1a1a1a" stroke-width="0.15">
<text x="302.3" y="228.6" textLength="56.4" lengthAdjust="spacingAndGlyphs">Predicted Domains</text>
<text x="302.3" y="270.9" textLength="44.5" lengthAdjust="spacingAndGlyphs">MoRF Regions</text>
<text x="302.3" y="296.0" textLength="31.6" lengthAdjust="spacingAndGlyphs">PTM Sites</text>
</g>
<rect x="16" y="215.0" width="271" height="1.3" fill="#333"/>
<rect x="18.2" y="215.6" width="100.9" height="7.6" rx="3.8" fill="#d6da94" stroke="#aab238" stroke-width="1.3"/>
<rect x="141.0" y="215.6" width="138.3" height="7.6" rx="3.8" fill="#eea0a2" stroke="#d84a52" stroke-width="1.3"/>
<g stroke="#9a9a9a" stroke-width="0.7" stroke-dasharray="2.2,1.6">
<line x1="21.3" y1="224.5" x2="21.3" y2="302.4"/>
<line x1="50.8" y1="224.5" x2="50.8" y2="288.0"/>
<line x1="70.4" y1="224.5" x2="70.4" y2="281.3"/>
<line x1="90.3" y1="224.5" x2="90.3" y2="302.4"/>
<line x1="107.3" y1="224.5" x2="107.3" y2="295.2"/>
<line x1="110.3" y1="224.5" x2="110.3" y2="288.0"/>
<line x1="121.6" y1="224.5" x2="121.6" y2="281.0"/>
<line x1="156.3" y1="224.5" x2="156.3" y2="301.4"/>
<line x1="221.7" y1="224.5" x2="221.7" y2="295.4"/>
<line x1="278.5" y1="224.5" x2="278.5" y2="287.6"/>
</g>
<path d="M65.4,223.3 L67.9,223.3 L69.1,221.4 L70.3,223.3 L72.8,223.3 L72.8,233.9 L65.4,233.9 Z" fill="#fff" stroke="#666" stroke-width="0.7"/>
<text x="69.1" y="232.0" font-family="Liberation Sans, Arial, sans-serif" font-size="6.4" text-anchor="middle" fill="#444">1</text>
<path d="M206.8,223.3 L209.3,223.3 L210.5,221.4 L211.7,223.3 L214.2,223.3 L214.2,233.9 L206.8,233.9 Z" fill="#fff" stroke="#666" stroke-width="0.7"/>
<text x="210.5" y="232.0" font-family="Liberation Sans, Arial, sans-serif" font-size="6.4" text-anchor="middle" fill="#444">2</text>
<rect x="16" y="251.6" width="97" height="7.4" fill="#fff"/>
<text x="16.2" y="257.8" font-family="Liberation Sans, Arial, sans-serif" font-size="7.1" fill="#111" stroke="#111" stroke-width="0.15" textLength="96.1" lengthAdjust="spacingAndGlyphs">Predicted DisorderAgreement</text>
<rect x="16.3" y="259.2" width="271.5" height="4.9" fill="#fff" stroke="#aaa" stroke-width="0.6"/>
<rect x="16.6" y="259.5" width="8.1" height="4.4" fill="#10e040"/>
<rect x="51.8" y="259.5" width="3.2" height="4.4" fill="#a0f0b0"/>
<rect x="57" y="259.5" width="15.0" height="4.4" fill="#10e040"/>
<rect x="72" y="259.5" width="2.0" height="4.4" fill="#60e880"/>
<rect x="76" y="259.5" width="4.0" height="4.4" fill="#b0f0c0"/>
<rect x="83" y="259.5" width="4.0" height="4.4" fill="#b0f0c0"/>
<rect x="87" y="259.5" width="46.0" height="4.4" fill="#10e040"/>
<rect x="140" y="259.5" width="4.7" height="4.4" fill="#10e040"/>
<rect x="144.7" y="259.5" width="3.3" height="4.4" fill="#a0f0b0"/>
<rect x="188" y="259.5" width="4.0" height="4.4" fill="#a0f0b0"/>
<rect x="192" y="259.5" width="5.4" height="4.4" fill="#10e040"/>
<rect x="197.4" y="259.5" width="2.6" height="4.4" fill="#a0f0b0"/>
<rect x="216.3" y="259.5" width="4.7" height="4.4" fill="#10e040"/>
<rect x="268" y="259.5" width="19.5" height="4.4" fill="#10e040"/>
<rect x="75.3" y="267.0" width="7.5" height="3.8" fill="#f2c400"/>
<polyline points="75.7,268.2 76.9,269.6 78.1,268.2 79.3,269.6 80.5,268.2 81.7,269.6" fill="none" stroke="#1a1400" stroke-width="1.0"/>
<rect x="117" y="267.0" width="4.3" height="3.8" fill="#f2c400"/>
<polyline points="117.4,268.2 118.6,269.6 119.8,268.2" fill="none" stroke="#1a1400" stroke-width="1.0"/>
<rect x="131.6" y="267.0" width="4.1" height="3.8" fill="#f2c400"/>
<polyline points="132.0,268.2 133.2,269.6 134.4,268.2" fill="none" stroke="#1a1400" stroke-width="1.0"/>
<circle cx="21.3" cy="298.0" r="3.5" fill="#9a2aa8"/>
<text x="21.3" y="299.8" font-family="Liberation Sans, Arial, sans-serif" font-size="5" text-anchor="middle" fill="#fff">U</text>
<circle cx="21.0" cy="305.4" r="3.5" fill="#f01c1c"/>
<text x="21.0" y="307.2" font-family="Liberation Sans, Arial, sans-serif" font-size="5" text-anchor="middle" fill="#fff">P</text>
<circle cx="50.8" cy="291.0" r="3.5" fill="#f01c1c"/>
<text x="50.8" y="292.8" font-family="Liberation Sans, Arial, sans-serif" font-size="5" text-anchor="middle" fill="#fff">P</text>
<circle cx="70.4" cy="284.3" r="3.5" fill="#f2e21c"/>
<text x="70.4" y="286.1" font-family="Liberation Sans, Arial, sans-serif" font-size="5" text-anchor="middle" fill="#fff">A</text>
<circle cx="90.3" cy="305.4" r="3.5" fill="#9a2aa8"/>
<text x="90.3" y="307.2" font-family="Liberation Sans, Arial, sans-serif" font-size="5" text-anchor="middle" fill="#fff">U</text>
<circle cx="107.3" cy="298.2" r="3.5" fill="#f01c1c"/>
<text x="107.3" y="300.0" font-family="Liberation Sans, Arial, sans-serif" font-size="5" text-anchor="middle" fill="#fff">P</text>
<circle cx="110.3" cy="291.0" r="3.5" fill="#f01c1c"/>
<text x="110.3" y="292.8" font-family="Liberation Sans, Arial, sans-serif" font-size="5" text-anchor="middle" fill="#fff">P</text>
<circle cx="121.6" cy="284.0" r="3.5" fill="#f01c1c"/>
<text x="121.6" y="285.8" font-family="Liberation Sans, Arial, sans-serif" font-size="5" text-anchor="middle" fill="#fff">P</text>
<circle cx="156.3" cy="304.4" r="3.5" fill="#9a2aa8"/>
<text x="156.3" y="306.2" font-family="Liberation Sans, Arial, sans-serif" font-size="5" text-anchor="middle" fill="#fff">U</text>
<circle cx="221.7" cy="298.4" r="3.5" fill="#9a2aa8"/>
<text x="221.7" y="300.2" font-family="Liberation Sans, Arial, sans-serif" font-size="5" text-anchor="middle" fill="#fff">U</text>
<circle cx="278.5" cy="290.6" r="3.5" fill="#f01c1c"/>
<text x="278.5" y="292.4" font-family="Liberation Sans, Arial, sans-serif" font-size="5" text-anchor="middle" fill="#fff">P</text>
<line x1="15.7" y1="318.5" x2="287.8" y2="318.5" stroke="#555" stroke-width="0.8"/>
<g font-family="Liberation Serif, Times New Roman, serif" font-size="6.0" fill="#1a1a1a" stroke="#1a1a1a" stroke-width="0.12" text-anchor="middle">
<line x1="15.7" y1="317" x2="15.7" y2="318.5" stroke="#555" stroke-width="0.6"/>
<text x="15.7" y="327.6">0</text>
<line x1="51.0" y1="317" x2="51.0" y2="318.5" stroke="#555" stroke-width="0.6"/>
<text x="51.0" y="327.6">50</text>
<line x1="86.4" y1="317" x2="86.4" y2="318.5" stroke="#555" stroke-width="0.6"/>
<text x="86.4" y="327.6">100</text>
<line x1="121.7" y1="317" x2="121.7" y2="318.5" stroke="#555" stroke-width="0.6"/>
<text x="121.7" y="327.6">150</text>
<line x1="157.0" y1="317" x2="157.0" y2="318.5" stroke="#555" stroke-width="0.6"/>
<text x="157.0" y="327.6">200</text>
<line x1="192.3" y1="317" x2="192.3" y2="318.5" stroke="#555" stroke-width="0.6"/>
<text x="192.3" y="327.6">250</text>
<line x1="227.7" y1="317" x2="227.7" y2="318.5" stroke="#555" stroke-width="0.6"/>
<text x="227.7" y="327.6">300</text>
<line x1="263.0" y1="317" x2="263.0" y2="318.5" stroke="#555" stroke-width="0.6"/>
<text x="263.0" y="327.6">350</text>
<line x1="287.7" y1="317" x2="287.7" y2="318.5" stroke="#555" stroke-width="0.6"/>
<text x="287.7" y="327.6">385</text>
</g>
<g font-family="Liberation Serif, Times New Roman, serif" fill="#111" stroke="#111" stroke-width="0.18">
<text x="70.9" y="342.9" font-size="9.2" textLength="15.6" lengthAdjust="spacingAndGlyphs">Key:</text>
<text x="83.4" y="351.8" font-size="7.3">Predicted SCOP Structure</text>
<text x="83.4" y="359.8" font-size="7.3">Weaker Support</text>
<text x="83.4" y="368.7" font-size="7.3">Pfam Conserved Domain</text>
<text x="83.4" y="377.2" font-size="7.3">Predicted Disorder</text>
<text x="83.4" y="385.6" font-size="7.3">Predicted MoRFs</text>
<text x="83.4" y="393.8" font-size="7.3">Curated PTM Site</text>
</g>
<rect x="75" y="346.3" width="6.3" height="5.8" fill="#ccc"/>
<rect x="77.6" y="354" width="0.9" height="6" fill="#888"/>
<rect x="75.1" y="362.9" width="6.5" height="6.5" rx="2.3" fill="#c6c6c6" stroke="#6a6a6a" stroke-width="0.8"/>
<rect x="75.1" y="371.5" width="6.5" height="6.2" fill="#c2c2c2" stroke="#8a8a8a" stroke-width="0.6"/>
<path d="M74.4,383.6 l1,-1.2 l1,1.3 l1,-1.3 l1,1.3 l1,-1.3 l1,1.3 l1,-1.1" fill="none" stroke="#111" stroke-width="1.1"/>
<circle cx="78.3" cy="391.2" r="3.3" fill="#9a9a9a" stroke="#555" stroke-width="0.8"/>
<g font-family="Liberation Serif, Times New Roman, serif" fill="#111" stroke="#111" stroke-width="0.18">
<text x="196.5" y="346.8" font-size="8.2" textLength="48.2" lengthAdjust="spacingAndGlyphs">Superfamilies:</text>
<text x="199.8" y="355.1" font-size="7.2" textLength="35.1" lengthAdjust="spacingAndGlyphs">N/ANo Hits</text>
<text x="196.5" y="366.9" font-size="8.3" textLength="23.1" lengthAdjust="spacingAndGlyphs">Pfams:</text>
<text x="207.7" y="376.4" font-size="7.3" textLength="70.4" lengthAdjust="spacingAndGlyphs">[1] PB009879 (Pfam-B)</text>
<text x="207.7" y="384.7" font-size="7.3" textLength="70.4" lengthAdjust="spacingAndGlyphs">[2] PF04855.7 (Family)</text>
</g>
<circle cx="202.7" cy="373.8" r="3.1" fill="#d6da94" stroke="#aab238" stroke-width="1.1"/>
<circle cx="202.7" cy="382.4" r="3.1" fill="#eea0a2" stroke="#d84a52" stroke-width="1.1"/>
<text x="341.8" y="387.7" font-family="Liberation Sans, Arial, sans-serif" font-size="10.5" fill="#222">C</text></g>
<g id="D"><g stroke="#e3e6ea" stroke-width="0.7">
<line x1="38.5" y1="407.3" x2="353.3" y2="407.3"/>
<line x1="38.5" y1="424.7" x2="353.3" y2="424.7"/>
<line x1="38.5" y1="442.1" x2="353.3" y2="442.1"/>
<line x1="38.5" y1="459.5" x2="353.3" y2="459.5"/>
<line x1="38.5" y1="476.8" x2="353.3" y2="476.8"/>
<line x1="38.5" y1="494.2" x2="353.3" y2="494.2"/>
<line x1="38.5" y1="529.0" x2="353.3" y2="529.0"/>
<line x1="77.8" y1="407.3" x2="77.8" y2="529.0"/>
<line x1="117.2" y1="407.3" x2="117.2" y2="529.0"/>
<line x1="156.6" y1="407.3" x2="156.6" y2="529.0"/>
<line x1="195.9" y1="407.3" x2="195.9" y2="529.0"/>
<line x1="235.2" y1="407.3" x2="235.2" y2="529.0"/>
<line x1="274.6" y1="407.3" x2="274.6" y2="529.0"/>
<line x1="313.9" y1="407.3" x2="313.9" y2="529.0"/>
<line x1="353.3" y1="407.3" x2="353.3" y2="529.0"/>
</g>
<line x1="38.5" y1="407.3" x2="38.5" y2="529.0" stroke="#d6d9de" stroke-width="0.8"/>
<line x1="38.5" y1="511.6" x2="353.3" y2="511.6" stroke="#d0d3d8" stroke-width="0.9"/>
<g font-family="Liberation Sans, Arial, sans-serif" font-size="5.4" fill="#595959">
<text x="33" y="409.2" text-anchor="end">1.2</text>
<text x="33" y="426.6" text-anchor="end">1</text>
<text x="33" y="444.0" text-anchor="end">0.8</text>
<text x="33" y="461.4" text-anchor="end">0.6</text>
<text x="33" y="478.7" text-anchor="end">0.4</text>
<text x="33" y="496.1" text-anchor="end">0.2</text>
<text x="33" y="513.5" text-anchor="end">0</text>
<text x="33" y="530.9" text-anchor="end">-0.2</text>
<text x="38.5" y="521.3" text-anchor="middle">0</text>
<text x="77.8" y="521.3" text-anchor="middle">50</text>
<text x="117.2" y="521.3" text-anchor="middle">100</text>
<text x="156.6" y="521.3" text-anchor="middle">150</text>
<text x="195.9" y="521.3" text-anchor="middle">200</text>
<text x="235.2" y="521.3" text-anchor="middle">250</text>
<text x="274.6" y="521.3" text-anchor="middle">300</text>
<text x="313.9" y="521.3" text-anchor="middle">350</text>
<text x="353.3" y="521.3" text-anchor="middle">400</text>
</g>
<polyline points="39.1,466.6 42.9,471.7 46.3,476.9 49.8,483.8 53.2,489.0 56.7,494.1 60.1,497.6 65.2,501.9 68.6,494.1 73.8,482.1 79.0,471.7 84.1,461.4 88.4,453.6 94.5,449.5 98.2,450.5 103.6,452.3 116.4,456.0 125.0,458.6 134.1,459.5 143.2,460.5 152.3,463.2 161.4,466.0 170.0,470.0 179.1,486.8 188.2,489.5 197.3,486.8 206.4,482.3 215.0,479.5 224.1,480.5 233.2,483.2 242.3,486.8 251.4,486.8 260.5,484.0 269.1,491.4 278.2,498.6 287.3,504.0 296.4,500.5 300.0,498.6 305.5,491.4 310.9,484.0 318.2,469.5 325.5,456.8 332.7,451.4 340.0,444.1 341.8,442.3" fill="none" stroke="#f4a070" stroke-width="1.0" stroke-linejoin="round"/>
<polyline points="39.1,446.7 41.2,449.3 42.9,454.5 44.6,464.8 46.3,470.0 48.9,471.7 51.5,473.4 53.2,478.6 55.0,482.1 57.6,487.2 60.1,489.0 62.7,490.7 65.3,492.4 66.0,495.9 68.6,497.6 71.2,495.9 73.8,494.1 77.2,489.0 80.7,482.1 84.1,471.7 86.7,463.1 88.2,455.0 92.7,446.8 95.5,444.0 98.2,448.6 101.8,458.6 107.3,464.0 111.8,465.0 116.4,462.3 123.6,461.4 127.0,460.0 130.5,457.7 135.9,458.6 141.4,456.8 146.8,458.6 152.3,462.3 155.9,467.7 159.5,464.0 162.3,457.7 165.0,462.3 168.6,473.2 172.3,476.8 175.5,471.4 180.0,474.0 184.0,477.0 188.2,480.5 190.9,489.5 193.6,491.4 197.3,484.0 200.0,480.5 203.6,476.8 206.4,482.3 210.0,487.7 214.5,493.2 218.6,498.6 222.3,493.2 225.9,485.9 228.6,476.8 231.4,471.4 234.1,467.7 235.9,462.3 237.7,458.6 239.5,464.0 241.4,475.0 243.2,485.9 245.9,495.0 248.6,498.6 251.4,498.6 254.1,496.8 256.8,487.7 259.5,469.5 261.4,449.5 263.6,444.1 265.5,445.0 267.3,451.4 268.7,469.5 270.0,480.5 271.8,487.7 274.5,493.2 278.2,495.0 281.8,496.8 285.5,495.0 289.1,493.2 292.7,487.7 296.4,480.5 299.1,476.8 301.8,478.6 304.5,480.0 307.3,482.0 310.0,484.0 314.5,484.0 318.2,469.5 321.8,455.0 324.5,449.5 327.3,445.9 330.9,442.3 334.5,438.6 337.3,436.8 340.0,433.2 341.5,431.4" fill="none" stroke="#a5a5a5" stroke-width="1.15" stroke-linejoin="round"/>
<polyline points="39.1,424.3 42.0,424.3 42.9,426.9 44.6,440.7 46.3,459.7 48.1,476.9 49.8,489.0 51.5,501.0 53.2,507.9 55.8,507.0 58.4,505.3 61.9,506.2 65.2,505.3 67.8,502.8 69.5,492.4 71.2,471.7 72.9,451.0 74.7,436.4 76.4,433.8 79.0,432.9 80.7,428.6 82.4,431.2 85.0,430.3 86.7,435.5 88.4,434.7 90.0,436.8 91.8,442.3 94.5,460.5 97.3,484.0 99.1,498.6 101.8,504.0 103.6,506.0 107.3,484.0 110.0,464.0 111.3,460.5 112.7,469.5 114.5,478.6 116.4,487.7 118.2,500.5 120.0,493.2 122.7,491.4 125.0,493.0 126.8,498.6 130.5,469.5 133.2,445.9 134.5,445.0 135.9,449.5 137.7,454.0 139.5,456.8 142.3,464.0 144.1,467.7 146.8,475.0 149.5,478.6 152.3,482.3 154.1,484.0 155.9,478.6 157.7,460.5 159.5,436.8 161.4,427.7 164.1,426.8 165.9,431.4 167.7,442.3 169.5,456.8 171.4,478.6 172.6,491.4 174.1,495.0 176.4,475.0 178.2,460.5 180.0,451.4 182.7,444.0 185.5,443.2 187.3,446.8 189.1,460.5 190.9,475.0 192.7,487.7 194.5,496.8 197.3,497.7 200.0,496.8 202.7,493.2 205.5,491.4 207.3,484.0 209.1,471.4 210.9,468.6 212.7,471.4 214.5,484.0 216.4,495.0 219.5,496.8 223.2,491.4 225.9,484.0 227.7,469.5 229.5,455.0 232.3,447.7 234.1,447.7 235.9,451.4 237.7,454.1 239.5,462.3 241.4,475.0 243.2,489.5 245.9,498.6 249.5,505.9 252.3,509.5 254.1,507.7 255.9,495.0 257.7,480.5 260.5,480.5 261.8,487.7 263.6,498.6 265.5,502.3 267.3,500.5 269.1,495.0 270.9,495.0 272.7,498.6 275.5,502.3 278.2,500.5 280.9,496.8 283.6,497.7 285.5,505.9 287.3,510.5 292.7,511.0 296.4,510.5 298.2,496.8 300.0,478.6 301.8,469.5 302.7,462.3 304.0,467.7 305.5,476.8 307.3,487.7 309.1,498.6 310.9,502.3 312.7,498.6 314.5,491.4 316.4,482.3 318.2,473.2 320.0,460.5 321.8,445.9 323.6,435.0 325.5,427.7 328.2,424.1 330.9,425.0 332.7,428.6 334.5,435.0 336.4,445.9 338.2,458.6 339.6,469.5 340.4,476.8 341.5,471.4" fill="none" stroke="#4a9de0" stroke-width="1.3" stroke-linejoin="round"/>
<polyline points="39.1,426.9 41.2,427.8 42.9,430.3 44.3,439.0 45.5,441.6 47.2,442.4 48.9,454.5 50.7,468.3 52.4,480.3 54.1,492.4 55.8,497.6 58.4,501.0 60.0,499.3 63.4,497.6 65.2,501.0 66.9,489.0 67.8,483.8 69.0,490.7 70.0,495.9 71.7,489.0 73.4,482.1 75.2,485.5 76.9,492.4 78.6,494.1 80.7,489.0 83.3,485.5 85.9,480.3 88.4,476.9 89.5,471.4 91.8,473.2 93.6,478.6 96.4,482.3 99.1,480.5 101.8,477.7 104.5,482.3 107.3,484.0 109.1,487.7 110.9,491.4 112.7,496.0 115.5,491.4 118.2,491.4 121.8,492.3 125.5,491.4 128.6,491.4 131.4,482.3 133.2,487.7 135.9,489.5 139.5,490.5 142.3,493.2 144.1,494.0 145.9,487.7 147.7,481.4 150.5,482.3 153.2,485.0 155.9,478.6 157.7,469.5 159.5,455.0 161.4,449.5 163.2,451.4 165.0,462.3 166.8,476.8 168.6,486.0 171.4,488.6 172.7,489.5 175.5,484.0 178.2,478.6 180.0,484.0 181.8,491.4 184.5,496.8 188.2,500.5 191.8,502.3 195.5,500.5 199.1,502.3 202.7,498.6 206.4,495.0 209.1,493.2 211.8,498.6 215.5,504.0 217.7,502.3 220.5,493.2 222.3,487.7 224.1,493.2 226.8,487.7 229.5,485.9 232.3,484.0 234.1,478.6 235.9,484.0 237.7,487.7 240.5,489.5 243.2,495.0 245.9,500.5 248.6,498.6 251.4,491.4 253.2,480.5 255.0,487.7 256.8,495.0 258.6,487.7 260.0,473.2 261.8,464.0 263.6,458.6 265.1,455.9 266.4,460.5 267.6,473.2 269.1,484.0 270.9,495.0 273.6,498.6 276.4,500.5 279.1,504.0 281.8,507.7 284.5,505.9 287.3,502.3 290.0,498.6 292.7,495.0 295.5,489.5 298.2,495.0 300.0,500.5 301.8,504.0 304.5,505.0 307.3,502.3 310.9,498.6 314.5,491.4 318.2,476.8 320.9,462.3 323.6,451.4 326.4,444.1 329.1,439.5 331.8,437.7 333.3,433.2 334.5,427.7 336.4,426.3 339.1,426.8 340.9,429.5" fill="none" stroke="#ffc000" stroke-width="1.3" stroke-linejoin="round"/>
<polyline points="38.6,502.0 40.3,494.1 42.0,487.2 43.8,492.4 45.0,495.9 46.3,489.0 48.1,485.5 49.4,480.3 50.7,489.0 52.4,487.2 54.1,492.4 55.8,483.8 57.6,487.2 59.3,489.0 61.0,492.4 62.7,490.7 64.4,495.9 65.7,498.0 66.9,499.3 68.6,494.1 70.3,497.6 72.1,499.3 73.8,495.9 75.5,492.4 77.2,494.1 79.0,489.0 80.7,485.5 82.4,487.2 84.1,478.6 85.9,480.3 87.6,471.7 89.3,463.1 90.5,455.0 91.8,446.0 93.6,451.4 95.5,456.8 96.8,454.5 98.2,450.5 100.0,456.8 101.3,463.3 102.7,467.7 104.1,471.1 105.5,471.4 107.3,466.0 108.7,467.7 110.0,467.7 111.3,473.7 112.7,476.8 113.9,475.8 115.2,477.9 116.4,478.6 117.6,478.9 118.8,476.7 120.0,475.0 121.3,470.9 122.7,464.0 124.5,469.5 126.1,465.4 127.7,464.0 129.1,462.1 130.5,460.5 131.8,458.7 133.2,458.6 134.6,460.6 135.9,462.3 137.2,460.7 138.6,458.6 140.0,454.2 141.4,453.2 143.2,460.5 144.4,460.1 145.6,461.0 146.8,462.3 148.0,464.3 149.3,464.3 150.5,464.0 151.7,462.3 152.9,463.9 154.1,462.3 155.4,462.9 156.8,466.0 158.2,464.5 159.5,462.3 160.9,466.5 162.3,473.2 163.7,467.9 165.0,466.0 166.3,470.9 167.7,473.2 169.1,474.5 170.5,477.7 172.1,475.4 173.6,475.0 175.0,473.9 176.4,469.5 178.2,467.7 180.0,475.0 181.3,478.1 182.7,478.6 184.1,473.8 185.5,470.5 187.3,475.0 188.7,480.2 190.0,482.3 191.3,480.6 192.7,478.6 194.1,480.2 195.5,480.5 196.7,480.1 197.9,483.2 199.1,482.3 200.9,473.2 202.2,479.2 203.6,484.0 205.0,487.4 206.4,487.7 207.8,488.1 209.1,485.9 210.4,488.0 211.8,491.4 213.0,492.1 214.3,492.7 215.5,495.0 217.1,492.9 218.6,493.2 220.0,489.0 221.4,487.7 222.8,488.9 224.1,491.4 225.4,489.9 226.8,487.7 228.2,482.4 229.5,480.5 230.9,478.4 232.3,475.0 233.7,471.7 235.0,469.5 236.8,467.7 238.6,482.3 240.5,487.7 241.8,488.9 243.2,491.4 244.6,495.2 245.9,496.8 247.1,497.3 248.3,497.4 249.5,498.6 250.7,497.3 252.0,496.9 253.2,495.0 254.6,488.0 255.9,484.0 257.2,481.1 258.6,475.0 260.5,471.4 261.8,480.5 263.6,476.8 265.5,485.9 267.3,478.6 268.6,481.5 270.0,487.7 271.4,491.3 272.7,493.2 274.1,497.1 275.5,498.6 276.9,496.1 278.2,496.8 279.5,499.6 280.9,500.5 282.2,499.1 283.6,498.6 285.0,497.1 286.4,495.0 287.8,496.1 289.1,500.5 290.5,495.3 291.8,493.2 293.1,488.5 294.5,485.9 295.9,484.7 297.3,480.5 298.6,479.7 300.0,481.0 301.8,478.6 303.6,475.0 305.5,480.5 306.9,485.0 308.2,487.7 309.5,487.3 310.9,484.0 312.2,482.8 313.6,478.6 315.0,476.3 316.4,475.0 318.2,480.5 320.0,482.3 321.8,469.5 323.6,462.3 325.5,456.8 327.3,460.5 329.1,466.0 330.5,464.5 331.8,464.0 333.1,466.8 334.5,469.5 335.9,473.2 337.3,475.0 338.6,476.4 340.0,480.5 341.8,483.2" fill="none" stroke="#70ad47" stroke-width="1.25" stroke-linejoin="round"/>
<polyline points="39.1,447.6 40.3,450.2 42.0,456.2 42.9,463.1 43.8,471.7 44.6,478.6 45.5,483.8 46.3,490.7 47.2,495.9 48.1,492.4 49.4,489.0 50.7,494.1 52.4,495.9 54.1,501.0 55.8,499.3 57.6,502.8 59.3,501.0 61.0,504.5 62.7,502.8 63.4,506.2 65.2,507.9 66.9,506.2 68.6,504.5 70.3,506.2 72.1,502.8 73.8,505.3 75.5,503.6 77.2,501.0 79.0,497.6 80.7,495.9 82.4,492.4 84.1,487.7 85.9,482.0 87.3,473.2 88.7,468.6 90.0,462.3 91.3,460.6 92.7,456.8 94.5,462.3 95.9,461.7 97.3,458.6 99.1,459.0 100.2,462.0 101.4,468.2 103.0,472.8 104.5,474.4 106.0,475.3 107.6,479.0 109.2,482.3 110.7,486.7 111.8,482.5 113.0,477.5 114.3,480.0 115.6,479.0 116.9,480.6 118.1,480.5 119.2,477.7 120.3,475.3 121.5,474.4 122.7,473.0 123.8,471.8 124.9,470.6 126.1,471.3 127.7,469.5 129.1,466.6 130.5,466.0 131.8,465.6 133.2,464.0 134.6,467.5 135.9,467.7 137.2,465.7 138.6,466.0 140.0,461.7 141.4,460.5 143.2,467.7 144.6,471.2 145.9,471.4 147.2,473.3 148.6,475.0 150.0,471.9 151.4,469.5 152.8,468.6 154.1,469.5 155.4,468.9 156.8,467.7 158.2,470.7 159.5,471.4 160.9,470.3 162.3,469.5 163.7,472.0 165.0,475.0 166.3,475.3 167.7,478.6 169.1,481.0 170.5,480.5 172.7,480.5 174.1,476.2 175.5,475.0 176.8,476.8 178.2,478.6 179.6,482.5 180.9,484.0 182.2,481.0 183.6,480.5 185.0,480.3 186.4,478.6 187.8,483.8 189.1,485.9 190.4,490.9 191.8,495.0 193.2,493.2 194.5,489.5 195.9,489.1 197.3,491.4 198.7,487.5 200.0,484.0 201.3,486.5 202.7,491.4 204.1,494.4 205.5,495.0 206.8,492.5 208.2,491.4 209.6,493.9 210.9,496.8 212.1,499.1 213.3,499.2 214.5,498.6 216.1,503.9 217.7,505.9 219.1,502.1 220.5,498.6 221.8,499.5 223.2,500.5 224.6,497.6 225.9,493.2 227.2,492.2 228.6,491.4 230.0,487.0 231.4,484.0 232.8,481.9 234.1,480.5 235.9,476.8 237.7,484.0 239.1,487.4 240.5,493.2 241.8,494.6 243.2,496.8 244.6,500.3 245.9,500.5 247.2,503.0 248.6,502.3 250.0,501.8 251.4,500.5 252.8,497.7 254.1,495.0 255.4,489.9 256.8,485.9 258.1,480.9 259.5,478.6 260.6,481.5 261.8,485.9 263.1,485.1 264.5,482.3 265.9,487.1 267.3,489.5 268.6,490.0 270.0,491.4 271.4,494.2 272.7,495.0 274.1,499.6 275.5,502.3 276.9,504.8 278.2,505.9 279.5,503.8 280.9,500.5 282.2,503.1 283.6,504.0 285.0,501.8 286.4,500.5 287.8,502.1 289.1,502.3 290.5,498.8 291.8,496.8 293.1,494.1 294.5,491.4 295.9,490.5 297.3,487.7 298.6,488.0 300.0,487.0 301.4,486.6 302.7,487.7 304.5,480.5 306.4,484.0 308.2,491.4 310.0,487.7 311.8,489.5 313.6,482.3 315.5,475.0 317.3,478.6 319.1,475.0 320.9,473.2 322.7,469.5 324.5,466.0 326.4,467.7 328.2,464.0 330.0,466.0 331.8,463.2 333.6,471.4 335.5,456.8 337.3,447.7 339.1,438.6 340.3,436.5 341.5,431.4" fill="none" stroke="#c55a11" stroke-width="1.3" stroke-linejoin="round"/>
<g font-family="Liberation Sans, Arial, sans-serif" font-size="5" fill="#595959">
<line x1="72.5" y1="541.5" x2="86.2" y2="541.5" stroke="#4a9de0" stroke-width="1.1"/>
<text x="86.7" y="543.3" textLength="10.9" lengthAdjust="spacingAndGlyphs">VLXT</text>
<line x1="105.6" y1="541.5" x2="119.1" y2="541.5" stroke="#f4a070" stroke-width="1.1"/>
<text x="119.6" y="543.3" textLength="8.8" lengthAdjust="spacingAndGlyphs">VL3</text>
<line x1="136.5" y1="541.5" x2="149.8" y2="541.5" stroke="#a8a8a8" stroke-width="1.1"/>
<text x="150.3" y="543.3" textLength="11.5" lengthAdjust="spacingAndGlyphs">VSL2</text>
<line x1="169.8" y1="541.5" x2="181.6" y2="541.5" stroke="#ffc000" stroke-width="1.1"/>
<text x="182.1" y="543.3" textLength="37.4" lengthAdjust="spacingAndGlyphs">PONDR FIT DATA</text>
<line x1="232" y1="541.5" x2="243.2" y2="541.5" stroke="#70ad47" stroke-width="1.1"/>
<text x="243.7" y="543.3" textLength="23.6" lengthAdjust="spacingAndGlyphs">IUPRED L</text>
<line x1="274" y1="541.5" x2="286" y2="541.5" stroke="#c55a11" stroke-width="1.1"/>
<text x="286.5" y="543.3" textLength="27.1" lengthAdjust="spacingAndGlyphs">IUPRED SH</text>
</g>
<text x="341.5" y="545.4" font-family="Liberation Sans, Arial, sans-serif" font-size="10" fill="#1a1a1a" stroke="#1a1a1a" stroke-width="0.45">D</text></g>
</svg></body></html>
